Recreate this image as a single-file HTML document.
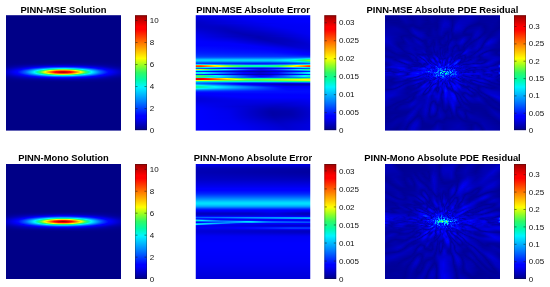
<!DOCTYPE html><html><head><meta charset="utf-8"><title>PINN results</title><style>html,body{margin:0;padding:0;background:#fff}
#f{position:relative;width:550px;height:287px;overflow:hidden;background:#fff;font-family:"Liberation Sans",Arial,sans-serif}
.h{position:absolute;width:115px;height:115px;overflow:hidden}
.h i{display:block;height:1px;width:115px}
.t{position:absolute;width:260px;text-align:center;font-weight:bold;font-size:9.4px;line-height:12px;color:#000;white-space:nowrap}
.c{position:absolute;left:0;top:0;width:11.5px;height:115px;background:linear-gradient(180deg,#9e0000 0%,#f00 10%,#f00 12.5%,#ff8000 25%,#ff0 37.5%,#94ff24 43.75%,#2efa66 50%,#00faa8 56.25%,#00f5ff 62.5%,#0080ff 75%,#00f 87.5%,#00f 89%,#000087 100%);box-shadow:inset 0 0 0 1px rgba(20,20,20,.3)}
.m{position:absolute;left:0;top:0;width:1.5px;height:1px;background:rgba(30,30,30,.55)}
.k{position:absolute;font-size:8px;line-height:10px;color:#111;white-space:nowrap}
</style></head><body><div id="f"><div class="t" style="left:-66.5px;top:3.7px">PINN-MSE Solution</div>
<div class="h" style="left:6px;top:15px;height:116px"><i style="opacity:.8;background:#000087"></i><i style="background:#000087"></i><i style="background:#000087"></i><i style="background:#000087"></i><i style="background:#000087"></i><i style="background:#000087"></i><i style="background:#000087"></i><i style="background:#000087"></i><i style="background:#000087"></i><i style="background:#000087"></i><i style="background:#000087"></i><i style="background:#000087"></i><i style="background:#000087"></i><i style="background:#000087"></i><i style="background:#000087"></i><i style="background:#000087"></i><i style="background:#000087"></i><i style="background:#000087"></i><i style="background:#000087"></i><i style="background:#000087"></i><i style="background:#000087"></i><i style="background:#000087"></i><i style="background:#000087"></i><i style="background:#000087"></i><i style="background:#000087"></i><i style="background:#000087"></i><i style="background:#000087"></i><i style="background:#000087"></i><i style="background:#000087"></i><i style="background:#000087"></i><i style="background:#000087"></i><i style="background:#000087"></i><i style="background:#000087"></i><i style="background:#000087"></i><i style="background:#000087"></i><i style="background:#000087"></i><i style="background:#000087"></i><i style="background:#000087"></i><i style="background:#000087"></i><i style="background:#000087"></i><i style="background:#000087"></i><i style="background:#000087"></i><i style="background:#000087"></i><i style="background:#000087"></i><i style="background:#000087"></i><i style="background:#000087"></i><i style="background:#008"></i><i style="background:linear-gradient(90deg,#008 0.5px,#00008d 85.5px,#008 114.5px)"></i><i style="background:linear-gradient(90deg,#00008a 0.5px,#009 67.5px,#00008a 114.5px)"></i><i style="background:linear-gradient(90deg,#00008c 0.5px,#0000af 59.5px,#00008c 114.5px)"></i><i style="background:linear-gradient(90deg,#000090 0.5px,#0000b8 31.5px,#0000d5 55.5px,#0000c2 76.5px,#000092 110.5px,#00008f 114.5px)"></i><i style="background:linear-gradient(90deg,#000096 0.5px,#0000bf 21.5px,#00f 43.5px,#0004ff 62.5px,#0000fb 73.5px,#0000a7 102.5px,#000095 114.5px)"></i><i style="background:linear-gradient(90deg,#00009e 0.5px,#00c 16.5px,#00f 27.5px,#0008ff 31.5px,#0057ff 47.5px,#0069ff 57.5px,#0054ff 67.5px,#00f 84.5px,#0000f6 88.5px,#0000b3 104.5px,#00009d 114.5px)"></i><i style="background:linear-gradient(90deg,#0000a8 0.5px,#0000dc 13.5px,#00f 19.5px,#0008ff 22.5px,#00bfff 44.5px,#00e8ff 52.5px,#00ecff 59.5px,#0cf 67.5px,#0065ff 80.5px,#0001ff 92.5px,#0000fa 95.5px,#00b 107.5px,#0000a6 114.5px)"></i><i style="background:linear-gradient(90deg,#0000b3 0.5px,#0000eb 11.5px,#00f 15.5px,#0032ff 21.5px,#00f5fd 37.5px,#05faa1 42.5px,#31fa64 47.5px,#70fd3b 52.5px,#83fe2f 56.5px,#77fe36 60.5px,#40fb5a 65.5px,#20fa7b 68.5px,#00f9b1 72.5px,#00f5fd 76.5px,#0032ff 92.5px,#00f 98.5px,#0000eb 102.5px,#0000b3 113.5px,#0000b0 114.5px)"></i><i style="background:linear-gradient(90deg,#0000bd 0.5px,#00f 11.5px,#000fff 14.5px,#006eff 22.5px,#00f5fb 31.5px,#00faac 34.5px,#29fa6d 37.5px,#a6ff1e 41.5px,#e7ff08 43.5px,#fffb00 44.5px,#ff9d00 50.5px,#ff7b00 54.5px,#f70 58.5px,#ff9200 62.5px,#ffd700 67.5px,#fffb00 69.5px,#c7ff13 71.5px,#65fd42 74.5px,#29fa6d 76.5px,#00faac 79.5px,#00f5fb 82.5px,#0053ff 93.5px,#0006ff 100.5px,#0000fa 103.5px,#0000bd 113.5px,#0000b9 114.5px)"></i><i style="background:linear-gradient(90deg,#0000c3 0.5px,#00f 9.5px,#0002ff 11.5px,#005fff 19.5px,#00dfff 27.5px,#00f2ff 28.5px,#00faac 31.5px,#33fa63 34.5px,#aaff1c 37.5px,#ff0 39.5px,#ff2400 48.5px,#f00 50.5px,#f00 51.5px,#d80000 55.5px,#d80000 58.5px,#f00 62.5px,#f00 63.5px,#ff5100 67.5px,#ff0 74.5px,#81fe30 77.5px,#33fa63 79.5px,#00faac 82.5px,#00f2ff 85.5px,#006eff 93.5px,#000cff 101.5px,#00f 103.5px,#0000f6 105.5px,#0000be 114.5px)"></i><i style="background:linear-gradient(90deg,#0000c3 0.5px,#00f 9.5px,#0003ff 11.5px,#0062ff 19.5px,#00f5fd 28.5px,#02faa5 31.5px,#24fa75 33.5px,#3efb5b 34.5px,#8eff28 36.5px,#e3ff09 38.5px,#fff600 39.5px,#ff1300 48.5px,#f00 49.5px,#f00 50.5px,#c70000 54.5px,#b00 57.5px,#d20000 60.5px,#f00 63.5px,#f00 64.5px,#ff8d00 70.5px,#fff600 74.5px,#e3ff09 75.5px,#8eff28 77.5px,#3efb5b 79.5px,#13fa8d 81.5px,#02faa5 82.5px,#00f5fd 85.5px,#0062ff 94.5px,#0003ff 102.5px,#0000f7 105.5px,#0000be 114.5px)"></i><i style="background:linear-gradient(90deg,#0000be 0.5px,#00f 11.5px,#000aff 13.5px,#0068ff 21.5px,#00f4ff 30.5px,#00f9b0 33.5px,#29fa6d 36.5px,#8aff2a 39.5px,#f4ff04 42.5px,#fff100 43.5px,#ff8500 49.5px,#ff5800 53.5px,#ff4b00 57.5px,#ff6100 61.5px,#ffa500 66.5px,#fff100 70.5px,#f4ff04 71.5px,#8aff2a 74.5px,#29fa6d 77.5px,#00f9b0 80.5px,#00f4ff 83.5px,#0068ff 92.5px,#000aff 100.5px,#00f 102.5px,#0000e6 106.5px,#0000ba 114.5px)"></i><i style="background:linear-gradient(90deg,#0000b5 0.5px,#0000f0 11.5px,#00f 14.5px,#0013ff 17.5px,#0085ff 27.5px,#00f1ff 35.5px,#06faa0 40.5px,#30fa64 44.5px,#8cff29 49.5px,#baff17 53.5px,#c8ff12 57.5px,#b2ff1a 61.5px,#7cfe33 65.5px,#30fa64 69.5px,#00f9b1 74.5px,#00f1ff 78.5px,#003cff 92.5px,#0002ff 98.5px,#0000f8 101.5px,#0000bd 111.5px,#0000b2 114.5px)"></i><i style="background:linear-gradient(90deg,#0000ab 0.5px,#0000dc 12.5px,#00f 18.5px,#000aff 21.5px,#00e1ff 45.5px,#00f4ff 48.5px,#00f7de 54.5px,#00f7e1 60.5px,#00efff 66.5px,#008bff 78.5px,#0003ff 93.5px,#0000fc 96.5px,#00b 108.5px,#0000a8 114.5px)"></i><i style="background:linear-gradient(90deg,#0000a0 0.5px,#0000cd 15.5px,#00f 25.5px,#000aff 29.5px,#006eff 47.5px,#0081ff 56.5px,#0072ff 65.5px,#02f 80.5px,#00f 86.5px,#0000f5 90.5px,#0000b4 105.5px,#00009e 114.5px)"></i><i style="background:linear-gradient(90deg,#000097 0.5px,#0000c2 20.5px,#00f 38.5px,#0008ff 45.5px,#0017ff 58.5px,#00f 74.5px,#0000e8 82.5px,#0000a8 103.5px,#000096 114.5px)"></i><i style="background:linear-gradient(90deg,#000091 0.5px,#0000b8 28.5px,#0000df 53.5px,#0000d3 71.5px,#000095 108.5px,#000090 114.5px)"></i><i style="background:linear-gradient(90deg,#00008d 0.5px,#0000b5 58.5px,#00008c 114.5px)"></i><i style="background:linear-gradient(90deg,#00008a 0.5px,#00009d 65.5px,#00008a 114.5px)"></i><i style="background:linear-gradient(90deg,#000089 0.5px,#00008f 80.5px,#000089 114.5px)"></i><i style="background:#008"></i><i style="background:#000087"></i><i style="background:#000087"></i><i style="background:#000087"></i><i style="background:#000087"></i><i style="background:#000087"></i><i style="background:#000087"></i><i style="background:#000087"></i><i style="background:#000087"></i><i style="background:#000087"></i><i style="background:#000087"></i><i style="background:#000087"></i><i style="background:#000087"></i><i style="background:#000087"></i><i style="background:#000087"></i><i style="background:#000087"></i><i style="background:#000087"></i><i style="background:#000087"></i><i style="background:#000087"></i><i style="background:#000087"></i><i style="background:#000087"></i><i style="background:#000087"></i><i style="background:#000087"></i><i style="background:#000087"></i><i style="background:#000087"></i><i style="background:#000087"></i><i style="background:#000087"></i><i style="background:#000087"></i><i style="background:#000087"></i><i style="background:#000087"></i><i style="background:#000087"></i><i style="background:#000087"></i><i style="background:#000087"></i><i style="background:#000087"></i><i style="background:#000087"></i><i style="background:#000087"></i><i style="background:#000087"></i><i style="background:#000087"></i><i style="background:#000087"></i><i style="background:#000087"></i><i style="background:#000087"></i><i style="background:#000087"></i><i style="background:#000087"></i><i style="background:#000087"></i><i style="background:#000087"></i><i style="background:#000087"></i><i style="background:#000087"></i><i style="background:#000087"></i><i style="opacity:.6;background:#000087"></i></div>
<div class="c" style="height:115.4px;transform:translate(135px,15.2px)"></div>
<div class="k" style="left:149.7px;top:125.9px">0</div>
<div class="k" style="left:149.7px;top:103.877px">2</div>
<b class="m" style="transform:translate(135.5px,108.077px)"></b><b class="m" style="transform:translate(144.5px,108.077px)"></b>
<div class="k" style="left:149.7px;top:81.8542px">4</div>
<b class="m" style="transform:translate(135.5px,86.0542px)"></b><b class="m" style="transform:translate(144.5px,86.0542px)"></b>
<div class="k" style="left:149.7px;top:59.8313px">6</div>
<b class="m" style="transform:translate(135.5px,64.0313px)"></b><b class="m" style="transform:translate(144.5px,64.0313px)"></b>
<div class="k" style="left:149.7px;top:37.8084px">8</div>
<b class="m" style="transform:translate(135.5px,42.0084px)"></b><b class="m" style="transform:translate(144.5px,42.0084px)"></b>
<div class="k" style="left:149.7px;top:15.7855px">10</div>
<b class="m" style="transform:translate(135.5px,19.9855px)"></b><b class="m" style="transform:translate(144.5px,19.9855px)"></b>
<div class="t" style="left:123px;top:3.7px">PINN-MSE Absolute Error</div>
<div class="h" style="left:195px;top:15px;height:116px;transform:translateX(0.5px)"><i style="opacity:.8;background:linear-gradient(90deg,#0000e5 0.5px,#00f 72.5px,#000eff 114.5px)"></i><i style="background:linear-gradient(90deg,#0000e0 0.5px,#00f 67.5px,#000aff 106.5px,#000bff 114.5px)"></i><i style="background:linear-gradient(90deg,#0000dc 0.5px,#0000fd 61.5px,#0006ff 114.5px)"></i><i style="background:linear-gradient(90deg,#0000d7 0.5px,#0000f9 56.5px,#00f 114.5px)"></i><i style="background:linear-gradient(90deg,#0000d2 0.5px,#0000f8 57.5px,#00f 114.5px)"></i><i style="background:linear-gradient(90deg,#0000ce 0.5px,#0000f7 60.5px,#00f 114.5px)"></i><i style="background:linear-gradient(90deg,#0000ca 0.5px,#0000f7 65.5px,#00f 114.5px)"></i><i style="background:linear-gradient(90deg,#0000c7 0.5px,#0000f7 70.5px,#0000fd 114.5px)"></i><i style="background:linear-gradient(90deg,#0000c5 0.5px,#0000e3 41.5px,#0000f9 88.5px,#0000fa 114.5px)"></i><i style="background:linear-gradient(90deg,#0000c4 0.5px,#0000d3 31.5px,#0000f5 76.5px,#0000f9 114.5px)"></i><i style="background:linear-gradient(90deg,#0000c5 0.5px,#0000cb 28.5px,#0000f4 78.5px,#0000f8 114.5px)"></i><i style="background:linear-gradient(90deg,#0000c6 0.5px,#0000c5 27.5px,#0000f3 82.5px,#0000f7 114.5px)"></i><i style="background:linear-gradient(90deg,#0000c9 0.5px,#0000c1 28.5px,#0000f3 87.5px,#0000f7 114.5px)"></i><i style="background:linear-gradient(90deg,#0000cd 0.5px,#0000be 29.5px,#0000f3 92.5px,#0000f7 114.5px)"></i><i style="background:linear-gradient(90deg,#0000d1 0.5px,#0000bc 31.5px,#0000d8 63.5px,#0000f4 100.5px,#0000f6 114.5px)"></i><i style="background:linear-gradient(90deg,#0000d6 0.5px,#0000ba 33.5px,#0000cd 60.5px,#0000f2 98.5px,#0000f6 114.5px)"></i><i style="background:linear-gradient(90deg,#0000db 0.5px,#0000b8 36.5px,#0000c9 62.5px,#0000f1 101.5px,#0000f5 114.5px)"></i><i style="background:linear-gradient(90deg,#0000e0 0.5px,#0000b6 40.5px,#0000c6 65.5px,#0000f1 104.5px,#0000f4 114.5px)"></i><i style="background:linear-gradient(90deg,#0000e4 0.5px,#0000b5 44.5px,#0000c3 68.5px,#0000f0 107.5px,#0000f3 114.5px)"></i><i style="background:linear-gradient(90deg,#0000e9 0.5px,#0000b3 49.5px,#0000c4 73.5px,#0000f0 111.5px,#0000f2 114.5px)"></i><i style="background:linear-gradient(90deg,#0000ed 0.5px,#0000b2 53.5px,#0000c1 76.5px,#0000f0 114.5px)"></i><i style="background:linear-gradient(90deg,#0000f0 0.5px,#0000c1 40.5px,#0000b2 63.5px,#0000d3 92.5px,#0000ed 114.5px)"></i><i style="background:linear-gradient(90deg,#0000f3 0.5px,#0000d0 34.5px,#0000b1 62.5px,#0000c2 85.5px,#0000ea 114.5px)"></i><i style="background:linear-gradient(90deg,#0000f6 0.5px,#0000d8 34.5px,#0000b2 65.5px,#0000c0 87.5px,#0000e7 114.5px)"></i><i style="background:linear-gradient(90deg,#0000f9 0.5px,#0000df 34.5px,#0000b3 68.5px,#0000bf 90.5px,#0000e3 114.5px)"></i><i style="background:linear-gradient(90deg,#0000fc 0.5px,#0000e5 35.5px,#0000b5 72.5px,#0000c0 93.5px,#0000e0 114.5px)"></i><i style="background:linear-gradient(90deg,#00f 0.5px,#0000ed 35.5px,#0000b8 76.5px,#0000c2 97.5px,#0000dc 114.5px)"></i><i style="background:linear-gradient(90deg,#00f 0.5px,#0000f6 33.5px,#00b 81.5px,#0000c8 103.5px,#0000d9 114.5px)"></i><i style="background:linear-gradient(90deg,#00f 0.5px,#0000f8 39.5px,#0000bf 85.5px,#00c 107.5px,#0000d6 114.5px)"></i><i style="background:linear-gradient(90deg,#00f 0.5px,#0000fa 46.5px,#0000c3 89.5px,#0000d0 111.5px,#0000d4 114.5px)"></i><i style="background:linear-gradient(90deg,#00f 0.5px,#0000f9 54.5px,#0000c8 93.5px,#0000d3 114.5px)"></i><i style="background:linear-gradient(90deg,#0004ff 0.5px,#0000fa 61.5px,#0000ce 97.5px,#0000d4 114.5px)"></i><i style="background:linear-gradient(90deg,#0008ff 0.5px,#0000fa 69.5px,#0000d3 102.5px,#0000d6 114.5px)"></i><i style="background:linear-gradient(90deg,#000bff 0.5px,#0000fa 76.5px,#0000d8 107.5px,#0000d8 114.5px)"></i><i style="background:linear-gradient(90deg,#000eff 0.5px,#0004ff 61.5px,#0000f9 84.5px,#00d 112.5px,#00d 114.5px)"></i><i style="background:linear-gradient(90deg,#01f 0.5px,#0008ff 64.5px,#0000f9 91.5px,#0000e3 114.5px)"></i><i style="background:linear-gradient(90deg,#0015ff 0.5px,#000cff 68.5px,#00f 93.5px,#0000ea 114.5px)"></i><i style="background:linear-gradient(90deg,#001aff 0.5px,#0010ff 73.5px,#00f 99.5px,#0000f4 114.5px)"></i><i style="background:linear-gradient(90deg,#0020ff 0.5px,#0017ff 77.5px,#00f 108.5px,#00f 114.5px)"></i><i style="background:linear-gradient(90deg,#0028ff 0.5px,#001fff 82.5px,#0001ff 114.5px)"></i><i style="background:linear-gradient(90deg,#0032ff 0.5px,#0028ff 87.5px,#0012ff 114.5px)"></i><i style="background:linear-gradient(90deg,#003fff 0.5px,#0034ff 99.5px,#002dff 114.5px)"></i><i style="background:linear-gradient(90deg,#005aff 0.5px,#005cff 99.5px,#0068ff 114.5px)"></i><i style="background:linear-gradient(90deg,#008cff 0.5px,#008dff 84.5px,#00acff 102.5px,#00d4ff 113.5px,#00d3ff 114.5px)"></i><i style="background:linear-gradient(90deg,#00c4ff 0.5px,#00c3ff 79.5px,#00e2ff 94.5px,#00f5fc 99.5px,#00faa9 108.5px,#1dfa7e 113.5px,#1dfa7f 114.5px)"></i><i style="background:linear-gradient(90deg,#00d8ff 0.5px,#00d3ff 77.5px,#00f1ff 91.5px,#00f6ec 95.5px,#03faa4 103.5px,#2cfa69 109.5px,#62fd44 112.5px,#6cfd3e 113.5px,#6bfd3e 114.5px)"></i><i style="background:linear-gradient(90deg,#00adff 0.5px,#00a3ff 75.5px,#0bf 90.5px,#00f5fc 103.5px,#05faa2 111.5px,#10fa92 113.5px,#0ffa92 114.5px)"></i><i style="background:linear-gradient(90deg,#0062ff 0.5px,#004fff 72.5px,#0067ff 92.5px,#00a0ff 108.5px,#00b8ff 113.5px,#00b7ff 114.5px)"></i><i style="background:linear-gradient(90deg,#003eff 0.5px,#0016ff 61.5px,#0026ff 88.5px,#0057ff 110.5px,#005fff 114.5px)"></i><i style="background:linear-gradient(90deg,#00d9ff 0.5px,#00d3ff 6.5px,#0082ff 32.5px,#0059ff 56.5px,#005aff 72.5px,#0085ff 91.5px,#00d8ff 111.5px,#00e0ff 114.5px)"></i><i style="background:linear-gradient(90deg,#ff7100 0.5px,#f70 5.5px,#fff900 18.5px,#fbff01 19.5px,#78fe36 29.5px,#2bfa6a 37.5px,#00faad 52.5px,#00f8c6 63.5px,#00f9b7 72.5px,#0bfa98 79.5px,#2efa66 87.5px,#a7ff1d 96.5px,#fdff01 101.5px,#ff7000 113.5px,#ff7100 114.5px)"></i><i style="background:linear-gradient(90deg,#ff2b00 0.5px,#ff3100 5.5px,#ffcd00 19.5px,#fffc00 24.5px,#81fe30 34.5px,#2cfa68 43.5px,#0afa9a 56.5px,#03faa4 67.5px,#19fa84 77.5px,#2efa66 82.5px,#90ff26 90.5px,#fffb00 97.5px,#ff6f00 108.5px,#f30 112.5px,#ff2c00 114.5px)"></i><i style="background:linear-gradient(90deg,#00f8c3 0.5px,#00f8c7 5.5px,#00f4ff 12.5px,#0094ff 34.5px,#005eff 55.5px,#0057ff 68.5px,#007dff 83.5px,#0cf 100.5px,#00f5fc 107.5px,#00f8c3 113.5px,#00f8c3 114.5px)"></i><i style="background:linear-gradient(90deg,#0059ff 0.5px,#0050ff 7.5px,#00f 35.5px,#0000f7 45.5px,#0000db 65.5px,#0000fc 84.5px,#0007ff 93.5px,#0050ff 114.5px)"></i><i style="background:linear-gradient(90deg,#d4ff0e 0.5px,#d4ff0e 4.5px,#bbff17 6.5px,#6afd3f 11.5px,#2dfa67 15.5px,#00faab 22.5px,#00f4ff 29.5px,#03f 56.5px,#000aff 65.5px,#002aff 75.5px,#0084ff 89.5px,#00f5fb 103.5px,#02faa5 109.5px,#1efa7c 113.5px,#1efa7c 114.5px)"></i><i style="background:linear-gradient(90deg,#00f5f7 0.5px,#00f5fc 5.5px,#001aff 45.5px,#00f 52.5px,#0000f2 58.5px,#0000e1 66.5px,#00f 79.5px,#000fff 84.5px,#0078ff 102.5px,#00c0ff 113.5px,#00c0ff 114.5px)"></i><i style="background:linear-gradient(90deg,#0025ff 0.5px,#001dff 7.5px,#00f 18.5px,#0000f5 25.5px,#0000b3 54.5px,#0000ab 68.5px,#0000db 89.5px,#00f 101.5px,#000dff 107.5px,#0023ff 114.5px)"></i><i style="background:linear-gradient(90deg,#00f7e1 0.5px,#00f6e6 5.5px,#00f1ff 8.5px,#0021ff 41.5px,#00f 48.5px,#0000fa 52.5px,#0000d0 64.5px,#0000e6 73.5px,#00f 79.5px,#0006ff 82.5px,#0078ff 98.5px,#00f5fe 113.5px,#00f5fe 114.5px)"></i><i style="background:linear-gradient(90deg,#00f7e1 0.5px,#00f6e6 5.5px,#00f1ff 8.5px,#0021ff 41.5px,#00f 48.5px,#0000fa 52.5px,#0000d0 64.5px,#0000e6 73.5px,#00f 79.5px,#0006ff 82.5px,#0079ff 98.5px,#00f5fe 113.5px,#00f5fe 114.5px)"></i><i style="background:linear-gradient(90deg,#002eff 0.5px,#0025ff 7.5px,#00f 20.5px,#0000f5 27.5px,#0000b4 55.5px,#0000ad 68.5px,#0000db 88.5px,#00f 99.5px,#0007ff 104.5px,#0029ff 114.5px)"></i><i style="background:linear-gradient(90deg,#2bfa6a 0.5px,#28fa6e 5.5px,#00faac 12.5px,#00f2ff 20.5px,#0028ff 51.5px,#00f 60.5px,#0004ff 74.5px,#0050ff 88.5px,#00f0ff 109.5px,#00f7d8 113.5px,#00f7d8 114.5px)"></i><i style="background:linear-gradient(90deg,#57fc4b 0.5px,#57fc4b 4.5px,#25fa73 9.5px,#00f9b3 16.5px,#00f4ff 23.5px,#0038ff 52.5px,#0003ff 64.5px,#0019ff 74.5px,#0069ff 89.5px,#00f4ff 108.5px,#00f8c7 113.5px,#00f8c7 114.5px)"></i><i style="background:linear-gradient(90deg,#00f9b5 0.5px,#00f9b7 5.5px,#00f3ff 14.5px,#0079ff 39.5px,#003dff 57.5px,#0038ff 68.5px,#006bff 94.5px,#009fff 114.5px)"></i><i style="background:linear-gradient(90deg,#f50000 0.5px,#f60000 5.5px,#f00 8.5px,#ffdb00 27.5px,#f9ff02 31.5px,#81fe30 39.5px,#2dfa68 46.5px,#00faab 58.5px,#00f9b7 64.5px,#09fa9c 79.5px,#35fa61 102.5px,#67fd41 113.5px,#67fd41 114.5px)"></i><i style="background:linear-gradient(90deg,#db0000 0.5px,#d90000 5.5px,#f00 9.5px,#ff0600 12.5px,#ffb200 30.5px,#fffe00 40.5px,#95ff23 51.5px,#67fd41 59.5px,#65fd42 66.5px,#adff1b 89.5px,#fffe00 108.5px,#fff000 114.5px)"></i><i style="background:linear-gradient(90deg,#f2ff04 0.5px,#f5ff03 6.5px,#84fe2e 29.5px,#49fb54 49.5px,#3efb5c 62.5px,#72fd3a 83.5px,#cdff11 107.5px,#e7ff08 114.5px)"></i><i style="background:linear-gradient(90deg,#00f9bc 0.5px,#00f8c3 16.5px,#00f7d4 55.5px,#00f9bf 76.5px,#07fa9e 94.5px,#22fa77 114.5px)"></i><i style="background:linear-gradient(90deg,#0093ff 0.5px,#0053ff 57.5px,#0059ff 91.5px,#0072ff 114.5px)"></i><i style="background:linear-gradient(90deg,#0073ff 0.5px,#00f 43.5px,#0000eb 59.5px,#0000d3 91.5px,#0000e1 114.5px)"></i><i style="background:linear-gradient(90deg,#00b3ff 0.5px,#00f 46.5px,#0000f0 55.5px,#0000ae 89.5px,#0000b7 114.5px)"></i><i style="background:linear-gradient(90deg,#00f7e1 0.5px,#00f0ff 6.5px,#02f 54.5px,#00f 66.5px,#0000f5 73.5px,#0000ca 91.5px,#0000d0 114.5px)"></i><i style="background:linear-gradient(90deg,#0efa94 0.5px,#00f9b3 6.5px,#00f4ff 18.5px,#02f 70.5px,#00f 81.5px,#0000f9 87.5px,#0000f3 97.5px,#0000f6 114.5px)"></i><i style="background:linear-gradient(90deg,#0bfa98 0.5px,#00f9ba 7.5px,#00f1ff 20.5px,#0009ff 84.5px,#00f 91.5px,#00f 114.5px)"></i><i style="background:linear-gradient(90deg,#00f6ec 0.5px,#00f1ff 6.5px,#0007ff 87.5px,#0004ff 114.5px)"></i><i style="background:linear-gradient(90deg,#00adff 0.5px,#0007ff 90.5px,#0008ff 114.5px)"></i><i style="background:linear-gradient(90deg,#005fff 0.5px,#0009ff 93.5px,#000aff 114.5px)"></i><i style="background:linear-gradient(90deg,#0028ff 0.5px,#0010ff 71.5px,#000bff 114.5px)"></i><i style="background:linear-gradient(90deg,#000aff 0.5px,#000eff 51.5px,#0009ff 114.5px)"></i><i style="background:linear-gradient(90deg,#00f 0.5px,#0005ff 69.5px,#0006ff 114.5px)"></i><i style="background:linear-gradient(90deg,#0000fc 0.5px,#0002ff 114.5px)"></i><i style="background:linear-gradient(90deg,#0000f2 0.5px,#00f 24.5px,#00f 114.5px)"></i><i style="background:linear-gradient(90deg,#0000e9 0.5px,#00f 35.5px,#00f 114.5px)"></i><i style="background:linear-gradient(90deg,#0000e3 0.5px,#0000fe 47.5px,#00f 114.5px)"></i><i style="background:linear-gradient(90deg,#0000de 0.5px,#0000f8 52.5px,#0000fa 108.5px,#0000fc 114.5px)"></i><i style="background:linear-gradient(90deg,#00d 0.5px,#0000f1 57.5px,#0000f3 105.5px,#0000f8 114.5px)"></i><i style="background:linear-gradient(90deg,#0000de 0.5px,#0000ea 64.5px,#00e 105.5px,#0000f4 114.5px)"></i><i style="background:linear-gradient(90deg,#0000e1 0.5px,#0000e7 101.5px,#0000f0 114.5px)"></i><i style="background:linear-gradient(90deg,#0000e6 0.5px,#0000de 96.5px,#0000ec 114.5px)"></i><i style="background:linear-gradient(90deg,#0000eb 0.5px,#0000d5 90.5px,#0000e8 114.5px)"></i><i style="background:linear-gradient(90deg,#0000f0 0.5px,#0000cd 85.5px,#0000e4 114.5px)"></i><i style="background:linear-gradient(90deg,#0000f4 0.5px,#0000c7 80.5px,#0000d7 106.5px,#0000e1 114.5px)"></i><i style="background:linear-gradient(90deg,#0000f8 0.5px,#0000d2 51.5px,#0000c0 82.5px,#0000d3 107.5px,#00d 114.5px)"></i><i style="background:linear-gradient(90deg,#0000fb 0.5px,#0000dc 42.5px,#00b 76.5px,#0000c5 100.5px,#0000d9 114.5px)"></i><i style="background:linear-gradient(90deg,#0000fd 0.5px,#0000e2 38.5px,#0000b5 75.5px,#0000be 98.5px,#0000d6 114.5px)"></i><i style="background:linear-gradient(90deg,#0000fe 0.5px,#0000e6 36.5px,#0000b1 74.5px,#0000b7 96.5px,#0000d3 114.5px)"></i><i style="background:linear-gradient(90deg,#00f 0.5px,#0000ea 34.5px,#0000ad 75.5px,#0000b3 96.5px,#0000d1 114.5px)"></i><i style="background:linear-gradient(90deg,#00f 0.5px,#0000ec 33.5px,#00a 75.5px,#0000af 95.5px,#0000cf 114.5px)"></i><i style="background:linear-gradient(90deg,#00f 0.5px,#0000ed 33.5px,#0000a8 76.5px,#0000af 96.5px,#0000ce 114.5px)"></i><i style="background:linear-gradient(90deg,#00f 0.5px,#00e 33.5px,#0000a8 76.5px,#0000ad 95.5px,#0000ce 114.5px)"></i><i style="background:linear-gradient(90deg,#00f 0.5px,#00e 33.5px,#0000a8 77.5px,#0000ae 96.5px,#0000ce 114.5px)"></i><i style="background:linear-gradient(90deg,#00f 0.5px,#0000ef 33.5px,#0000a9 77.5px,#0000b0 96.5px,#0000cf 114.5px)"></i><i style="background:linear-gradient(90deg,#00f 0.5px,#0000f0 33.5px,#0000ac 78.5px,#0000b4 98.5px,#0000d0 114.5px)"></i><i style="background:linear-gradient(90deg,#00f 0.5px,#0000ef 34.5px,#0000af 78.5px,#0000b7 98.5px,#0000d2 114.5px)"></i><i style="background:linear-gradient(90deg,#00f 0.5px,#0000ef 35.5px,#0000b3 79.5px,#0000bd 100.5px,#0000d4 114.5px)"></i><i style="background:linear-gradient(90deg,#00f 0.5px,#0000f1 35.5px,#0000b7 80.5px,#0000c3 102.5px,#0000d6 114.5px)"></i><i style="background:linear-gradient(90deg,#00f 0.5px,#0000f1 36.5px,#00b 81.5px,#0000c9 104.5px,#0000d8 114.5px)"></i><i style="background:linear-gradient(90deg,#00f 0.5px,#0000f2 37.5px,#0000bf 82.5px,#0000cf 106.5px,#0000da 114.5px)"></i><i style="background:linear-gradient(90deg,#00f 0.5px,#0000f1 39.5px,#0000c3 83.5px,#0000d4 108.5px,#0000dc 114.5px)"></i><i style="background:linear-gradient(90deg,#00f 0.5px,#0000f2 40.5px,#0000c7 84.5px,#0000d8 110.5px,#00d 114.5px)"></i><i style="background:linear-gradient(90deg,#00f 0.5px,#0000f3 41.5px,#0000ca 86.5px,#0000df 114.5px)"></i><i style="background:linear-gradient(90deg,#00f 0.5px,#0000f4 42.5px,#00c 87.5px,#0000df 114.5px)"></i><i style="background:linear-gradient(90deg,#00f 0.5px,#0000f4 44.5px,#0000ce 88.5px,#0000e0 114.5px)"></i><i style="background:linear-gradient(90deg,#00f 0.5px,#0000f4 45.5px,#0000d0 90.5px,#0000e0 114.5px)"></i><i style="background:linear-gradient(90deg,#00f 0.5px,#0000f5 46.5px,#0000d1 91.5px,#0000e1 114.5px)"></i><i style="background:linear-gradient(90deg,#00f 0.5px,#0000f5 47.5px,#0000d3 92.5px,#0000e1 114.5px)"></i><i style="opacity:.6;background:linear-gradient(90deg,#00f 0.5px,#0000f5 47.5px,#0000d3 92.5px,#0000e1 114.5px)"></i></div>
<div class="c" style="height:115.4px;transform:translate(324.3px,15.2px)"></div>
<div class="k" style="left:339px;top:125.9px">0</div>
<div class="k" style="left:339px;top:107.925px">0.005</div>
<b class="m" style="transform:translate(324.8px,112.125px)"></b><b class="m" style="transform:translate(333.8px,112.125px)"></b>
<div class="k" style="left:339px;top:89.9498px">0.01</div>
<b class="m" style="transform:translate(324.8px,94.1498px)"></b><b class="m" style="transform:translate(333.8px,94.1498px)"></b>
<div class="k" style="left:339px;top:71.9748px">0.015</div>
<b class="m" style="transform:translate(324.8px,76.1748px)"></b><b class="m" style="transform:translate(333.8px,76.1748px)"></b>
<div class="k" style="left:339px;top:53.9997px">0.02</div>
<b class="m" style="transform:translate(324.8px,58.1997px)"></b><b class="m" style="transform:translate(333.8px,58.1997px)"></b>
<div class="k" style="left:339px;top:36.0246px">0.025</div>
<b class="m" style="transform:translate(324.8px,40.2246px)"></b><b class="m" style="transform:translate(333.8px,40.2246px)"></b>
<div class="k" style="left:339px;top:18.0495px">0.03</div>
<b class="m" style="transform:translate(324.8px,22.2495px)"></b><b class="m" style="transform:translate(333.8px,22.2495px)"></b>
<div class="t" style="left:312.5px;top:3.7px">PINN-MSE Absolute PDE Residual</div>
<div class="h" style="left:385px;top:15px;height:116px"><i style="opacity:.8;background:linear-gradient(90deg,#000096 0.5px,#00009c 5.5px,#000096 11.5px,#0000af 16.5px,#00009c 25.5px,#0000a8 32.5px,#000098 42.5px,#0000a2 46.5px,#000095 49.5px,#000097 53.5px,#00009f 60.5px,#000097 64.5px,#0000a6 69.5px,#0000ab 75.5px,#00b 84.5px,#00009f 95.5px,#00009b 108.5px,#0000a2 114.5px)"></i><i style="background:linear-gradient(90deg,#000098 0.5px,#000096 4.5px,#00009b 9.5px,#000093 11.5px,#0000b0 17.5px,#00009b 25.5px,#0000a8 33.5px,#000098 42.5px,#0000a3 46.5px,#000097 50.5px,#000098 54.5px,#0000a5 59.5px,#000098 65.5px,#0000a6 72.5px,#0000bc 84.5px,#00009f 96.5px,#00009e 108.5px,#0000a3 114.5px)"></i><i style="background:linear-gradient(90deg,#00009a 0.5px,#000095 5.5px,#00009a 10.5px,#000095 12.5px,#0000b0 17.5px,#00009c 26.5px,#0000a9 33.5px,#000097 42.5px,#0000a4 46.5px,#000096 51.5px,#0000a0 55.5px,#00a 60.5px,#000096 65.5px,#0000bd 82.5px,#00009e 98.5px,#0000a1 114.5px)"></i><i style="background:linear-gradient(90deg,#000098 0.5px,#00009a 8.5px,#000097 13.5px,#0000b0 18.5px,#00009d 27.5px,#00a 33.5px,#000097 42.5px,#0000a4 46.5px,#000096 52.5px,#0000b0 59.5px,#0000a1 64.5px,#000095 66.5px,#0000b5 76.5px,#0000bd 84.5px,#0000a0 95.5px,#0000a1 113.5px,#00009e 114.5px)"></i><i style="background:linear-gradient(90deg,#000094 0.5px,#000098 5.5px,#000097 12.5px,#009 14.5px,#0000b0 19.5px,#00009d 27.5px,#0000a8 34.5px,#000096 42.5px,#0000a4 46.5px,#000097 52.5px,#0000b5 59.5px,#0000a7 64.5px,#000097 67.5px,#0000b8 74.5px,#0000bc 84.5px,#00009f 95.5px,#0000a2 112.5px,#00009c 114.5px)"></i><i style="background:linear-gradient(90deg,#000095 0.5px,#000096 13.5px,#0000a1 16.5px,#0000ae 20.5px,#00009d 27.5px,#0000a9 34.5px,#000095 42.5px,#0000a3 46.5px,#009 52.5px,#00b 59.5px,#0000b3 63.5px,#000097 67.5px,#00b 74.5px,#00b 84.5px,#00009d 95.5px,#0000a2 111.5px,#009 114.5px)"></i><i style="background:linear-gradient(90deg,#009 0.5px,#009 11.5px,#000097 15.5px,#0000ab 20.5px,#00009f 28.5px,#0000a8 34.5px,#000098 43.5px,#0000a0 47.5px,#009 52.5px,#0000bf 59.5px,#0000b9 63.5px,#009 67.5px,#0000ac 70.5px,#0000be 74.5px,#0000bc 79.5px,#0000b9 84.5px,#00009b 94.5px,#0000a3 110.5px,#000097 114.5px)"></i><i style="background:linear-gradient(90deg,#00009d 0.5px,#000094 9.5px,#000097 14.5px,#00009e 17.5px,#0000a9 21.5px,#00009f 28.5px,#0000a8 34.5px,#000096 42.5px,#00009f 47.5px,#000096 51.5px,#0000b4 56.5px,#0000c5 60.5px,#0000b6 64.5px,#00009a 67.5px,#0000a6 69.5px,#0000c2 73.5px,#0000bd 79.5px,#0000b5 84.5px,#000098 93.5px,#0000a1 102.5px,#0000a1 110.5px,#000097 114.5px)"></i><i style="background:linear-gradient(90deg,#00009f 0.5px,#000096 11.5px,#00009a 17.5px,#0000a5 21.5px,#00009d 28.5px,#0000a6 34.5px,#000097 40.5px,#00009b 48.5px,#000098 52.5px,#0000c7 59.5px,#0000c0 63.5px,#00009b 67.5px,#00a 69.5px,#0000c3 72.5px,#0000b9 82.5px,#000095 92.5px,#00009b 100.5px,#0000a5 107.5px,#000098 114.5px)"></i><i style="background:linear-gradient(90deg,#0000a1 0.5px,#000097 13.5px,#00009b 18.5px,#0000a0 22.5px,#000097 27.5px,#0000a6 33.5px,#000096 40.5px,#00009a 48.5px,#000098 52.5px,#0000c6 58.5px,#0000c4 62.5px,#0000a6 66.5px,#000098 67.5px,#0000c3 71.5px,#0000c6 74.5px,#0000b3 82.5px,#000096 89.5px,#000098 97.5px,#00009c 100.5px,#0000a4 107.5px,#009 114.5px)"></i><i style="background:linear-gradient(90deg,#0000a2 0.5px,#00009e 8.5px,#000098 18.5px,#00009d 22.5px,#000098 25.5px,#009 29.5px,#0000a2 34.5px,#000098 38.5px,#00009d 46.5px,#000097 52.5px,#0000c7 58.5px,#0000c0 63.5px,#0000a5 66.5px,#000096 67.5px,#0000bf 70.5px,#0000cb 73.5px,#0000b9 80.5px,#000098 86.5px,#00009e 96.5px,#000096 99.5px,#0000a5 105.5px,#000098 114.5px)"></i><i style="background:linear-gradient(90deg,#0000a3 0.5px,#0000a5 8.5px,#000096 17.5px,#009 22.5px,#009 24.5px,#00009e 28.5px,#000097 30.5px,#00009f 34.5px,#00009a 38.5px,#00009a 45.5px,#00009b 48.5px,#000097 52.5px,#0000c6 58.5px,#0000b7 64.5px,#009 67.5px,#0000c4 70.5px,#00c 73.5px,#0000b4 80.5px,#000097 84.5px,#0000a5 95.5px,#000095 99.5px,#0000a4 106.5px,#000097 114.5px)"></i><i style="background:linear-gradient(90deg,#0000a4 0.5px,#0000a9 9.5px,#000096 18.5px,#00009d 24.5px,#00a 27.5px,#000096 31.5px,#000098 35.5px,#00009a 41.5px,#00009a 45.5px,#00009e 48.5px,#000098 52.5px,#0000c1 57.5px,#0000be 61.5px,#0000ab 65.5px,#00009d 67.5px,#0000c7 70.5px,#00c 73.5px,#0000b5 79.5px,#00009a 82.5px,#0000ac 94.5px,#000096 99.5px,#0000a4 106.5px,#000094 114.5px)"></i><i style="background:linear-gradient(90deg,#0000a7 0.5px,#0000ac 10.5px,#000097 20.5px,#00009f 24.5px,#0000b2 27.5px,#0000a6 30.5px,#000096 34.5px,#00009d 40.5px,#000097 44.5px,#0000a1 48.5px,#00009a 52.5px,#0000bf 57.5px,#0000a8 65.5px,#00009b 66.5px,#0000a0 67.5px,#0000c9 70.5px,#0000c8 74.5px,#0000b8 78.5px,#000098 81.5px,#0000b0 94.5px,#000097 100.5px,#0000a2 106.5px,#000095 113.5px,#009 114.5px)"></i><i style="background:linear-gradient(90deg,#00a 0.5px,#0000ac 12.5px,#000096 22.5px,#0000b9 28.5px,#00009d 34.5px,#00009e 40.5px,#000098 44.5px,#0000a4 48.5px,#009 51.5px,#0000be 57.5px,#0000a5 65.5px,#009 66.5px,#0000c7 70.5px,#0000c0 76.5px,#00009a 80.5px,#0000a6 85.5px,#0000b4 94.5px,#000097 100.5px,#0000a1 105.5px,#000097 112.5px,#00009e 114.5px)"></i><i style="background:linear-gradient(90deg,#0000ad 0.5px,#0000ac 13.5px,#000098 23.5px,#0000bf 28.5px,#0000b6 31.5px,#0000a7 34.5px,#00009e 40.5px,#000097 44.5px,#0000a7 48.5px,#00009c 51.5px,#0000bc 57.5px,#0000a5 62.5px,#0000a4 65.5px,#000098 66.5px,#0000be 69.5px,#0000c4 72.5px,#0000b4 77.5px,#00009e 79.5px,#00009a 80.5px,#0000a8 83.5px,#00a 88.5px,#0000b9 93.5px,#000098 100.5px,#0000a0 105.5px,#000097 110.5px,#0000a4 114.5px)"></i><i style="background:linear-gradient(90deg,#0000af 0.5px,#00a 15.5px,#000097 23.5px,#0000ac 26.5px,#0000c4 29.5px,#00009e 40.5px,#000097 44.5px,#0000a8 48.5px,#0000a2 52.5px,#0000ba 56.5px,#0000ad 59.5px,#00009e 62.5px,#0000a4 65.5px,#00009a 66.5px,#00b 69.5px,#0000b9 75.5px,#000096 79.5px,#0000a9 82.5px,#0000a6 87.5px,#0000bd 92.5px,#0000af 96.5px,#000098 99.5px,#00009f 104.5px,#000096 108.5px,#0000a8 114.5px)"></i><i style="background:linear-gradient(90deg,#0000b0 0.5px,#0000a6 17.5px,#000098 24.5px,#0000ba 28.5px,#0000c8 30.5px,#0000af 38.5px,#000098 42.5px,#00009c 45.5px,#0000a9 48.5px,#0000a3 52.5px,#0000b8 56.5px,#0000a7 59.5px,#000098 62.5px,#0000a3 65.5px,#0000a0 67.5px,#0000b7 70.5px,#0000ad 76.5px,#00009b 78.5px,#0000a4 83.5px,#0000a4 87.5px,#0000c1 92.5px,#0000af 96.5px,#000095 99.5px,#00009f 103.5px,#000098 107.5px,#0000ab 114.5px)"></i><i style="background:linear-gradient(90deg,#0000b2 0.5px,#0000a0 21.5px,#000098 25.5px,#0000c6 30.5px,#0000bc 36.5px,#009 41.5px,#00009c 45.5px,#0000a9 48.5px,#0000a4 52.5px,#0000b7 56.5px,#0000a2 59.5px,#000097 60.5px,#0000a5 65.5px,#00009c 67.5px,#0000af 70.5px,#0000a6 76.5px,#000098 78.5px,#00009f 83.5px,#00009c 86.5px,#0000c1 91.5px,#0000bc 94.5px,#000098 98.5px,#0000a1 102.5px,#000098 106.5px,#0000ae 114.5px)"></i><i style="background:linear-gradient(90deg,#0000b5 0.5px,#0000a3 15.5px,#000098 26.5px,#0000c8 32.5px,#0000b8 38.5px,#000097 42.5px,#0000a2 46.5px,#0000a9 49.5px,#0000a3 52.5px,#0000b4 56.5px,#00009c 60.5px,#00009e 62.5px,#00009a 63.5px,#0000a8 65.5px,#000098 67.5px,#0000a6 69.5px,#0000a5 75.5px,#000097 80.5px,#00009a 86.5px,#0000c0 90.5px,#0000bf 93.5px,#00009a 97.5px,#0000a3 101.5px,#000097 105.5px,#0000b1 114.5px)"></i><i style="background:linear-gradient(90deg,#0000b7 0.5px,#0000a7 13.5px,#000098 18.5px,#009 28.5px,#0000c0 32.5px,#0000c3 36.5px,#000097 43.5px,#0000a7 49.5px,#0000a1 52.5px,#0000ae 56.5px,#000098 59.5px,#0000a7 61.5px,#00009a 63.5px,#0000a8 64.5px,#0000ab 65.5px,#000098 67.5px,#0000a1 69.5px,#00009a 86.5px,#0000c2 90.5px,#0000bc 93.5px,#00009c 96.5px,#0000a8 100.5px,#000096 104.5px,#0000ae 112.5px,#0000b1 114.5px)"></i><i style="background:linear-gradient(90deg,#0000bc 0.5px,#0000ac 11.5px,#000097 16.5px,#00009d 19.5px,#00009c 26.5px,#009 29.5px,#0000bc 33.5px,#0000c0 36.5px,#00009e 43.5px,#0000a6 49.5px,#0000a1 53.5px,#0000a5 57.5px,#00009c 59.5px,#0000ab 61.5px,#009 63.5px,#00a 64.5px,#0000ad 65.5px,#009 67.5px,#0000a2 76.5px,#0000ab 80.5px,#0000a5 84.5px,#00009c 86.5px,#0000be 89.5px,#00b 92.5px,#00009a 95.5px,#0000ad 98.5px,#00009f 102.5px,#00009a 104.5px,#0000b1 110.5px,#0000b1 114.5px)"></i><i style="background:linear-gradient(90deg,#0000c1 0.5px,#0000ab 10.5px,#0000a4 14.5px,#000096 16.5px,#0000a7 19.5px,#009 25.5px,#0000a7 28.5px,#009 31.5px,#0000ba 35.5px,#0000a4 44.5px,#00009d 57.5px,#000097 58.5px,#0000ad 60.5px,#0000af 61.5px,#00009a 63.5px,#0000a9 64.5px,#0000ae 65.5px,#000098 67.5px,#0000a2 75.5px,#0000ba 79.5px,#00009b 85.5px,#0000bc 89.5px,#0000ae 92.5px,#000096 94.5px,#0000b2 97.5px,#00a 100.5px,#000097 103.5px,#0000b6 108.5px,#0000af 114.5px)"></i><i style="background:linear-gradient(90deg,#0000c5 0.5px,#0000a9 10.5px,#0000a1 15.5px,#009 16.5px,#0000ad 20.5px,#00009d 25.5px,#0000ae 29.5px,#00009b 33.5px,#0000b2 36.5px,#0000a7 41.5px,#0000a3 51.5px,#00009a 56.5px,#0000a5 59.5px,#0000af 61.5px,#00009b 63.5px,#0000a7 64.5px,#0000a8 65.5px,#00009d 66.5px,#000097 71.5px,#0000b2 76.5px,#0000c5 78.5px,#009 85.5px,#0000b1 87.5px,#0000b1 90.5px,#00009b 93.5px,#0000b7 96.5px,#0000b0 99.5px,#000096 102.5px,#0000ba 106.5px,#0000bc 110.5px,#0000ad 114.5px)"></i><i style="background:linear-gradient(90deg,#0000c7 0.5px,#0000a7 11.5px,#00009e 16.5px,#009 17.5px,#0000b2 20.5px,#0000a5 24.5px,#0000a4 27.5px,#0000b6 30.5px,#0000a6 33.5px,#00009a 34.5px,#0000a9 37.5px,#0000a0 40.5px,#0000ae 44.5px,#00009d 48.5px,#0000a5 51.5px,#009 54.5px,#0000ad 61.5px,#00009d 63.5px,#0000a5 64.5px,#009 66.5px,#0000a4 68.5px,#00009d 71.5px,#0000b4 75.5px,#0000cb 77.5px,#0000c8 79.5px,#009 84.5px,#0000ad 87.5px,#0000a1 90.5px,#000098 91.5px,#0000bc 95.5px,#0000ad 99.5px,#000098 101.5px,#0000c7 106.5px,#0000c0 110.5px,#0000a8 114.5px)"></i><i style="background:linear-gradient(90deg,#0000c7 0.5px,#0000ba 5.5px,#0000a4 12.5px,#0000a0 16.5px,#00009d 18.5px,#0000b5 21.5px,#0000a5 27.5px,#0000bc 31.5px,#0000ad 34.5px,#00009a 36.5px,#00009a 40.5px,#0000b0 44.5px,#00009a 48.5px,#0000a8 51.5px,#00009c 54.5px,#0000a9 57.5px,#0000a9 61.5px,#00009d 62.5px,#0000a1 64.5px,#000098 65.5px,#00a 67.5px,#0000a2 71.5px,#0000b3 74.5px,#0000d7 77.5px,#0000b0 81.5px,#00009c 83.5px,#0000a9 87.5px,#00009b 89.5px,#0000a6 91.5px,#0000bf 94.5px,#0000b9 97.5px,#00009b 100.5px,#0000af 102.5px,#0000d0 105.5px,#0000c5 109.5px,#0000a4 114.5px)"></i><i style="background:linear-gradient(90deg,#0000c4 0.5px,#0000c2 4.5px,#0000a3 11.5px,#00009c 17.5px,#000097 18.5px,#0000b8 22.5px,#0000a5 27.5px,#0000c1 32.5px,#00b 34.5px,#009 37.5px,#00009c 41.5px,#0000af 43.5px,#0000a2 46.5px,#009 48.5px,#0000ac 51.5px,#00009a 54.5px,#0000ad 57.5px,#0000a3 61.5px,#000098 62.5px,#0000a5 65.5px,#0000b6 67.5px,#0000a9 71.5px,#0000bd 74.5px,#0000d4 76.5px,#0000cf 78.5px,#00009a 82.5px,#0000a6 85.5px,#00009a 88.5px,#0000c3 94.5px,#0000b5 97.5px,#00009e 99.5px,#00009d 100.5px,#00c 103.5px,#0000d8 105.5px,#0000ca 108.5px,#0000a0 114.5px)"></i><i style="background:linear-gradient(90deg,#0000be 0.5px,#0000c3 4.5px,#00009e 12.5px,#000097 18.5px,#0000b7 23.5px,#0000a9 28.5px,#0000c4 33.5px,#0000b1 36.5px,#00009a 39.5px,#00009b 41.5px,#0000ae 43.5px,#0000a8 45.5px,#00009a 47.5px,#000098 49.5px,#0000ae 51.5px,#009 54.5px,#0000af 57.5px,#00009b 61.5px,#00009f 64.5px,#0000bc 66.5px,#0000be 67.5px,#0000ab 70.5px,#0000b8 73.5px,#0000d5 76.5px,#0000c7 78.5px,#00009a 81.5px,#0000a6 84.5px,#000097 86.5px,#0000c2 93.5px,#00b 96.5px,#00009a 99.5px,#0000da 103.5px,#0000d3 106.5px,#0000a2 113.5px,#00009e 114.5px)"></i><i style="background:linear-gradient(90deg,#0000b6 0.5px,#0000c2 5.5px,#00009b 12.5px,#00009c 19.5px,#0000b6 23.5px,#0000ad 30.5px,#0000c1 34.5px,#00b 36.5px,#00009c 39.5px,#00009a 41.5px,#0000ac 44.5px,#009 46.5px,#00009f 48.5px,#000098 49.5px,#0000ae 51.5px,#00009b 55.5px,#0000ad 57.5px,#00009d 61.5px,#0000a1 62.5px,#009 63.5px,#0000ba 65.5px,#0000be 67.5px,#0000a8 71.5px,#0000b8 73.5px,#0000cd 75.5px,#0000c7 77.5px,#00009a 80.5px,#0000a6 83.5px,#00009a 85.5px,#0000c3 93.5px,#0000b8 96.5px,#00009a 98.5px,#0000cd 101.5px,#0000db 103.5px,#0000a1 113.5px,#00009e 114.5px)"></i><i style="background:linear-gradient(90deg,#0000b1 0.5px,#0000bf 6.5px,#000097 13.5px,#0000a2 20.5px,#0000b5 24.5px,#0000ac 31.5px,#0000bd 35.5px,#00009b 40.5px,#0000a2 42.5px,#0000a7 44.5px,#00009c 46.5px,#00009f 48.5px,#009 49.5px,#0000af 51.5px,#00009b 55.5px,#0000a2 58.5px,#000098 60.5px,#0000a2 62.5px,#00009c 63.5px,#0000b5 64.5px,#0000c1 65.5px,#0000b8 68.5px,#0000a2 71.5px,#0000c1 75.5px,#00b 77.5px,#00009c 79.5px,#0000a8 82.5px,#00009c 84.5px,#0000a8 87.5px,#0000b5 90.5px,#0000c6 93.5px,#0000bd 95.5px,#0000a4 97.5px,#0000a0 98.5px,#0000cf 101.5px,#0000d2 103.5px,#0000a8 110.5px,#0000a0 114.5px)"></i><i style="background:linear-gradient(90deg,#0000ac 0.5px,#0000bc 7.5px,#0000ae 10.5px,#000098 13.5px,#0000ad 22.5px,#0000b0 26.5px,#0000ae 33.5px,#0000b6 36.5px,#00009b 41.5px,#0000a4 44.5px,#00009a 45.5px,#0000a2 47.5px,#00009d 49.5px,#0000b0 51.5px,#00009e 56.5px,#00009a 60.5px,#0000a6 63.5px,#0000bd 64.5px,#0000c5 65.5px,#0000b2 68.5px,#009 70.5px,#00009d 72.5px,#0000b6 75.5px,#0000ae 77.5px,#00009c 79.5px,#0000a8 80.5px,#0000a7 81.5px,#00009d 82.5px,#0000ac 85.5px,#0000a9 88.5px,#0000c7 92.5px,#0000c3 94.5px,#00009a 97.5px,#0000c5 100.5px,#0000c6 103.5px,#0000a3 111.5px,#0000a1 114.5px)"></i><i style="background:linear-gradient(90deg,#0000a9 0.5px,#0000ba 9.5px,#000097 14.5px,#0000b3 25.5px,#0000af 29.5px,#0000ab 34.5px,#0000af 38.5px,#009 41.5px,#00009b 45.5px,#0000a7 47.5px,#00009c 48.5px,#0000b5 51.5px,#009 59.5px,#0000a6 61.5px,#0000a1 62.5px,#0000bf 64.5px,#0000bd 66.5px,#000098 69.5px,#0000a5 70.5px,#0000a0 73.5px,#0000b1 75.5px,#0000a6 77.5px,#00009a 78.5px,#0000a4 80.5px,#0000a1 82.5px,#0000af 84.5px,#0000a8 87.5px,#0000c8 92.5px,#0000c0 94.5px,#0000a3 96.5px,#0000a0 97.5px,#00b 99.5px,#0000c0 102.5px,#0000a2 112.5px,#0000a2 114.5px)"></i><i style="background:linear-gradient(90deg,#0000a2 0.5px,#0000b9 10.5px,#009 15.5px,#0000a7 19.5px,#0000b6 25.5px,#00a 29.5px,#0000ae 32.5px,#0000ab 35.5px,#0000ac 39.5px,#009 42.5px,#0000ad 47.5px,#00009f 48.5px,#0000b5 51.5px,#0000af 53.5px,#00009c 55.5px,#0000a6 61.5px,#00009f 62.5px,#0000be 64.5px,#00a 67.5px,#00009c 68.5px,#0000b0 70.5px,#0000a6 72.5px,#00009d 73.5px,#0000af 75.5px,#000098 78.5px,#0000a3 81.5px,#0000b6 83.5px,#0000ae 87.5px,#0000c8 91.5px,#0000b9 94.5px,#009 96.5px,#0000ba 99.5px,#0000b4 104.5px,#0000a1 112.5px,#0000a0 114.5px)"></i><i style="background:linear-gradient(90deg,#009 0.5px,#0000b1 6.5px,#0000b6 12.5px,#00009a 16.5px,#0000ab 20.5px,#0000b6 25.5px,#0000a7 30.5px,#0000b0 32.5px,#0000ae 35.5px,#0000ab 39.5px,#00009b 42.5px,#0000b0 47.5px,#0000a0 48.5px,#0000b4 50.5px,#0000b0 53.5px,#00009b 55.5px,#0000a8 56.5px,#00009f 60.5px,#0000a3 61.5px,#00009c 62.5px,#0000b9 64.5px,#0000ad 66.5px,#0000a2 68.5px,#0000b6 70.5px,#00009b 73.5px,#0000a9 75.5px,#000098 79.5px,#0000c0 83.5px,#0000b0 86.5px,#0000c3 90.5px,#0000c2 92.5px,#00009c 95.5px,#0000b7 98.5px,#0000ba 102.5px,#0000a0 109.5px,#00009c 114.5px)"></i><i style="background:linear-gradient(90deg,#00009e 0.5px,#00009a 2.5px,#0000b5 8.5px,#0000b1 14.5px,#00009b 17.5px,#0000ad 20.5px,#0000b6 26.5px,#0000a6 30.5px,#0000b3 38.5px,#00009f 41.5px,#0000a2 44.5px,#0000af 47.5px,#0000a2 48.5px,#0000a5 49.5px,#0000b5 50.5px,#0000b0 53.5px,#0000a4 54.5px,#0000a3 55.5px,#0000b0 56.5px,#00009f 59.5px,#0000a2 61.5px,#00009a 62.5px,#00b 64.5px,#0000a1 67.5px,#0000b6 69.5px,#0000b8 70.5px,#00009e 73.5px,#0000a0 75.5px,#00009a 78.5px,#00009c 79.5px,#0000cb 82.5px,#0000b9 87.5px,#0000b9 92.5px,#00009d 94.5px,#0000bd 98.5px,#0000b6 102.5px,#00009a 107.5px,#009 114.5px)"></i><i style="background:linear-gradient(90deg,#0000a4 0.5px,#00009b 4.5px,#0000b6 10.5px,#0000b0 15.5px,#00009d 18.5px,#0000bc 25.5px,#0000b6 28.5px,#00a 30.5px,#0000b8 36.5px,#00b 38.5px,#00009e 41.5px,#0000a0 44.5px,#0000ae 47.5px,#0000a1 49.5px,#0000b5 50.5px,#0000ab 52.5px,#0000ae 53.5px,#0000a7 55.5px,#0000b4 56.5px,#0000a4 57.5px,#00009d 62.5px,#0000b7 64.5px,#0000ae 66.5px,#00009e 67.5px,#0000b4 69.5px,#009 74.5px,#0000a4 79.5px,#0000d7 81.5px,#0000ce 83.5px,#0000b6 87.5px,#0000b4 91.5px,#00009a 93.5px,#0000bf 96.5px,#0000bd 99.5px,#009 104.5px,#000097 114.5px)"></i><i style="background:linear-gradient(90deg,#0000a7 0.5px,#00009f 4.5px,#00009d 6.5px,#0000b4 11.5px,#0000ae 16.5px,#00009a 19.5px,#00b 26.5px,#0000b0 32.5px,#0000b4 36.5px,#0000c0 38.5px,#0000bd 39.5px,#00009a 41.5px,#0000a3 46.5px,#0000ac 47.5px,#0000a9 48.5px,#00009b 49.5px,#0000af 50.5px,#0000a5 52.5px,#0000af 53.5px,#0000a7 55.5px,#0000b7 56.5px,#0000a1 57.5px,#0000a7 58.5px,#00009a 60.5px,#0000b0 63.5px,#0000bc 64.5px,#0000ab 66.5px,#00009c 67.5px,#0000ab 68.5px,#0000a9 76.5px,#00009f 78.5px,#0000db 80.5px,#0000e3 81.5px,#0000b5 85.5px,#0000ac 88.5px,#0000ac 90.5px,#00009b 92.5px,#0000ba 94.5px,#0000c6 96.5px,#0000b0 99.5px,#000098 101.5px,#0000ab 104.5px,#000096 112.5px,#00009d 114.5px)"></i><i style="background:linear-gradient(90deg,#00a 0.5px,#0000a4 5.5px,#000098 7.5px,#0000ad 11.5px,#0000a1 19.5px,#00009d 21.5px,#00b 27.5px,#0000ae 31.5px,#0000ba 34.5px,#0000ae 37.5px,#0000c5 39.5px,#0000ba 40.5px,#0000a2 41.5px,#0000a0 44.5px,#00009a 46.5px,#00a 48.5px,#00009e 49.5px,#0000a7 51.5px,#0000a1 52.5px,#0000ae 53.5px,#0000ae 54.5px,#0000a1 55.5px,#0000b2 56.5px,#00009f 57.5px,#0000a9 58.5px,#00009c 59.5px,#0000a8 62.5px,#0000c2 64.5px,#0000a3 67.5px,#0000af 68.5px,#0000ad 70.5px,#0000b6 73.5px,#0000ae 74.5px,#0000af 76.5px,#00009f 77.5px,#0000e0 79.5px,#0000ea 80.5px,#0000c2 83.5px,#0000ab 86.5px,#0000a7 89.5px,#00009e 90.5px,#0000c5 94.5px,#0000be 96.5px,#009 99.5px,#0000b9 102.5px,#0000b9 104.5px,#000097 111.5px,#0000a5 114.5px)"></i><i style="background:linear-gradient(90deg,#0000ab 0.5px,#00a 5.5px,#00009a 9.5px,#0000a9 13.5px,#009 24.5px,#0000b7 28.5px,#0000a6 32.5px,#0000b2 35.5px,#0000a6 38.5px,#0000b1 40.5px,#0000a0 42.5px,#0000a1 45.5px,#00009a 46.5px,#0000ad 48.5px,#0000a3 52.5px,#0000ac 54.5px,#00009e 55.5px,#0000af 56.5px,#00009f 57.5px,#0000b0 58.5px,#0000a4 59.5px,#0000b7 62.5px,#0000bc 64.5px,#0000a5 66.5px,#0000ad 69.5px,#0000bd 71.5px,#00009e 76.5px,#0000da 78.5px,#0000e1 79.5px,#0000c5 82.5px,#0000a8 88.5px,#00009a 89.5px,#0000c1 92.5px,#0000b7 95.5px,#009 97.5px,#00b 99.5px,#0000cb 101.5px,#000098 111.5px,#0000a5 114.5px)"></i><i style="background:linear-gradient(90deg,#0000a7 0.5px,#0000a9 7.5px,#00009b 11.5px,#0000a1 15.5px,#00009a 19.5px,#00a 24.5px,#00009e 26.5px,#0000b5 29.5px,#0000a7 31.5px,#00009c 34.5px,#0000a5 36.5px,#00009b 38.5px,#0000a0 39.5px,#00009a 40.5px,#0000a0 42.5px,#000098 44.5px,#00009d 46.5px,#0000b4 48.5px,#0000b4 49.5px,#0000a2 50.5px,#00009f 51.5px,#0000b0 54.5px,#00009f 55.5px,#0000b2 56.5px,#0000a5 57.5px,#0000b1 58.5px,#0000a5 59.5px,#0000b9 61.5px,#0000c3 63.5px,#0000a1 66.5px,#00a 68.5px,#0000c2 70.5px,#00009d 73.5px,#00009e 75.5px,#0000c1 77.5px,#0000ca 78.5px,#0000b7 80.5px,#0000c4 82.5px,#0000ae 86.5px,#0000a1 88.5px,#0000c0 91.5px,#0000b8 93.5px,#0000a1 95.5px,#0000a3 96.5px,#0000cd 99.5px,#0000c9 102.5px,#0000ab 107.5px,#009 113.5px,#00009d 114.5px)"></i><i style="background:linear-gradient(90deg,#00009f 0.5px,#0000a9 7.5px,#00009c 14.5px,#00009b 18.5px,#00009e 22.5px,#0000b6 26.5px,#0000a2 28.5px,#0000ba 30.5px,#0000a2 32.5px,#0000b5 35.5px,#0000a4 37.5px,#0000af 41.5px,#00009e 42.5px,#0000a7 46.5px,#0000a7 47.5px,#0000bf 48.5px,#0000c8 49.5px,#0000a7 51.5px,#0000a8 52.5px,#0000b7 54.5px,#00009f 55.5px,#0000bd 56.5px,#0000a2 58.5px,#0000c1 61.5px,#0000b4 64.5px,#0000a0 66.5px,#0000a3 67.5px,#0000c6 69.5px,#0000bc 70.5px,#0000a1 71.5px,#0000a7 73.5px,#0000a2 75.5px,#0000b0 76.5px,#00009e 79.5px,#0000bf 82.5px,#00009d 86.5px,#0000ad 88.5px,#0000bd 90.5px,#0000b5 92.5px,#00009c 94.5px,#0000b1 96.5px,#0000c9 99.5px,#0000c3 102.5px,#0000b2 107.5px,#00009d 114.5px)"></i><i style="background:linear-gradient(90deg,#00009c 0.5px,#00009c 4.5px,#0000a6 11.5px,#00009a 18.5px,#00009e 22.5px,#009 23.5px,#0000bc 26.5px,#0000b9 28.5px,#0000ad 29.5px,#0000b4 32.5px,#0000ad 34.5px,#0000d1 36.5px,#0000c7 38.5px,#0000b9 39.5px,#0000b6 40.5px,#0000c0 41.5px,#0000a0 43.5px,#00a 44.5px,#0000ac 47.5px,#0000d7 49.5px,#0000d5 50.5px,#0000c5 51.5px,#0000a2 52.5px,#0000b8 53.5px,#0000b7 54.5px,#0000a7 55.5px,#0000b5 56.5px,#0000b9 57.5px,#00a 58.5px,#0000c1 61.5px,#0000b2 63.5px,#0000b8 65.5px,#0000a2 67.5px,#0000bd 69.5px,#0000a2 70.5px,#0000ae 71.5px,#0000af 72.5px,#00009a 75.5px,#0000b2 78.5px,#00009e 80.5px,#0000af 81.5px,#0000a5 84.5px,#00009e 85.5px,#0000b9 90.5px,#00009a 94.5px,#00b 98.5px,#0000bd 103.5px,#0000b5 111.5px,#00a 114.5px)"></i><i style="background:linear-gradient(90deg,#0000a9 0.5px,#000098 6.5px,#0000a7 11.5px,#0000a4 17.5px,#0000a1 21.5px,#00009d 24.5px,#00b 27.5px,#0000ba 29.5px,#0000a6 30.5px,#0000a3 31.5px,#0000bc 32.5px,#0000c4 33.5px,#0000a1 35.5px,#0000e6 37.5px,#0000ec 38.5px,#0000bc 40.5px,#0000c2 42.5px,#0000ab 43.5px,#0000a7 44.5px,#0000b8 46.5px,#0000a7 48.5px,#0000e0 50.5px,#0000e7 51.5px,#0000d5 52.5px,#0000ac 53.5px,#0000b5 55.5px,#0000ae 56.5px,#0000bd 57.5px,#0000af 60.5px,#0000ba 61.5px,#0000a9 62.5px,#0000ac 63.5px,#0000cb 64.5px,#00c 65.5px,#0000c1 66.5px,#0000a5 67.5px,#00b 68.5px,#0000a8 70.5px,#0000b2 71.5px,#0000ac 72.5px,#00009c 73.5px,#0000a4 74.5px,#0000a9 76.5px,#0000b4 78.5px,#000098 80.5px,#0000a7 81.5px,#0000a6 83.5px,#00009f 85.5px,#0000b4 90.5px,#00009d 95.5px,#0000b5 99.5px,#0000c1 109.5px,#0000b4 114.5px)"></i><i style="background:linear-gradient(90deg,#0000b5 0.5px,#0000a3 7.5px,#0000a3 10.5px,#0000ae 15.5px,#0000a4 21.5px,#00009b 25.5px,#0000b4 27.5px,#0000b8 29.5px,#0000a5 31.5px,#0000c7 34.5px,#0000c6 35.5px,#00a 36.5px,#0000b8 37.5px,#00d 38.5px,#0000ed 39.5px,#0000b4 41.5px,#0000af 43.5px,#0000a3 44.5px,#0000c1 45.5px,#0000cd 47.5px,#0000ad 48.5px,#00009e 49.5px,#0000fc 51.5px,#0000f1 52.5px,#0000c2 53.5px,#0000a2 54.5px,#0000ac 55.5px,#0000a5 56.5px,#0000af 58.5px,#00009c 59.5px,#0000ac 61.5px,#0000a5 62.5px,#0000c0 63.5px,#0000eb 64.5px,#0000b7 66.5px,#0000b4 68.5px,#0000a9 69.5px,#00a 72.5px,#0000a7 74.5px,#0000ac 75.5px,#00009b 76.5px,#0000ae 78.5px,#00009f 80.5px,#0000af 82.5px,#0000a9 86.5px,#0000ba 90.5px,#0000ad 93.5px,#00009d 95.5px,#0000ae 99.5px,#0000c4 110.5px,#0000b9 114.5px)"></i><i style="background:linear-gradient(90deg,#0000b9 0.5px,#0000b2 6.5px,#009 10.5px,#0000be 15.5px,#0000b8 18.5px,#0000a2 22.5px,#00009f 25.5px,#00009b 26.5px,#0000b4 29.5px,#0000a3 32.5px,#0000cd 35.5px,#0000ce 36.5px,#0000c1 37.5px,#0000a0 38.5px,#0000ca 39.5px,#0000de 40.5px,#0000ac 42.5px,#0000a2 44.5px,#0000bc 45.5px,#0000e5 46.5px,#0000f7 47.5px,#0000dc 48.5px,#0000a4 49.5px,#0000b4 50.5px,#0000f4 51.5px,#0000fa 52.5px,#0000b1 54.5px,#0000b9 56.5px,#0000ad 57.5px,#0000b2 58.5px,#0000c6 59.5px,#0000c0 60.5px,#0000ac 61.5px,#0000ae 62.5px,#0000d3 63.5px,#0000ea 64.5px,#0000a3 66.5px,#0000c1 67.5px,#0000a7 69.5px,#0000bf 72.5px,#0000d9 73.5px,#0000e7 74.5px,#00c 75.5px,#0000a6 76.5px,#0000a8 78.5px,#00009d 79.5px,#0000ba 82.5px,#00009b 85.5px,#0000b8 87.5px,#0000bf 90.5px,#009 94.5px,#0000a0 96.5px,#00009f 100.5px,#0000c8 108.5px,#0000c2 112.5px,#0000b7 114.5px)"></i><i style="background:linear-gradient(90deg,#0000b3 0.5px,#00b 6.5px,#00009f 11.5px,#00a 13.5px,#0000cd 16.5px,#0000cd 19.5px,#0000a6 24.5px,#00009d 27.5px,#0000b3 29.5px,#00009b 32.5px,#0000c9 35.5px,#0000e0 36.5px,#0000e2 37.5px,#0000d0 38.5px,#0000a4 39.5px,#0000c1 40.5px,#0000d3 41.5px,#0000b0 42.5px,#0000a0 43.5px,#00a 44.5px,#0000a8 45.5px,#00f 47.5px,#00f 48.5px,#0000cd 49.5px,#0000ad 50.5px,#0000c3 51.5px,#0000f1 52.5px,#0000dc 53.5px,#0000ae 54.5px,#0000db 55.5px,#00e 56.5px,#0000bc 57.5px,#00d 58.5px,#0000e4 59.5px,#0000b3 61.5px,#0000af 62.5px,#0000eb 63.5px,#0000ef 64.5px,#0000c1 65.5px,#0000bf 66.5px,#0000d6 67.5px,#0000cb 68.5px,#00009f 69.5px,#0000c4 70.5px,#00f 72.5px,#0006ff 73.5px,#0000f9 74.5px,#0000c2 75.5px,#0000a3 76.5px,#0000ab 77.5px,#0000a3 79.5px,#0000b3 80.5px,#0000b8 81.5px,#00009e 83.5px,#0000b3 85.5px,#0000b5 86.5px,#0000c8 88.5px,#00009f 93.5px,#0000a7 97.5px,#00009d 101.5px,#0000c8 106.5px,#0000c7 110.5px,#0000ad 114.5px)"></i><i style="background:linear-gradient(90deg,#00a 0.5px,#0000c0 6.5px,#0000b3 11.5px,#00009c 14.5px,#0000d6 18.5px,#0000df 20.5px,#0000c4 23.5px,#0000a0 27.5px,#0000b5 30.5px,#0000a3 32.5px,#0000b7 33.5px,#0000ec 38.5px,#0000e1 39.5px,#0000ac 40.5px,#0000cd 41.5px,#0000d4 42.5px,#0000a2 43.5px,#00b 44.5px,#0000a6 45.5px,#0000a7 46.5px,#0000e0 47.5px,#00f 48.5px,#0000e8 49.5px,#0000b0 50.5px,#0000b1 51.5px,#0000cf 52.5px,#0000c9 53.5px,#0000ae 54.5px,#0000b0 55.5px,#0000ed 56.5px,#0000c1 57.5px,#00f 58.5px,#0000f5 59.5px,#0000c0 60.5px,#0000af 62.5px,#0000df 63.5px,#0000ce 64.5px,#0000af 65.5px,#0000d8 66.5px,#0000cf 67.5px,#0000b4 68.5px,#0000c7 69.5px,#0007ff 71.5px,#0025ff 72.5px,#0006ff 73.5px,#00009d 75.5px,#00a 76.5px,#00009f 78.5px,#0000a8 81.5px,#00b 84.5px,#0000ca 85.5px,#0000c1 89.5px,#0000a9 92.5px,#0000b6 97.5px,#00009b 100.5px,#0000c7 104.5px,#0000cf 107.5px,#00009f 114.5px)"></i><i style="background:linear-gradient(90deg,#0000a1 0.5px,#0000c2 7.5px,#0000bf 13.5px,#00009e 16.5px,#0000a4 17.5px,#0000d7 20.5px,#0000df 22.5px,#0000bc 26.5px,#00009e 29.5px,#0000a6 31.5px,#0000a5 33.5px,#0000cd 36.5px,#0000da 39.5px,#0000d0 40.5px,#0000a1 41.5px,#0000d7 42.5px,#0000dc 43.5px,#0000ad 44.5px,#0000c9 45.5px,#0000b5 46.5px,#00b 47.5px,#0000eb 49.5px,#0000bd 51.5px,#0000c1 52.5px,#0000e5 53.5px,#0000b0 54.5px,#0000a5 55.5px,#0000d3 56.5px,#0000b6 57.5px,#0002ff 58.5px,#0000f7 59.5px,#0000ab 60.5px,#0000c6 61.5px,#00b 62.5px,#0000d7 63.5px,#0000b7 65.5px,#0000d5 66.5px,#0000b8 67.5px,#0000cb 68.5px,#0000f7 69.5px,#0015ff 70.5px,#0038ff 71.5px,#000fff 72.5px,#0000d6 73.5px,#0000a4 74.5px,#00009b 75.5px,#0000a0 77.5px,#0000bc 79.5px,#0000c8 86.5px,#0000ad 91.5px,#0000bc 95.5px,#0000a5 98.5px,#00009c 99.5px,#0000d1 103.5px,#0000d1 106.5px,#00009c 113.5px,#00009e 114.5px)"></i><i style="background:linear-gradient(90deg,#00009b 0.5px,#0000c7 8.5px,#0000ca 14.5px,#0000ac 18.5px,#00009c 19.5px,#0000c8 22.5px,#0000c7 25.5px,#0000b2 27.5px,#0000a4 31.5px,#0000a5 33.5px,#00009a 34.5px,#0000a2 35.5px,#0000c9 37.5px,#0000a8 39.5px,#0000b5 41.5px,#0000ab 42.5px,#00c 43.5px,#0000d6 44.5px,#0000ad 45.5px,#0000d6 46.5px,#00c 47.5px,#0000b4 48.5px,#0000c0 49.5px,#0000e4 50.5px,#0000cd 51.5px,#0000ce 52.5px,#0000fa 53.5px,#00f 54.5px,#0000c1 55.5px,#0000d0 56.5px,#0000d1 57.5px,#00f 58.5px,#0000e4 59.5px,#0000b6 60.5px,#0000d3 62.5px,#00f 63.5px,#0000ef 64.5px,#0000cb 65.5px,#0000ba 66.5px,#0000d2 67.5px,#00f 68.5px,#0021ff 69.5px,#002eff 70.5px,#0017ff 71.5px,#00c 72.5px,#0000a2 73.5px,#0000a4 74.5px,#0000b4 76.5px,#0000be 79.5px,#0000b3 81.5px,#0000bc 83.5px,#0000af 86.5px,#00009b 88.5px,#0000a6 90.5px,#00009d 92.5px,#0000a5 95.5px,#00009b 96.5px,#00009f 97.5px,#0000d1 101.5px,#0000db 103.5px,#0000b1 109.5px,#00009c 112.5px,#0000a6 114.5px)"></i><i style="background:linear-gradient(90deg,#000098 0.5px,#0000b3 5.5px,#0000d5 11.5px,#0000c6 18.5px,#0000a7 21.5px,#0000ba 25.5px,#0000a0 28.5px,#0000a1 35.5px,#0000a4 36.5px,#0000b5 37.5px,#0000a6 38.5px,#0000a2 39.5px,#0000b7 41.5px,#00a 42.5px,#0000c2 43.5px,#0000ef 44.5px,#00f 45.5px,#00c 46.5px,#0000dc 48.5px,#0000be 49.5px,#0000af 50.5px,#0000f2 53.5px,#001bff 54.5px,#00f 55.5px,#0000df 56.5px,#0000d7 57.5px,#0000f6 58.5px,#0000ae 60.5px,#0001ff 62.5px,#0034ff 63.5px,#0000d9 64.5px,#0000b5 65.5px,#0000e2 66.5px,#0000fc 67.5px,#00f 68.5px,#001eff 69.5px,#0000fb 70.5px,#0000c7 71.5px,#0000c4 72.5px,#0000a9 74.5px,#0000bc 75.5px,#0000c3 76.5px,#0000a1 78.5px,#00009f 83.5px,#0000c2 86.5px,#00c 90.5px,#0000bd 95.5px,#0000d4 102.5px,#0000b8 107.5px,#00009c 110.5px,#0000b2 113.5px,#0000c2 114.5px)"></i><i style="background:linear-gradient(90deg,#0000a6 0.5px,#0000ab 4.5px,#0000c8 7.5px,#0000da 13.5px,#0000d1 18.5px,#0000b8 22.5px,#0000a9 23.5px,#0000b2 27.5px,#00009f 30.5px,#0000a2 33.5px,#0000ab 35.5px,#0000a3 36.5px,#0000a6 38.5px,#0000b8 39.5px,#0000c3 41.5px,#0000f0 43.5px,#0000f9 44.5px,#0000ec 45.5px,#0000f5 46.5px,#0000e0 47.5px,#0000d8 48.5px,#0000eb 49.5px,#0000ec 50.5px,#0000cf 51.5px,#0000c4 52.5px,#0000fb 53.5px,#0014ff 54.5px,#0019ff 55.5px,#0000c3 56.5px,#0000e3 58.5px,#0000d0 59.5px,#0000cb 60.5px,#0000f6 61.5px,#0017ff 62.5px,#001aff 63.5px,#0000e8 64.5px,#000bff 65.5px,#00f 66.5px,#0000d2 67.5px,#00f 68.5px,#0000c5 70.5px,#0000f1 71.5px,#0000d8 73.5px,#0000cb 75.5px,#00a 76.5px,#0000c5 77.5px,#0000ca 78.5px,#0000ba 82.5px,#0000d0 86.5px,#0000f1 90.5px,#0000d3 94.5px,#0000c7 96.5px,#0000c4 103.5px,#00009d 108.5px,#0000b5 112.5px,#0000d6 113.5px,#001aff 114.5px)"></i><i style="background:linear-gradient(90deg,#0000ab 0.5px,#0000a9 1.5px,#0000d7 6.5px,#0000d6 14.5px,#0000a5 26.5px,#0000a8 28.5px,#00009d 29.5px,#0000a5 32.5px,#0000b1 34.5px,#0000a0 37.5px,#0000ad 38.5px,#0000a8 39.5px,#0000c3 40.5px,#0000eb 41.5px,#00f 43.5px,#0000fe 44.5px,#0000e0 45.5px,#0000ce 46.5px,#0000d2 47.5px,#0000eb 48.5px,#0000cf 49.5px,#01f 50.5px,#0046ff 51.5px,#0000d8 52.5px,#00f 53.5px,#00f 55.5px,#0000f0 56.5px,#00f 57.5px,#0000d8 59.5px,#0025ff 60.5px,#0000f2 61.5px,#0000f5 62.5px,#000fff 63.5px,#000bff 65.5px,#0000d7 66.5px,#00e 67.5px,#0000c8 68.5px,#00f 69.5px,#0000fc 73.5px,#00c 74.5px,#0000ce 75.5px,#0000df 77.5px,#0000c8 78.5px,#0000b2 81.5px,#0000d4 88.5px,#0000d9 90.5px,#0000b8 97.5px,#0000b8 100.5px,#0000ad 103.5px,#0000ae 106.5px,#0000c4 110.5px,#0000c0 112.5px,#0000e4 113.5px,#0030ff 114.5px)"></i><i style="background:linear-gradient(90deg,#0000b5 0.5px,#0000d8 7.5px,#0000df 11.5px,#0000ed 13.5px,#0000e0 18.5px,#0000a9 23.5px,#0000a6 25.5px,#0000d0 28.5px,#00c 33.5px,#0000bd 35.5px,#0000e8 38.5px,#0000e5 39.5px,#0000cd 40.5px,#0000f9 42.5px,#00f 44.5px,#00e 45.5px,#0000b9 46.5px,#0000c9 47.5px,#0000bf 48.5px,#0000c2 49.5px,#0000fa 50.5px,#00f 51.5px,#002fff 52.5px,#0000ec 53.5px,#0003ff 56.5px,#0019ff 57.5px,#001bff 58.5px,#0000ed 59.5px,#0000e7 60.5px,#0000ad 61.5px,#0000cd 62.5px,#0010ff 63.5px,#0000d7 64.5px,#0000bc 66.5px,#0000d9 67.5px,#0000ea 68.5px,#0000cb 69.5px,#0000e0 71.5px,#0000c2 72.5px,#0000cd 75.5px,#0000bd 76.5px,#00c 77.5px,#0000bd 78.5px,#0000c5 79.5px,#0000b6 81.5px,#0000bd 82.5px,#0000ae 87.5px,#00009e 89.5px,#0000a0 90.5px,#0000b7 92.5px,#0000bc 95.5px,#0000a8 100.5px,#0000a0 101.5px,#0000a5 102.5px,#0000d0 105.5px,#0000ca 112.5px,#0000ce 113.5px,#0000e2 114.5px)"></i><i style="background:linear-gradient(90deg,#0000ab 0.5px,#0000ab 4.5px,#0000ce 11.5px,#0000f0 14.5px,#0000f3 18.5px,#0000ea 19.5px,#0000d5 20.5px,#0000b0 23.5px,#0000b0 25.5px,#0000cd 28.5px,#0000d3 30.5px,#0000cd 32.5px,#0000e6 33.5px,#0000e8 34.5px,#00f 36.5px,#0015ff 38.5px,#0013ff 39.5px,#0002ff 40.5px,#0000f4 41.5px,#0000c5 42.5px,#0000e3 43.5px,#0000d5 44.5px,#0000e5 46.5px,#0000dc 48.5px,#0000c3 49.5px,#00f 50.5px,#0026ff 51.5px,#0025ff 52.5px,#006bff 53.5px,#0014ff 54.5px,#006aff 55.5px,#0047ff 56.5px,#0000e6 57.5px,#0000eb 58.5px,#00f 59.5px,#0067ff 60.5px,#0000ca 61.5px,#0019ff 62.5px,#00f 63.5px,#0005ff 64.5px,#0000c2 65.5px,#0024ff 66.5px,#0000b8 67.5px,#0000f8 68.5px,#0000ae 69.5px,#0000e0 70.5px,#0000be 71.5px,#0000ce 72.5px,#0000ba 74.5px,#00a 75.5px,#0000c6 76.5px,#0000ce 79.5px,#0000c5 80.5px,#0000cb 81.5px,#0000a3 84.5px,#0000bd 86.5px,#0000bf 88.5px,#0000ac 90.5px,#0000c7 93.5px,#0000c1 95.5px,#0000b6 97.5px,#0000be 100.5px,#0000b8 102.5px,#0000cb 104.5px,#0000c3 109.5px,#0000b9 111.5px,#0000b0 114.5px)"></i><i style="background:linear-gradient(90deg,#0000a9 0.5px,#0000a2 3.5px,#0000a7 5.5px,#0000b9 7.5px,#0000b5 10.5px,#0000e5 17.5px,#0000e4 19.5px,#0000d1 21.5px,#0000c8 24.5px,#0000b7 25.5px,#0000b3 26.5px,#0000bf 28.5px,#00b 30.5px,#0000e5 33.5px,#0000e9 35.5px,#00f 37.5px,#0004ff 40.5px,#0000d7 44.5px,#001aff 45.5px,#002cff 46.5px,#0000f8 47.5px,#000fff 48.5px,#0000ec 49.5px,#00f 50.5px,#0000e8 51.5px,#001aff 52.5px,#04f 53.5px,#0040ff 54.5px,#007dff 55.5px,#0035ff 56.5px,#0034ff 57.5px,#0003ff 58.5px,#05f 59.5px,#008aff 60.5px,#0000e0 61.5px,#0038ff 62.5px,#004cff 63.5px,#0034ff 64.5px,#0031ff 65.5px,#0000d7 66.5px,#00f 67.5px,#002aff 68.5px,#0038ff 69.5px,#0000f8 70.5px,#0000da 71.5px,#00c 73.5px,#0000d3 77.5px,#0000e3 78.5px,#0000dc 79.5px,#0000a0 81.5px,#0000a4 82.5px,#0000b8 83.5px,#0000b9 86.5px,#00a 91.5px,#0000b1 95.5px,#0000a3 96.5px,#0000b2 99.5px,#0000c9 102.5px,#0000c5 104.5px,#0000b3 108.5px,#0000a0 110.5px,#0000b3 112.5px,#0000ac 114.5px)"></i><i style="background:linear-gradient(90deg,#0000cd 0.5px,#0000a2 3.5px,#00009c 4.5px,#0000ba 7.5px,#0000b6 13.5px,#0000d9 15.5px,#0000db 16.5px,#00c 18.5px,#0000dc 19.5px,#0000d6 21.5px,#0000b5 24.5px,#0000b8 27.5px,#0000c3 28.5px,#0000c2 30.5px,#0000cd 31.5px,#0000c4 35.5px,#0000db 36.5px,#0000e6 37.5px,#0000fc 38.5px,#0000f9 40.5px,#0000d4 41.5px,#0000f5 42.5px,#0000e1 43.5px,#0000fa 44.5px,#0000f1 45.5px,#002dff 46.5px,#0001ff 47.5px,#0000d6 48.5px,#00f 49.5px,#00f 51.5px,#0024ff 52.5px,#007cff 53.5px,#0041ff 54.5px,#0084ff 55.5px,#00a1ff 56.5px,#0079ff 57.5px,#0000c7 58.5px,#001fff 59.5px,#0009ff 60.5px,#0000bd 61.5px,#0000ea 62.5px,#0000d3 63.5px,#007bff 64.5px,#000eff 65.5px,#00f 66.5px,#006dff 67.5px,#0005ff 68.5px,#000cff 69.5px,#0000ef 70.5px,#0000bf 71.5px,#0000d1 72.5px,#0000d5 73.5px,#0000b7 74.5px,#00c 75.5px,#0000cf 76.5px,#0000be 77.5px,#0000c3 78.5px,#00b 79.5px,#0000ba 81.5px,#0000a3 83.5px,#0000a5 89.5px,#0000be 91.5px,#0000bf 95.5px,#0000a7 98.5px,#0000b9 100.5px,#0000d1 102.5px,#0000d5 103.5px,#0000bd 105.5px,#0000a3 106.5px,#0000a0 107.5px,#0000ad 108.5px,#0000af 110.5px,#0000bc 112.5px,#0000ba 114.5px)"></i><i style="background:linear-gradient(90deg,#0000b5 0.5px,#0000a5 2.5px,#0000ad 5.5px,#0000a1 7.5px,#0000b3 10.5px,#00b 12.5px,#0000a9 15.5px,#0000c6 20.5px,#0000d1 23.5px,#0000c7 26.5px,#0000f1 33.5px,#0000ea 34.5px,#00f 36.5px,#00f 39.5px,#001dff 40.5px,#001eff 42.5px,#0074ff 43.5px,#001eff 45.5px,#0023ff 46.5px,#00f 47.5px,#0000ed 48.5px,#00f 49.5px,#00f 50.5px,#0000e9 51.5px,#0065ff 52.5px,#0076ff 53.5px,#0000fc 54.5px,#00e 55.5px,#0050ff 56.5px,#0080ff 57.5px,#10fa91 58.5px,#14fa8c 59.5px,#007cff 60.5px,#003cff 61.5px,#00d3ff 62.5px,#0023ff 63.5px,#0050ff 64.5px,#00a8ff 65.5px,#00f 66.5px,#007cff 67.5px,#001bff 68.5px,#001bff 69.5px,#03f 70.5px,#003cff 71.5px,#0000eb 72.5px,#0000d4 73.5px,#0000d5 74.5px,#0000c1 75.5px,#0000c1 76.5px,#00c 77.5px,#0000bf 79.5px,#0000ae 80.5px,#0000b4 82.5px,#0000ae 83.5px,#0000d1 86.5px,#0000a2 88.5px,#0000c8 91.5px,#0000c2 92.5px,#0000c6 95.5px,#0000a3 99.5px,#0000cb 102.5px,#0000d0 104.5px,#0000ad 107.5px,#0000af 108.5px,#00c 110.5px,#0000d2 114.5px)"></i><i style="background:linear-gradient(90deg,#0000d7 0.5px,#0000c9 3.5px,#00c 5.5px,#0000a5 8.5px,#0000a4 10.5px,#0000c8 15.5px,#0000c4 18.5px,#0000b5 21.5px,#0000b6 24.5px,#0000d1 25.5px,#0000f4 27.5px,#00f 30.5px,#00f 34.5px,#0000f3 35.5px,#0002ff 36.5px,#001cff 37.5px,#0002ff 38.5px,#00f 40.5px,#01f 41.5px,#00f 42.5px,#02f 43.5px,#0000f9 44.5px,#0035ff 45.5px,#02f 46.5px,#0023ff 47.5px,#0008ff 48.5px,#0068ff 49.5px,#0030ff 50.5px,#0090ff 51.5px,#008eff 52.5px,#0035ff 53.5px,#0009ff 54.5px,#00f9be 55.5px,#00f5f9 56.5px,#0000eb 57.5px,#0069ff 58.5px,#004dff 59.5px,#00f 60.5px,#00b6ff 61.5px,#0049ff 62.5px,#00bcff 63.5px,#0029ff 64.5px,#00afff 65.5px,#0092ff 66.5px,#0000c1 67.5px,#0009ff 68.5px,#000fff 69.5px,#0064ff 70.5px,#01f 71.5px,#0000e2 72.5px,#0000e9 73.5px,#0000b7 75.5px,#0000a4 76.5px,#0000c2 77.5px,#0000bd 78.5px,#0000a9 79.5px,#0000ab 80.5px,#00b 81.5px,#0000ae 83.5px,#0000d0 85.5px,#0000d9 86.5px,#0000c8 87.5px,#0000ab 88.5px,#00a 89.5px,#0000ba 90.5px,#0000d5 91.5px,#0000dc 93.5px,#0000ce 94.5px,#0000ca 96.5px,#0000b8 98.5px,#0000bd 99.5px,#0000e4 102.5px,#0000e7 104.5px,#0000b6 108.5px,#0000b6 111.5px,#0000ab 112.5px,#0000d6 113.5px,#0028ff 114.5px)"></i><i style="background:linear-gradient(90deg,#0000c2 0.5px,#0000be 4.5px,#0000c3 6.5px,#0000b7 8.5px,#0000d6 12.5px,#0000ec 14.5px,#0000d9 18.5px,#0000b5 21.5px,#0000a0 22.5px,#0000ca 24.5px,#0000e6 25.5px,#0000fe 27.5px,#0007ff 30.5px,#001dff 32.5px,#0018ff 33.5px,#00f 34.5px,#0000f0 35.5px,#0000fc 37.5px,#0000e1 38.5px,#0000ba 40.5px,#0000c8 41.5px,#0000c4 42.5px,#00d 43.5px,#0000e3 44.5px,#0000f6 45.5px,#0000ed 46.5px,#0000f8 47.5px,#001bff 48.5px,#0018ff 49.5px,#0060ff 50.5px,#0017ff 51.5px,#001eff 52.5px,#004eff 53.5px,#001cff 54.5px,#00d6ff 55.5px,#001cff 56.5px,#00f5f8 57.5px,#0063ff 58.5px,#0000de 59.5px,#00f8cf 60.5px,#00f9be 61.5px,#009aff 62.5px,#0075ff 63.5px,#0014ff 64.5px,#0062ff 65.5px,#00f 66.5px,#004bff 67.5px,#0053ff 68.5px,#003bff 69.5px,#0057ff 70.5px,#0005ff 71.5px,#0000f7 73.5px,#0000c7 74.5px,#0000d0 75.5px,#0000cf 76.5px,#00e 77.5px,#00d 78.5px,#0000fc 81.5px,#00d 88.5px,#00e 91.5px,#0000ec 93.5px,#0000b5 98.5px,#0000bf 100.5px,#0000c0 102.5px,#0000cd 105.5px,#0000be 109.5px,#0000be 111.5px,#0000b2 112.5px,#0000cd 113.5px,#002cff 114.5px)"></i><i style="background:linear-gradient(90deg,#0000ce 0.5px,#0000cd 5.5px,#0000be 8.5px,#0000bc 9.5px,#0000f8 13.5px,#0000f6 15.5px,#00d 18.5px,#00009f 22.5px,#0000ab 23.5px,#0000de 25.5px,#0000f6 27.5px,#00f 33.5px,#0000de 36.5px,#0000c3 37.5px,#0000ba 38.5px,#0000c7 39.5px,#0000bf 41.5px,#0000e7 42.5px,#0000c8 43.5px,#0000c0 44.5px,#00f 45.5px,#0000b9 46.5px,#0000d5 47.5px,#0020ff 48.5px,#0000f9 49.5px,#0004ff 50.5px,#0042ff 51.5px,#003eff 53.5px,#0016ff 54.5px,#005fff 55.5px,#0023ff 56.5px,#0012ff 57.5px,#0020ff 58.5px,#0021ff 59.5px,#00a3ff 60.5px,#0067ff 62.5px,#006cff 63.5px,#000bff 64.5px,#0000c0 65.5px,#007bff 66.5px,#006bff 67.5px,#006cff 68.5px,#002cff 69.5px,#0056ff 70.5px,#0050ff 71.5px,#0000fe 72.5px,#0000e5 74.5px,#0000f9 75.5px,#0000c0 78.5px,#0000d9 80.5px,#0000ea 83.5px,#0000e7 85.5px,#0000d4 88.5px,#0000e2 93.5px,#0000d3 96.5px,#0000b1 98.5px,#0000ac 100.5px,#0000a0 101.5px,#0000b4 103.5px,#0000ad 106.5px,#0000c6 108.5px,#0000c4 111.5px,#0000b8 113.5px,#0000c6 114.5px)"></i><i style="background:linear-gradient(90deg,#0000c5 0.5px,#0000bf 9.5px,#0000d5 13.5px,#0000bf 18.5px,#0000b6 21.5px,#0000f0 25.5px,#0000f9 27.5px,#0000f5 28.5px,#00f 29.5px,#0005ff 30.5px,#00f 32.5px,#0000b9 35.5px,#0000d6 38.5px,#0000d7 39.5px,#0000ea 40.5px,#0000d2 41.5px,#0000e7 42.5px,#0000d0 43.5px,#00e 44.5px,#0000e4 45.5px,#00d 47.5px,#001fff 48.5px,#0016ff 49.5px,#0021ff 50.5px,#0095ff 51.5px,#0004ff 52.5px,#00a3ff 53.5px,#0030ff 54.5px,#0078ff 55.5px,#007fff 56.5px,#0053ff 58.5px,#0000fa 59.5px,#004dff 60.5px,#0001ff 61.5px,#0015ff 62.5px,#0000df 63.5px,#0000d5 64.5px,#0064ff 65.5px,#0045ff 66.5px,#0000e0 67.5px,#0021ff 68.5px,#00f 69.5px,#001aff 70.5px,#0004ff 71.5px,#00f 72.5px,#0000e7 73.5px,#0000f5 74.5px,#0000b0 78.5px,#00c 81.5px,#0000d1 84.5px,#0000cb 85.5px,#0000ad 86.5px,#0000a1 87.5px,#0000bc 89.5px,#0000ad 93.5px,#0000d2 96.5px,#0000b9 99.5px,#0000b8 102.5px,#0000c0 103.5px,#0000b2 105.5px,#0000a6 106.5px,#0000c7 108.5px,#0000c2 110.5px,#0000a3 113.5px,#00009d 114.5px)"></i><i style="background:linear-gradient(90deg,#0000bc 0.5px,#0000ac 5.5px,#00b 9.5px,#0000b8 12.5px,#0000c4 14.5px,#0000c7 18.5px,#0000f3 22.5px,#0000f6 24.5px,#0000e4 30.5px,#0000b4 32.5px,#0000a8 33.5px,#0000dc 35.5px,#0000e8 36.5px,#0000d2 38.5px,#0000e5 39.5px,#0000de 40.5px,#0000c1 41.5px,#0000ce 42.5px,#0000a9 43.5px,#0000d9 44.5px,#0000fb 45.5px,#0000e5 46.5px,#00f 47.5px,#00f 48.5px,#001aff 49.5px,#0046ff 50.5px,#0041ff 51.5px,#00f 52.5px,#0007ff 53.5px,#0000f7 54.5px,#00f 55.5px,#0000d3 56.5px,#0079ff 57.5px,#009fff 58.5px,#00f 59.5px,#00f 61.5px,#0000d1 62.5px,#0025ff 63.5px,#0000d8 64.5px,#002aff 65.5px,#0006ff 66.5px,#0001ff 68.5px,#001bff 70.5px,#0000eb 71.5px,#0000ed 72.5px,#0000d0 73.5px,#0000c5 76.5px,#0000d0 77.5px,#0000cb 78.5px,#0000ab 80.5px,#0000a4 81.5px,#0000c2 84.5px,#0000d3 85.5px,#0000bd 88.5px,#0000c4 90.5px,#0000ab 93.5px,#0000bd 95.5px,#0000d2 96.5px,#0000c4 101.5px,#0000a8 104.5px,#0000c7 108.5px,#0000ae 111.5px,#00009e 112.5px,#0000b7 114.5px)"></i><i style="background:linear-gradient(90deg,#0000b6 0.5px,#0000a5 5.5px,#0000b7 12.5px,#0000c4 16.5px,#0000d7 18.5px,#0000d6 20.5px,#0000df 21.5px,#0000c8 26.5px,#0000a6 30.5px,#0000e2 33.5px,#0000e5 34.5px,#0000d0 36.5px,#0000c1 39.5px,#0000d9 41.5px,#0000d3 42.5px,#00d 43.5px,#0000c8 44.5px,#00f 46.5px,#0000c9 48.5px,#0000c4 49.5px,#0000c9 50.5px,#001aff 51.5px,#00f 52.5px,#0000bd 53.5px,#0000c5 54.5px,#001dff 55.5px,#0027ff 56.5px,#003dff 57.5px,#03f 59.5px,#000dff 60.5px,#0000d0 61.5px,#00f 62.5px,#0000ea 63.5px,#0000e0 64.5px,#0000e8 65.5px,#0000c1 66.5px,#00f 67.5px,#0000f5 68.5px,#0000da 69.5px,#0000e4 70.5px,#00f 71.5px,#0000e4 72.5px,#0000ab 73.5px,#0000ca 74.5px,#0000d5 75.5px,#0000be 76.5px,#0000b4 77.5px,#0000db 78.5px,#00d 79.5px,#0000af 84.5px,#0000b3 86.5px,#0000c7 88.5px,#0000c4 90.5px,#0000ab 92.5px,#0000a6 93.5px,#0000b7 95.5px,#0000c8 96.5px,#0000c4 98.5px,#0000d4 100.5px,#0000c6 105.5px,#0000bc 106.5px,#0000bd 109.5px,#0000a9 111.5px,#0000b4 114.5px)"></i><i style="background:linear-gradient(90deg,#0000b3 0.5px,#00009c 8.5px,#0000b6 13.5px,#0000d0 19.5px,#0000d1 20.5px,#0000b3 22.5px,#0000a9 24.5px,#0000a0 25.5px,#0000af 27.5px,#0000d4 29.5px,#0000da 32.5px,#0000d4 33.5px,#0000ad 35.5px,#0000c1 39.5px,#0000b5 40.5px,#00c 42.5px,#0000c3 43.5px,#0000e2 45.5px,#0000c7 46.5px,#0000e7 47.5px,#00c 48.5px,#0000af 50.5px,#00c 51.5px,#00f 52.5px,#0000f9 53.5px,#0000b0 55.5px,#0000fb 56.5px,#02f 57.5px,#00f 60.5px,#0000f0 61.5px,#0000cf 62.5px,#0000e3 63.5px,#0000c5 64.5px,#0000dc 65.5px,#0000ab 68.5px,#0000a6 69.5px,#0000c2 70.5px,#0000f3 71.5px,#00f 72.5px,#00f 73.5px,#0000a1 75.5px,#0000b4 76.5px,#0000b5 79.5px,#0000c7 80.5px,#0000cb 83.5px,#0000c5 84.5px,#0000ca 85.5px,#0000be 90.5px,#0000ad 93.5px,#0000b2 98.5px,#0000d7 101.5px,#0000df 103.5px,#0000ad 112.5px,#0000a6 114.5px)"></i><i style="background:linear-gradient(90deg,#0000a9 0.5px,#00009a 7.5px,#0000c6 16.5px,#0000b1 20.5px,#00009d 22.5px,#0000c1 28.5px,#0000ac 32.5px,#0000ad 34.5px,#0000a7 36.5px,#0000c7 39.5px,#0000b1 41.5px,#0000b8 43.5px,#0000e3 45.5px,#0000e4 46.5px,#0000c8 47.5px,#0000ac 49.5px,#00e 50.5px,#0008ff 51.5px,#0002ff 52.5px,#0000c8 53.5px,#0000e9 54.5px,#0000f2 55.5px,#0000e4 56.5px,#0000b7 57.5px,#0000f0 58.5px,#00f 59.5px,#0000dc 60.5px,#00f 62.5px,#0000d2 63.5px,#0000b2 64.5px,#0000f7 66.5px,#0000b8 67.5px,#0000d6 69.5px,#0000d5 70.5px,#0000b1 71.5px,#0000e1 73.5px,#0000d9 74.5px,#0000a8 77.5px,#00009e 78.5px,#0000c9 82.5px,#0000ba 84.5px,#0000b4 86.5px,#0000ca 89.5px,#0000ce 92.5px,#0000c3 96.5px,#0000b6 98.5px,#0000a7 99.5px,#0000a6 100.5px,#0000c7 102.5px,#0000cd 105.5px,#00b 109.5px,#00009e 112.5px,#0000a8 114.5px)"></i><i style="background:linear-gradient(90deg,#0000a1 0.5px,#00009b 6.5px,#0000b6 11.5px,#0000b6 16.5px,#00009b 20.5px,#0000a5 26.5px,#00009c 29.5px,#0000d5 36.5px,#0000c3 38.5px,#0000b0 39.5px,#0000af 41.5px,#0000b7 42.5px,#0000b3 44.5px,#0000a6 45.5px,#0000c8 46.5px,#0000d6 48.5px,#0000f1 49.5px,#00f 50.5px,#0000ea 51.5px,#0000b2 53.5px,#0000f7 54.5px,#0000c6 55.5px,#0000b2 56.5px,#0000eb 57.5px,#0000db 59.5px,#0000c9 60.5px,#0000ed 61.5px,#0000d1 62.5px,#0000b0 64.5px,#0000af 65.5px,#0000d5 66.5px,#0000bd 67.5px,#0000d6 69.5px,#0000f1 70.5px,#0000fb 71.5px,#0000a5 73.5px,#0000bf 74.5px,#0000c1 75.5px,#00009e 77.5px,#00009c 78.5px,#0000a8 80.5px,#0000ab 81.5px,#0000ba 82.5px,#0000b2 84.5px,#0000a0 85.5px,#0000a8 87.5px,#0000a0 89.5px,#0000cb 92.5px,#0000dc 94.5px,#0000da 97.5px,#00009f 102.5px,#0000c0 106.5px,#0000af 110.5px,#00009c 112.5px,#0000a7 114.5px)"></i><i style="background:linear-gradient(90deg,#0000a4 0.5px,#009 6.5px,#0000a8 10.5px,#0000a1 16.5px,#0000a6 22.5px,#00009e 25.5px,#0000b9 29.5px,#0000e1 33.5px,#0000d1 35.5px,#00009e 39.5px,#0000bd 42.5px,#0000d3 43.5px,#0000b3 44.5px,#0000bd 45.5px,#0000d4 46.5px,#0000d4 47.5px,#0000f6 48.5px,#0000ed 49.5px,#00f 50.5px,#0000f6 51.5px,#0000ba 52.5px,#0000ad 53.5px,#0000d4 54.5px,#0000be 55.5px,#0000e0 57.5px,#0000bc 59.5px,#0000da 61.5px,#0000d9 62.5px,#0000b8 64.5px,#0000c5 65.5px,#0000b1 66.5px,#0000ae 67.5px,#0000cb 68.5px,#0000d8 69.5px,#0000d3 70.5px,#0000f8 72.5px,#0000e0 73.5px,#0000b6 74.5px,#0000ab 75.5px,#0000bc 76.5px,#0000a2 78.5px,#0000a5 79.5px,#0000b4 80.5px,#0000a3 82.5px,#0000af 84.5px,#00009e 85.5px,#00c 88.5px,#0000c7 89.5px,#0000a9 91.5px,#0000a7 92.5px,#0000ce 95.5px,#0000d6 98.5px,#0000be 101.5px,#00009b 104.5px,#0000b1 106.5px,#0000b1 110.5px,#00009d 113.5px,#00009d 114.5px)"></i><i style="background:linear-gradient(90deg,#0000a5 0.5px,#00009a 9.5px,#0000a5 13.5px,#0000b3 17.5px,#00009e 22.5px,#0000b7 27.5px,#0000e3 31.5px,#0000d0 33.5px,#0000a9 35.5px,#0000ac 37.5px,#00009b 39.5px,#0000ac 40.5px,#0000d0 41.5px,#0000e8 42.5px,#0000d3 43.5px,#00009f 44.5px,#0000b7 46.5px,#0000da 47.5px,#0000e7 48.5px,#0000e6 49.5px,#0000f8 50.5px,#0000d0 51.5px,#0000a9 53.5px,#0000d4 54.5px,#0000fb 56.5px,#0000bf 57.5px,#0000c1 58.5px,#0000b6 59.5px,#0000ca 60.5px,#0000d8 62.5px,#0000ed 63.5px,#0000a6 64.5px,#0000db 65.5px,#0000e2 66.5px,#0000bc 67.5px,#0000b1 68.5px,#0000cf 69.5px,#0000de 70.5px,#0000d3 72.5px,#0000e6 74.5px,#0000b1 77.5px,#0000b0 82.5px,#00009e 84.5px,#0000a7 85.5px,#0000a0 86.5px,#0000a8 87.5px,#0000c0 88.5px,#0000cf 90.5px,#0000cf 91.5px,#0000a0 95.5px,#0000c1 99.5px,#0000be 102.5px,#009 106.5px,#0000b0 111.5px,#0000a2 114.5px)"></i><i style="background:linear-gradient(90deg,#0000a7 0.5px,#00009e 8.5px,#0000b7 16.5px,#00009b 20.5px,#0000be 27.5px,#00c 30.5px,#00009c 33.5px,#0000a5 34.5px,#0000a0 35.5px,#0000ac 37.5px,#00a 38.5px,#0000bf 39.5px,#0000e1 40.5px,#0000e7 41.5px,#0000bd 43.5px,#0000b4 46.5px,#0000e1 47.5px,#0000d2 48.5px,#0000cf 49.5px,#00a 50.5px,#0000c5 51.5px,#00a 52.5px,#00a 53.5px,#00d 54.5px,#0000f8 55.5px,#00e 56.5px,#00009f 57.5px,#0000d8 58.5px,#0000d6 59.5px,#00009f 60.5px,#0000c6 61.5px,#0000c0 62.5px,#0000f9 63.5px,#0000ba 64.5px,#0000c4 65.5px,#0000ed 66.5px,#0000f9 67.5px,#0000b3 69.5px,#0000d4 70.5px,#0000eb 71.5px,#00d 72.5px,#0000c5 73.5px,#0000c1 74.5px,#00d 76.5px,#0000ca 78.5px,#0000c6 80.5px,#0000b5 82.5px,#0000af 84.5px,#00009e 85.5px,#00009a 88.5px,#0000cb 92.5px,#0000c6 95.5px,#0000a3 99.5px,#0000ae 104.5px,#00009a 109.5px,#0000a2 113.5px,#0000a1 114.5px)"></i><i style="background:linear-gradient(90deg,#0000a7 0.5px,#0000a1 7.5px,#0000bd 13.5px,#0000b7 16.5px,#00009d 18.5px,#0000b5 21.5px,#0000b6 28.5px,#0000a5 30.5px,#0000b3 32.5px,#00009b 36.5px,#0000b1 37.5px,#0000f1 39.5px,#0000f4 40.5px,#0000d7 41.5px,#0000ca 42.5px,#0000d7 44.5px,#00009e 45.5px,#0000d8 46.5px,#0000c9 47.5px,#0000a4 48.5px,#0000d6 50.5px,#0000d1 51.5px,#0000b3 52.5px,#0000b2 53.5px,#0000e8 54.5px,#0000f2 55.5px,#0000b7 57.5px,#0000df 58.5px,#0000de 59.5px,#0000c7 60.5px,#0000bd 61.5px,#0000be 62.5px,#0000ec 63.5px,#0000e1 64.5px,#0000ab 65.5px,#0000d9 66.5px,#0000f9 67.5px,#00f 68.5px,#0000d9 69.5px,#0000d5 70.5px,#0000ef 71.5px,#0000f4 72.5px,#0000df 73.5px,#0000ba 74.5px,#0000a1 75.5px,#0000d1 80.5px,#0000b9 82.5px,#0000c0 83.5px,#00009f 88.5px,#00009f 90.5px,#0000c9 97.5px,#0000a9 101.5px,#009 103.5px,#0000ab 107.5px,#000097 114.5px)"></i><i style="background:linear-gradient(90deg,#0000a8 0.5px,#0000a2 5.5px,#0000c3 12.5px,#0000b7 14.5px,#00009f 16.5px,#00b 19.5px,#0000af 23.5px,#009 28.5px,#0000bd 31.5px,#0000a0 34.5px,#00009f 35.5px,#0000b3 36.5px,#0000f3 38.5px,#0000f7 39.5px,#0000d1 41.5px,#0000e5 43.5px,#0000b9 44.5px,#0000c2 46.5px,#0000a2 47.5px,#0000da 48.5px,#0000f9 49.5px,#00f 50.5px,#0000e1 51.5px,#0000b5 52.5px,#0000b8 53.5px,#0000e5 54.5px,#0000d0 56.5px,#0000cd 57.5px,#0000de 58.5px,#0000d4 60.5px,#0000b0 61.5px,#0000c0 62.5px,#0000e9 63.5px,#0000f0 64.5px,#00b 66.5px,#0000e8 67.5px,#00f 68.5px,#0002ff 69.5px,#0000f0 70.5px,#0000fd 72.5px,#0000e0 74.5px,#00009f 76.5px,#0000a5 77.5px,#00009a 78.5px,#0000bc 80.5px,#0000c1 81.5px,#0000b2 82.5px,#0000ae 83.5px,#0000c1 86.5px,#0000a7 90.5px,#00009b 93.5px,#0000b8 98.5px,#0000ae 102.5px,#009 105.5px,#0000ab 110.5px,#00009f 114.5px)"></i><i style="background:linear-gradient(90deg,#0000a6 0.5px,#0000a8 5.5px,#0000c0 9.5px,#0000b7 12.5px,#00009b 14.5px,#0000bc 17.5px,#0000bd 19.5px,#00009d 23.5px,#0000a2 27.5px,#0000b4 31.5px,#00009f 33.5px,#00009f 34.5px,#0000f1 37.5px,#0000f8 38.5px,#0000db 41.5px,#0000e2 42.5px,#0000d0 43.5px,#0000af 44.5px,#0000c1 45.5px,#0000a1 46.5px,#0000df 47.5px,#0000fa 48.5px,#00f 49.5px,#0000f2 50.5px,#0000c4 51.5px,#0000ab 52.5px,#00c 54.5px,#0000c5 55.5px,#0000d2 57.5px,#0000e3 58.5px,#0000da 59.5px,#0000e3 60.5px,#0000a2 61.5px,#0000b5 62.5px,#0000d3 63.5px,#0000de 64.5px,#00c 65.5px,#00009e 66.5px,#0000e1 67.5px,#00f 68.5px,#000eff 69.5px,#00f 70.5px,#0000ed 71.5px,#0000f9 74.5px,#0000b8 76.5px,#0000a2 77.5px,#00009c 83.5px,#0000a2 84.5px,#0000c0 86.5px,#0000b8 89.5px,#00009b 93.5px,#0000a1 96.5px,#00009a 98.5px,#0000ab 101.5px,#0000a5 105.5px,#00009d 108.5px,#0000a7 112.5px,#0000a6 114.5px)"></i><i style="background:linear-gradient(90deg,#0000a4 0.5px,#0000ad 5.5px,#0000ba 9.5px,#00009b 12.5px,#0000c2 16.5px,#0000bd 18.5px,#009 22.5px,#0000a1 27.5px,#0000a9 30.5px,#00009f 33.5px,#0000e2 36.5px,#0000e8 37.5px,#0000d6 41.5px,#0000af 43.5px,#0000c9 44.5px,#0000ab 45.5px,#0000e7 47.5px,#0000f9 48.5px,#0000f7 49.5px,#0000c7 50.5px,#0000a8 51.5px,#00009d 52.5px,#0000a5 53.5px,#0000d5 55.5px,#0000c1 56.5px,#0000e0 58.5px,#0000e6 59.5px,#0000fb 60.5px,#0000c7 61.5px,#0000a5 62.5px,#0000c4 65.5px,#0000b4 66.5px,#0000ca 67.5px,#0000fc 68.5px,#0002ff 70.5px,#0000f8 71.5px,#0000de 72.5px,#0000f5 74.5px,#0000e3 75.5px,#0000c6 76.5px,#0000a4 79.5px,#00009c 81.5px,#0000ac 84.5px,#0000a2 85.5px,#0000b7 88.5px,#0000a8 91.5px,#00009a 93.5px,#0000af 97.5px,#0000ab 99.5px,#009 101.5px,#0000a4 104.5px,#009 109.5px,#0000a7 114.5px)"></i><i style="background:linear-gradient(90deg,#00009f 0.5px,#0000a6 7.5px,#00009c 10.5px,#0000ba 13.5px,#0000c4 15.5px,#009 22.5px,#00009d 27.5px,#0000a0 31.5px,#0000d1 35.5px,#0000d3 40.5px,#0000a4 42.5px,#0000cb 43.5px,#0000af 45.5px,#0000f6 48.5px,#0000a8 50.5px,#00009e 51.5px,#0000ae 52.5px,#0000a0 53.5px,#00b 54.5px,#0000e4 55.5px,#0000c4 56.5px,#0000c1 57.5px,#0000f3 59.5px,#0004ff 60.5px,#0000ef 61.5px,#0000ac 62.5px,#0000a0 63.5px,#0000b3 66.5px,#0000a7 67.5px,#0000e6 68.5px,#00f 69.5px,#0000fa 71.5px,#0000db 72.5px,#0000ce 73.5px,#0000e1 75.5px,#00b 77.5px,#0000b8 80.5px,#00009e 82.5px,#0000bd 84.5px,#0000b9 85.5px,#00009c 87.5px,#0000ad 88.5px,#0000b3 90.5px,#00009e 92.5px,#00009c 93.5px,#0000b4 96.5px,#0000ba 99.5px,#00009a 106.5px,#0000a6 114.5px)"></i><i style="background:linear-gradient(90deg,#000097 0.5px,#00009a 6.5px,#0000c2 13.5px,#0000b8 16.5px,#0000a0 20.5px,#00009b 25.5px,#0000a0 29.5px,#0000bf 33.5px,#0000d3 39.5px,#0000a6 41.5px,#0000d3 42.5px,#0000d2 43.5px,#0000ab 44.5px,#0000b0 45.5px,#0000e2 47.5px,#0000e0 48.5px,#0000b5 49.5px,#00009f 50.5px,#0000a0 51.5px,#0000b1 52.5px,#0000a7 53.5px,#0000de 55.5px,#0000b7 57.5px,#0000fb 59.5px,#01f 60.5px,#00f 61.5px,#00c 62.5px,#0000b7 63.5px,#0000a0 65.5px,#0000b0 66.5px,#0000a1 67.5px,#0000c0 68.5px,#0000f0 69.5px,#0000fc 70.5px,#0000e0 72.5px,#0000c9 73.5px,#0000c1 74.5px,#0000d0 75.5px,#0000c0 81.5px,#0000b6 82.5px,#00009b 83.5px,#0000c3 85.5px,#0000c3 86.5px,#0000a4 88.5px,#00009f 89.5px,#0000ac 91.5px,#009 93.5px,#0000b8 96.5px,#0000c3 101.5px,#0000ab 106.5px,#0000a8 114.5px)"></i><i style="background:linear-gradient(90deg,#0000a4 0.5px,#0000bc 9.5px,#0000bd 13.5px,#0000a4 21.5px,#0000a0 26.5px,#0000b1 30.5px,#0000b2 34.5px,#0000d4 37.5px,#0000d4 38.5px,#0000c3 39.5px,#00009e 40.5px,#0000c9 41.5px,#0000d7 42.5px,#0000be 43.5px,#00009c 44.5px,#0000cf 46.5px,#0000d9 47.5px,#0000ae 49.5px,#00a 50.5px,#00009a 51.5px,#0000ad 52.5px,#0000a1 53.5px,#0000cd 54.5px,#0000d9 55.5px,#00a 57.5px,#0000c9 58.5px,#0000fa 59.5px,#0015ff 60.5px,#000dff 61.5px,#0000e6 62.5px,#0000c9 63.5px,#0000cb 64.5px,#0000bf 65.5px,#0000a4 66.5px,#00009d 67.5px,#0000a3 68.5px,#0000c6 69.5px,#00d 70.5px,#0000e5 71.5px,#0000b7 74.5px,#0000c4 76.5px,#0000c1 80.5px,#0000c8 82.5px,#0000a0 84.5px,#0000bd 86.5px,#0000b9 88.5px,#00009d 90.5px,#0000a9 92.5px,#00009d 94.5px,#0000bd 97.5px,#0000c9 102.5px,#0000b5 109.5px,#0000b0 114.5px)"></i><i style="background:linear-gradient(90deg,#0000b3 0.5px,#0000c4 10.5px,#0000a4 21.5px,#0000a1 25.5px,#0000b0 28.5px,#0000a0 32.5px,#0000b4 34.5px,#0000d6 36.5px,#0000d7 37.5px,#0000ca 38.5px,#0000a2 39.5px,#0000d0 41.5px,#0000c1 42.5px,#0000a3 43.5px,#0000d8 46.5px,#0000d1 47.5px,#0000bc 48.5px,#0000b9 50.5px,#00009f 52.5px,#0000af 53.5px,#0000d0 54.5px,#0000d2 55.5px,#00009f 57.5px,#00b 58.5px,#0000f5 59.5px,#0014ff 60.5px,#0009ff 61.5px,#0000f4 62.5px,#0000d9 63.5px,#0000da 65.5px,#0000af 67.5px,#0000a3 68.5px,#0000b1 70.5px,#0000cb 71.5px,#00c 72.5px,#0000b3 74.5px,#0000b0 75.5px,#0000b8 77.5px,#00b 80.5px,#0000cb 82.5px,#0000cb 83.5px,#00009f 86.5px,#0000b6 88.5px,#0000b7 89.5px,#0000a1 91.5px,#00009f 95.5px,#0000c3 99.5px,#0000cb 103.5px,#0000b8 114.5px)"></i><i style="background:linear-gradient(90deg,#0000be 0.5px,#0000c6 9.5px,#00009f 22.5px,#0000a9 27.5px,#009 30.5px,#009 31.5px,#0000d0 35.5px,#0000d6 36.5px,#00c 37.5px,#0000ac 38.5px,#0000ad 39.5px,#0000be 40.5px,#0000ba 41.5px,#0000a5 42.5px,#0000ac 43.5px,#0000c9 44.5px,#0000d8 45.5px,#0000c0 48.5px,#00c 49.5px,#0000ae 52.5px,#00c 54.5px,#0000c9 55.5px,#000098 57.5px,#0000b2 58.5px,#0000eb 59.5px,#000aff 60.5px,#00f 61.5px,#0000de 63.5px,#0000d7 64.5px,#0000e8 65.5px,#0000e9 66.5px,#0000d9 67.5px,#0000a5 69.5px,#0000a3 71.5px,#0000b6 72.5px,#0000ba 73.5px,#0000a8 76.5px,#0000a4 78.5px,#00009d 79.5px,#0000ad 81.5px,#0000c6 83.5px,#0000c0 85.5px,#00009c 87.5px,#00a 90.5px,#00009a 92.5px,#0000a1 95.5px,#009 96.5px,#0000c6 100.5px,#0000cf 104.5px,#0000bf 114.5px)"></i><i style="background:linear-gradient(90deg,#0000c3 0.5px,#0000c8 9.5px,#0000a6 19.5px,#00009f 22.5px,#0000a7 25.5px,#00009b 28.5px,#00009f 31.5px,#0000ca 34.5px,#0000cb 36.5px,#00009a 38.5px,#0000ab 39.5px,#00a 40.5px,#00009b 41.5px,#0000d5 44.5px,#0000df 45.5px,#0000c2 47.5px,#0000d1 49.5px,#0000be 52.5px,#0000ca 53.5px,#00c 54.5px,#0000c0 55.5px,#0000a4 56.5px,#0000a5 57.5px,#0000b6 58.5px,#0000ea 59.5px,#0005ff 60.5px,#00f 61.5px,#0000de 63.5px,#0000d9 64.5px,#0000f8 66.5px,#0000fd 67.5px,#0000e4 68.5px,#0000ba 69.5px,#00009f 70.5px,#0000ab 71.5px,#00009b 72.5px,#0000b3 74.5px,#00009b 78.5px,#0000a6 79.5px,#0000a2 82.5px,#0000c0 84.5px,#0000be 86.5px,#00009f 88.5px,#0000a3 90.5px,#0000a0 92.5px,#009 93.5px,#00a 95.5px,#00009c 98.5px,#0000c2 101.5px,#0000d1 104.5px,#0000c9 110.5px,#0000c1 114.5px)"></i><i style="background:linear-gradient(90deg,#0000c6 0.5px,#00c 7.5px,#0000a3 21.5px,#00009f 25.5px,#00009c 29.5px,#0000a0 30.5px,#0000be 32.5px,#0000ca 34.5px,#0000b9 36.5px,#000098 38.5px,#00009e 40.5px,#0000d6 43.5px,#0000e0 44.5px,#0000ba 47.5px,#0000cf 49.5px,#0000c8 52.5px,#0000d4 53.5px,#0000d1 54.5px,#00009d 56.5px,#0000c0 58.5px,#0000e7 59.5px,#00f 60.5px,#00f 61.5px,#0000e8 62.5px,#0000d9 64.5px,#0000e4 65.5px,#0000fa 66.5px,#00f 68.5px,#0000e1 69.5px,#0000ae 70.5px,#0000b1 72.5px,#00009f 73.5px,#0000ac 74.5px,#0000b0 75.5px,#00009a 77.5px,#0000b7 80.5px,#0000b6 81.5px,#00009c 83.5px,#0000b3 85.5px,#0000ae 87.5px,#00009b 89.5px,#0000a4 92.5px,#00009b 94.5px,#0000af 96.5px,#00a 98.5px,#00009c 99.5px,#0000a0 100.5px,#0000c5 103.5px,#0000d6 106.5px,#0000ce 111.5px,#0000c2 114.5px)"></i><i style="background:linear-gradient(90deg,#0000c7 0.5px,#0000ce 6.5px,#0000ad 16.5px,#00009e 26.5px,#00009c 29.5px,#0000bf 32.5px,#00b 35.5px,#0000a4 37.5px,#0000a7 39.5px,#0000d8 43.5px,#0000d6 44.5px,#0000b1 46.5px,#0000af 47.5px,#0000d0 50.5px,#0000d1 52.5px,#0000da 53.5px,#0000d2 54.5px,#0000b3 55.5px,#0000a2 56.5px,#0000c0 58.5px,#00f 60.5px,#0000fb 61.5px,#0000e7 62.5px,#0000da 64.5px,#0000e0 65.5px,#00f 67.5px,#0000fd 69.5px,#0000ca 70.5px,#0000a2 71.5px,#0000b6 72.5px,#0000b2 73.5px,#0000a1 74.5px,#0000ad 75.5px,#0000ab 76.5px,#00009f 77.5px,#0000bf 80.5px,#0000c4 81.5px,#0000a0 84.5px,#0000a2 88.5px,#00009b 89.5px,#0000ab 92.5px,#0000a3 94.5px,#000098 95.5px,#0000b1 98.5px,#0000a5 100.5px,#000097 101.5px,#0000d0 106.5px,#0000db 109.5px,#0000c9 114.5px)"></i><i style="background:linear-gradient(90deg,#0000c8 0.5px,#0000ca 5.5px,#0000af 13.5px,#0000a6 22.5px,#00009a 24.5px,#0000a0 27.5px,#000098 28.5px,#0000b9 32.5px,#0000b0 35.5px,#0000ab 38.5px,#0000c0 41.5px,#0000d5 43.5px,#0000ab 46.5px,#0000b7 48.5px,#0000d3 50.5px,#0000d9 53.5px,#0000ce 54.5px,#0000b0 55.5px,#0000a6 56.5px,#0000c6 58.5px,#0000fa 60.5px,#0000f3 61.5px,#0000e0 62.5px,#0000e1 65.5px,#00f 67.5px,#0006ff 68.5px,#00f 69.5px,#00d 70.5px,#0000a6 71.5px,#0000b7 73.5px,#0000a2 75.5px,#0000b0 76.5px,#0000ab 77.5px,#00009a 78.5px,#0000c0 80.5px,#0000c5 82.5px,#00009e 86.5px,#0000a7 90.5px,#0000b2 93.5px,#00009c 96.5px,#0000ae 99.5px,#00009d 103.5px,#0000d9 109.5px,#0000de 112.5px,#0000d2 114.5px)"></i><i style="background:linear-gradient(90deg,#0000c9 0.5px,#0000c1 5.5px,#0000ad 11.5px,#0000a8 20.5px,#00009c 23.5px,#0000a6 26.5px,#000098 28.5px,#0000b7 32.5px,#0000ad 37.5px,#0000be 41.5px,#0000d0 43.5px,#00a 46.5px,#0000b8 48.5px,#00c 50.5px,#0000d8 53.5px,#0000ca 54.5px,#0000ab 55.5px,#0000a2 56.5px,#0000c2 58.5px,#0000f0 60.5px,#0000e9 61.5px,#0000d8 62.5px,#0000e4 66.5px,#00f 68.5px,#00f 69.5px,#0000ec 70.5px,#0000b8 71.5px,#0000a7 72.5px,#00b 73.5px,#0000b4 74.5px,#00009a 75.5px,#0000af 76.5px,#0000b7 77.5px,#00009d 79.5px,#0000c4 81.5px,#0000c7 83.5px,#00a 87.5px,#0000b0 90.5px,#00b 93.5px,#0000a9 96.5px,#00009a 98.5px,#0000ac 101.5px,#000097 104.5px,#0000da 111.5px,#0000db 114.5px)"></i><i style="background:linear-gradient(90deg,#0000c7 0.5px,#00a 9.5px,#0000ab 17.5px,#00009c 22.5px,#00a 24.5px,#00009b 28.5px,#0000b6 32.5px,#0000ad 36.5px,#0000be 41.5px,#0000c9 43.5px,#0000ab 46.5px,#0000b4 48.5px,#0000d4 53.5px,#0000c3 54.5px,#0000a8 55.5px,#0000a0 56.5px,#0000be 58.5px,#0000e5 60.5px,#0000d1 62.5px,#0000de 65.5px,#0000de 66.5px,#00f 68.5px,#00f 69.5px,#0000f2 70.5px,#00009a 72.5px,#0000b4 73.5px,#0000b8 74.5px,#0000a7 75.5px,#0000a4 76.5px,#0000b8 77.5px,#00b 78.5px,#0000a1 80.5px,#0000c5 82.5px,#0000c4 84.5px,#0000b1 88.5px,#0000c5 93.5px,#000098 99.5px,#0000a5 102.5px,#00009b 106.5px,#0000d7 113.5px,#0000da 114.5px)"></i><i style="background:linear-gradient(90deg,#0000c4 0.5px,#0000a8 7.5px,#0000a8 16.5px,#000097 20.5px,#00a 24.5px,#000098 27.5px,#0000b4 30.5px,#0000b0 39.5px,#0000c8 42.5px,#0000bf 44.5px,#0000ac 46.5px,#0000b8 50.5px,#0000ce 52.5px,#0000cd 53.5px,#00009d 56.5px,#0000a6 57.5px,#0000e3 60.5px,#0000cd 62.5px,#0000d6 64.5px,#0000e7 67.5px,#0000f9 69.5px,#0000f2 70.5px,#0000a6 72.5px,#0000b9 74.5px,#0000b1 75.5px,#00009a 76.5px,#00b 78.5px,#0000ba 79.5px,#0000a7 80.5px,#0000a1 81.5px,#0000be 83.5px,#0000be 85.5px,#0000b3 89.5px,#0000c3 94.5px,#000098 100.5px,#0000a2 104.5px,#000097 107.5px,#0000d0 114.5px)"></i><i style="background:linear-gradient(90deg,#0000bd 0.5px,#00a 6.5px,#0000a3 14.5px,#000096 18.5px,#0000a9 22.5px,#000097 26.5px,#0000be 30.5px,#0000ae 34.5px,#0000b0 39.5px,#0000c8 42.5px,#0000b4 45.5px,#0000a2 48.5px,#0000ad 50.5px,#0000c7 52.5px,#0000c5 53.5px,#00009c 56.5px,#00009f 57.5px,#00d 60.5px,#0000d8 61.5px,#0000ca 62.5px,#0000c5 63.5px,#0000e1 65.5px,#0000ec 69.5px,#0000e8 70.5px,#00009f 73.5px,#0000b2 74.5px,#0000b4 75.5px,#0000a0 77.5px,#0000b4 78.5px,#0000ba 79.5px,#0000a2 81.5px,#00009f 82.5px,#0000b7 84.5px,#0000b4 90.5px,#0000c1 94.5px,#000098 101.5px,#0000a0 105.5px,#000096 108.5px,#0000c2 114.5px)"></i><i style="background:linear-gradient(90deg,#0000b7 0.5px,#0000ac 7.5px,#000097 15.5px,#0000a0 22.5px,#00009b 25.5px,#0000c2 29.5px,#0000b2 34.5px,#0000b2 39.5px,#0000c8 42.5px,#00b 44.5px,#000098 47.5px,#0000a2 50.5px,#0000bd 52.5px,#0000ad 54.5px,#00009a 57.5px,#0000d5 60.5px,#0000d5 61.5px,#0000bd 63.5px,#0000e6 66.5px,#0000df 70.5px,#0000d2 71.5px,#00009e 73.5px,#0000b1 75.5px,#00009e 77.5px,#0000b6 80.5px,#00009e 82.5px,#0000b2 86.5px,#0000af 91.5px,#0000b7 96.5px,#000097 101.5px,#0000a0 106.5px,#000098 110.5px,#0000b3 114.5px)"></i><i style="background:linear-gradient(90deg,#0000b4 0.5px,#0000a5 9.5px,#000097 12.5px,#00009b 18.5px,#00009b 23.5px,#0000c8 28.5px,#0000b3 33.5px,#0000b3 39.5px,#0000c6 42.5px,#0000b7 44.5px,#009 46.5px,#0000ab 48.5px,#0000a9 49.5px,#009 50.5px,#0000b4 52.5px,#000098 57.5px,#0000ce 60.5px,#0000ce 61.5px,#0000b7 63.5px,#0000e7 66.5px,#0000e5 68.5px,#0000bd 72.5px,#00009c 74.5px,#0000b1 76.5px,#00009b 78.5px,#0000ad 81.5px,#00009d 83.5px,#0000ab 87.5px,#0000a9 92.5px,#0000b0 97.5px,#000098 102.5px,#0000a2 107.5px,#000096 111.5px,#0000a7 114.5px)"></i><i style="background:linear-gradient(90deg,#0000b2 0.5px,#0000a6 7.5px,#000097 10.5px,#0000a0 14.5px,#00009b 18.5px,#0000ae 24.5px,#00c 27.5px,#0000b4 32.5px,#0000b5 36.5px,#0000b5 39.5px,#0000c6 42.5px,#0000b2 44.5px,#0000a1 45.5px,#00009f 46.5px,#0000b7 48.5px,#0000b1 49.5px,#0000a1 50.5px,#0000a6 53.5px,#009 57.5px,#0000c5 60.5px,#0000c4 61.5px,#0000b1 63.5px,#0000ba 64.5px,#0000e1 66.5px,#0000ea 67.5px,#0000d8 69.5px,#0000b3 73.5px,#00009f 74.5px,#0000ae 77.5px,#00009b 79.5px,#0000a1 83.5px,#000098 84.5px,#0000a2 88.5px,#0000a2 93.5px,#00a 98.5px,#009 103.5px,#0000a3 108.5px,#009 113.5px,#00009e 114.5px)"></i><i style="background:linear-gradient(90deg,#0000b1 0.5px,#0000a2 6.5px,#000096 8.5px,#0000a2 12.5px,#000096 15.5px,#0000a8 21.5px,#0000b9 24.5px,#0000cb 26.5px,#0000c8 28.5px,#0000b3 31.5px,#0000ba 35.5px,#0000b3 38.5px,#0000c5 41.5px,#0000bc 43.5px,#009 45.5px,#0000ba 47.5px,#0000c1 48.5px,#0000a9 50.5px,#009 51.5px,#0000a0 56.5px,#00009a 57.5px,#0000bd 60.5px,#0000ac 63.5px,#0000b3 64.5px,#0000e8 67.5px,#0000e6 68.5px,#0000bc 71.5px,#0000a6 74.5px,#00009a 75.5px,#0000af 77.5px,#000097 81.5px,#00009b 84.5px,#009 93.5px,#0000a7 99.5px,#000098 104.5px,#0000a4 109.5px,#000098 114.5px)"></i><i style="background:linear-gradient(90deg,#0000ae 0.5px,#009 7.5px,#0000a3 11.5px,#00009a 14.5px,#0000ac 18.5px,#0000b0 22.5px,#0000c8 26.5px,#0000b1 30.5px,#0000bd 34.5px,#0000b1 37.5px,#0000c6 41.5px,#0000b9 43.5px,#00009a 45.5px,#0000c3 47.5px,#0000cb 48.5px,#0000b1 50.5px,#000097 52.5px,#0000a0 56.5px,#009 57.5px,#0000b7 60.5px,#0000a4 63.5px,#00a 64.5px,#0000e5 67.5px,#0000e8 68.5px,#0000b3 71.5px,#0000a9 74.5px,#00009c 75.5px,#0000b0 79.5px,#009 83.5px,#00009d 96.5px,#0000a2 102.5px,#000096 105.5px,#0000a5 110.5px,#000097 114.5px)"></i><i style="background:linear-gradient(90deg,#0000a8 0.5px,#000097 5.5px,#0000a4 9.5px,#000098 12.5px,#0000ae 17.5px,#0000b2 22.5px,#0000bf 25.5px,#0000ad 29.5px,#0000bd 33.5px,#0000b1 37.5px,#0000c7 41.5px,#0000b8 43.5px,#0000a6 44.5px,#0000a1 45.5px,#0000ca 47.5px,#0000d0 48.5px,#0000b7 50.5px,#00009c 52.5px,#0000a1 56.5px,#009 57.5px,#0000b1 60.5px,#00009e 63.5px,#0000a1 64.5px,#0000c8 66.5px,#0000de 67.5px,#0000e1 68.5px,#0000ab 71.5px,#00009b 75.5px,#0000b0 79.5px,#00009f 83.5px,#009 85.5px,#009 95.5px,#0000a5 103.5px,#000098 107.5px,#0000a5 111.5px,#00009c 114.5px)"></i><i style="background:linear-gradient(90deg,#0000a1 0.5px,#000096 3.5px,#0000a4 8.5px,#000097 11.5px,#0000ae 16.5px,#0000b0 22.5px,#0000b7 25.5px,#00a 28.5px,#0000bd 32.5px,#0000af 37.5px,#0000c9 41.5px,#0000b6 43.5px,#0000a3 44.5px,#0000a6 45.5px,#0000c0 46.5px,#0000cf 47.5px,#0000d3 48.5px,#00009d 52.5px,#0000a8 55.5px,#00009a 57.5px,#0000ac 60.5px,#009 64.5px,#0000c0 66.5px,#0000d4 67.5px,#0000db 68.5px,#0000d1 69.5px,#0000a3 71.5px,#000097 73.5px,#0000a1 77.5px,#0000af 81.5px,#000097 85.5px,#00009a 96.5px,#00009e 99.5px,#0000a8 104.5px,#000096 108.5px,#0000a1 113.5px,#00009e 114.5px)"></i><i style="background:linear-gradient(90deg,#00009a 0.5px,#00009a 3.5px,#0000a1 8.5px,#000097 10.5px,#0000ab 15.5px,#0000ab 22.5px,#00a 28.5px,#0000bd 31.5px,#00a 36.5px,#0000c6 40.5px,#0000c3 42.5px,#00009e 44.5px,#00a 45.5px,#0000d5 47.5px,#0000cd 49.5px,#00009b 52.5px,#0000ac 55.5px,#00009d 57.5px,#0000a8 60.5px,#00009b 63.5px,#0000a1 65.5px,#00c 67.5px,#0000d7 68.5px,#0000d0 69.5px,#0000a1 71.5px,#0000a7 80.5px,#0000a9 83.5px,#000097 86.5px,#000098 97.5px,#00a 105.5px,#000095 110.5px,#00009d 114.5px)"></i><i style="background:linear-gradient(90deg,#000095 0.5px,#0000a2 6.5px,#000098 10.5px,#0000a7 14.5px,#0000a3 25.5px,#0000be 31.5px,#0000a6 35.5px,#0000b9 38.5px,#0000c9 40.5px,#0000c1 42.5px,#0000b2 43.5px,#009 44.5px,#0000d4 47.5px,#0000d6 48.5px,#0000bd 50.5px,#000097 52.5px,#0000af 54.5px,#00a 56.5px,#00009a 58.5px,#0000a3 60.5px,#000097 62.5px,#00009f 64.5px,#00009c 65.5px,#0000d2 68.5px,#0000ca 69.5px,#00009e 71.5px,#0000ac 74.5px,#00009e 80.5px,#0000a7 83.5px,#000097 86.5px,#00009a 96.5px,#00009b 100.5px,#0000af 106.5px,#000095 112.5px,#000098 114.5px)"></i><i style="background:linear-gradient(90deg,#000098 0.5px,#00009f 6.5px,#00009a 10.5px,#00009e 17.5px,#0000a1 25.5px,#0000c0 29.5px,#0000b2 32.5px,#0000a3 35.5px,#0000c8 40.5px,#0000c8 41.5px,#0000ad 43.5px,#009 44.5px,#0000c7 46.5px,#0000d4 48.5px,#0000ba 50.5px,#00009a 52.5px,#0000b3 54.5px,#0000a5 57.5px,#00009a 58.5px,#00009b 62.5px,#0000a2 64.5px,#000098 65.5px,#0000c9 68.5px,#0000c4 69.5px,#00009b 71.5px,#0000b4 74.5px,#0000a2 78.5px,#000097 81.5px,#0000a2 84.5px,#009 87.5px,#00009a 93.5px,#000097 100.5px,#0000b2 107.5px,#000097 114.5px)"></i><i style="background:linear-gradient(90deg,#00009a 0.5px,#00009a 7.5px,#00009a 12.5px,#00009a 23.5px,#0000c1 28.5px,#0000c0 30.5px,#0000a2 33.5px,#0000a8 36.5px,#0000c7 40.5px,#0000bd 42.5px,#00009c 44.5px,#0000c5 46.5px,#0000cd 48.5px,#0000b4 50.5px,#0000a2 51.5px,#00009f 52.5px,#0000b6 54.5px,#00a 57.5px,#000098 59.5px,#000097 61.5px,#0000a6 63.5px,#00009d 65.5px,#0000a1 66.5px,#0000be 68.5px,#0000bd 69.5px,#00009c 71.5px,#00b 74.5px,#0000b0 77.5px,#00009b 79.5px,#00009c 82.5px,#00009c 88.5px,#000098 101.5px,#0000b5 108.5px,#00009f 114.5px)"></i><i style="background:linear-gradient(90deg,#009 0.5px,#000098 22.5px,#0000c4 28.5px,#0000b9 30.5px,#00009f 33.5px,#0000a8 36.5px,#0000c6 40.5px,#0000b7 42.5px,#0000a4 43.5px,#00009f 44.5px,#0000c2 46.5px,#0000c6 48.5px,#0000ae 50.5px,#00009c 51.5px,#0000ba 54.5px,#0000b0 57.5px,#009 60.5px,#0000a8 64.5px,#00009a 66.5px,#0000b5 68.5px,#0000b8 69.5px,#00009d 71.5px,#0000bc 75.5px,#0000b6 77.5px,#00009a 80.5px,#0000a7 82.5px,#000098 86.5px,#0000a0 91.5px,#000096 101.5px,#0000b7 109.5px,#0000a6 114.5px)"></i><i style="background:linear-gradient(90deg,#000096 0.5px,#000098 12.5px,#000098 21.5px,#0000c7 27.5px,#0000b3 30.5px,#00009c 33.5px,#0000a7 36.5px,#0000c3 40.5px,#0000b2 42.5px,#0000a1 43.5px,#00009f 44.5px,#0000ba 46.5px,#00b 48.5px,#000097 51.5px,#0000ba 54.5px,#0000b4 57.5px,#00009d 60.5px,#0000a8 64.5px,#000098 66.5px,#0000b3 69.5px,#00009e 71.5px,#00009f 72.5px,#0000bd 75.5px,#0000b2 78.5px,#000096 80.5px,#0000ab 82.5px,#00009e 87.5px,#0000a0 92.5px,#000096 101.5px,#0000a8 106.5px,#0000b8 110.5px,#0000ad 114.5px)"></i><i style="background:linear-gradient(90deg,#000095 0.5px,#00009e 10.5px,#000097 16.5px,#00009e 21.5px,#0000c8 26.5px,#0000b7 29.5px,#00009b 32.5px,#00009f 35.5px,#0000bd 39.5px,#0000ba 41.5px,#00009f 43.5px,#00009e 44.5px,#0000b2 46.5px,#0000b1 48.5px,#00009d 50.5px,#00009c 51.5px,#0000bf 55.5px,#00009e 61.5px,#0000a6 65.5px,#00009c 66.5px,#0000ab 69.5px,#00009a 72.5px,#00b 76.5px,#0000b5 78.5px,#00009a 80.5px,#0000b1 83.5px,#0000a3 88.5px,#0000a0 93.5px,#000096 103.5px,#0000b9 111.5px,#0000b2 114.5px)"></i><i style="background:linear-gradient(90deg,#009 0.5px,#000098 4.5px,#0000a0 9.5px,#000097 13.5px,#00009f 20.5px,#0000c8 25.5px,#0000c4 27.5px,#000096 32.5px,#00009b 35.5px,#00b 40.5px,#00009a 44.5px,#0000a9 46.5px,#00009e 49.5px,#000097 50.5px,#0000be 55.5px,#0000ae 58.5px,#00009d 61.5px,#0000a4 65.5px,#009 67.5px,#0000a6 69.5px,#000097 72.5px,#0000b9 77.5px,#00009c 81.5px,#0000b0 83.5px,#0000b1 85.5px,#0000a8 89.5px,#000096 103.5px,#0000a8 108.5px,#0000b7 112.5px,#0000b5 114.5px)"></i><i style="background:linear-gradient(90deg,#00009b 0.5px,#00009a 4.5px,#0000a1 8.5px,#000094 11.5px,#00009e 17.5px,#0000ac 21.5px,#0000c5 25.5px,#0000b1 28.5px,#000097 31.5px,#00009a 34.5px,#000096 35.5px,#0000b4 39.5px,#0000b1 41.5px,#000097 44.5px,#00009e 47.5px,#000097 49.5px,#00b 55.5px,#0000ac 58.5px,#00009a 61.5px,#0000a2 65.5px,#000096 67.5px,#0000a3 70.5px,#000098 73.5px,#0000b2 77.5px,#0000ac 79.5px,#000097 81.5px,#0000b3 84.5px,#0000a4 94.5px,#000095 105.5px,#0000b6 113.5px,#0000b6 114.5px)"></i><i style="background:linear-gradient(90deg,#00009c 0.5px,#000098 3.5px,#0000a0 7.5px,#000095 10.5px,#0000a2 15.5px,#0000ab 20.5px,#0000c4 24.5px,#0000b3 27.5px,#000098 30.5px,#0000a3 33.5px,#009 36.5px,#0000b1 39.5px,#0000a7 42.5px,#000097 45.5px,#0000a6 52.5px,#0000b7 55.5px,#0000a9 58.5px,#000096 61.5px,#00009d 65.5px,#000097 67.5px,#0000a1 71.5px,#000098 74.5px,#0000ae 78.5px,#000097 81.5px,#0000b3 85.5px,#0000a5 95.5px,#000098 107.5px,#0000b3 114.5px)"></i><i style="background:linear-gradient(90deg,#00009b 0.5px,#000094 2.5px,#00009e 6.5px,#000097 9.5px,#0000a5 13.5px,#0000a9 19.5px,#0000c1 23.5px,#0000b3 26.5px,#009 29.5px,#0000ab 32.5px,#00009f 35.5px,#000097 36.5px,#0000ae 40.5px,#00009b 45.5px,#00a 54.5px,#0000ab 57.5px,#000097 60.5px,#009 67.5px,#0000a2 72.5px,#000096 75.5px,#0000a6 78.5px,#000098 81.5px,#0000ad 85.5px,#0000ac 94.5px,#00009a 104.5px,#000097 108.5px,#0000af 114.5px)"></i><i style="background:linear-gradient(90deg,#00009a 0.5px,#009 3.5px,#009 8.5px,#0000a8 12.5px,#0000a7 18.5px,#0000bd 22.5px,#0000b3 25.5px,#009 28.5px,#0000b0 31.5px,#0000ac 34.5px,#00009a 36.5px,#0000ab 40.5px,#00009e 45.5px,#0000a2 50.5px,#0000a0 53.5px,#0000a8 56.5px,#000096 59.5px,#00009e 62.5px,#00009d 67.5px,#0000a4 73.5px,#000097 76.5px,#0000a1 79.5px,#00009a 82.5px,#0000a9 86.5px,#0000ad 95.5px,#000096 109.5px,#0000a8 114.5px)"></i><i style="background:linear-gradient(90deg,#009 0.5px,#00009b 7.5px,#0000a9 11.5px,#0000a8 18.5px,#0000b9 22.5px,#0000a9 25.5px,#000098 27.5px,#0000ba 31.5px,#0000b0 34.5px,#000098 37.5px,#0000a8 40.5px,#0000a4 46.5px,#00009f 50.5px,#000098 53.5px,#00009e 57.5px,#00009a 59.5px,#0000a0 63.5px,#0000a7 74.5px,#000097 78.5px,#00009a 82.5px,#0000a3 87.5px,#0000ad 96.5px,#000097 111.5px,#0000a2 114.5px)"></i><i style="background:linear-gradient(90deg,#009 0.5px,#009 5.5px,#0000ab 10.5px,#0000a5 17.5px,#0000b4 22.5px,#000097 26.5px,#0000be 30.5px,#00b 33.5px,#000095 37.5px,#0000a4 40.5px,#0000a3 45.5px,#0000a2 49.5px,#000096 51.5px,#00009d 59.5px,#0000a4 63.5px,#0000a8 75.5px,#000097 80.5px,#00009d 87.5px,#0000a5 92.5px,#0000ae 97.5px,#000096 112.5px,#00009b 114.5px)"></i><i style="background:linear-gradient(90deg,#009 0.5px,#00009f 5.5px,#0000ab 10.5px,#0000a2 16.5px,#0000b1 21.5px,#0000a0 24.5px,#000095 25.5px,#0000c1 29.5px,#0000c5 32.5px,#000096 37.5px,#0000a0 41.5px,#0000a4 48.5px,#000096 50.5px,#0000a2 53.5px,#009 57.5px,#0000a7 63.5px,#0000ad 75.5px,#00009c 81.5px,#000096 90.5px,#0000b0 97.5px,#000096 114.5px)"></i><i style="background:linear-gradient(90deg,#00009c 0.5px,#00a 9.5px,#00009f 15.5px,#0000ae 21.5px,#000095 24.5px,#0000c8 29.5px,#0000c6 32.5px,#000096 37.5px,#0000a2 47.5px,#00009a 50.5px,#0000a9 53.5px,#00009e 58.5px,#0000a9 64.5px,#0000b0 75.5px,#0000a0 81.5px,#009 88.5px,#000096 92.5px,#0000b2 97.5px,#000095 114.5px)"></i><i style="background:linear-gradient(90deg,#00009e 0.5px,#0000a9 8.5px,#00009c 14.5px,#0000ac 20.5px,#009 23.5px,#0000a9 25.5px,#0000c7 28.5px,#00c 31.5px,#000097 37.5px,#00009d 47.5px,#000098 49.5px,#0000ad 52.5px,#0000a3 59.5px,#0000b4 74.5px,#000095 86.5px,#0000a0 90.5px,#000095 93.5px,#0000b2 98.5px,#009 114.5px)"></i><i style="background:linear-gradient(90deg,#0000a0 0.5px,#0000a8 7.5px,#00009b 14.5px,#0000a9 20.5px,#000098 23.5px,#0000cd 28.5px,#0000ca 31.5px,#000098 37.5px,#000098 48.5px,#0000b3 52.5px,#0000a0 58.5px,#0000b6 73.5px,#000095 86.5px,#0000a7 90.5px,#000094 94.5px,#0000b2 99.5px,#00009c 114.5px)"></i><i style="background:linear-gradient(90deg,#0000a3 0.5px,#0000a5 7.5px,#000098 13.5px,#00a 19.5px,#000094 22.5px,#0000c8 27.5px,#0000cd 30.5px,#000098 37.5px,#000097 47.5px,#0000b8 52.5px,#0000a0 58.5px,#0000b6 73.5px,#0000a0 84.5px,#000097 86.5px,#0000ab 90.5px,#00009b 94.5px,#000095 95.5px,#0000b1 99.5px,#0000ac 105.5px,#00009e 114.5px)"></i><i style="background:linear-gradient(90deg,#0000a5 0.5px,#0000a4 6.5px,#000096 12.5px,#0000a9 18.5px,#009 22.5px,#0000c4 26.5px,#00c 29.5px,#000098 37.5px,#009 46.5px,#0000bc 52.5px,#0000a0 58.5px,#0000b6 72.5px,#0000ae 79.5px,#000098 86.5px,#0000af 90.5px,#0000a1 94.5px,#000097 96.5px,#0000b3 100.5px,#00009f 114.5px)"></i><i style="background:linear-gradient(90deg,#0000a6 0.5px,#00009b 7.5px,#000095 12.5px,#0000a8 18.5px,#000095 21.5px,#0000c5 26.5px,#0000ca 29.5px,#00009b 36.5px,#00009a 45.5px,#0000bf 52.5px,#00009f 58.5px,#0000b4 69.5px,#0000b2 78.5px,#000098 86.5px,#0000b2 90.5px,#0000a8 94.5px,#000097 96.5px,#0000b4 101.5px,#0000a0 114.5px)"></i><i style="background:linear-gradient(90deg,#0000a7 0.5px,#000093 11.5px,#0000a9 17.5px,#000097 21.5px,#0000c5 26.5px,#0000c4 29.5px,#00009b 36.5px,#00009f 45.5px,#0000c1 51.5px,#0000b8 54.5px,#00009f 58.5px,#0000af 66.5px,#0000b1 79.5px,#000098 86.5px,#0000b6 90.5px,#0000b2 93.5px,#000094 97.5px,#0000b1 101.5px,#0000ab 107.5px,#0000a1 114.5px)"></i><i style="opacity:.6;background:linear-gradient(90deg,#0000a7 0.5px,#000093 11.5px,#0000a9 17.5px,#000097 21.5px,#0000c5 26.5px,#0000c4 29.5px,#00009b 36.5px,#00009f 45.5px,#0000c1 51.5px,#0000b8 54.5px,#00009f 58.5px,#0000af 66.5px,#0000b1 79.5px,#000098 86.5px,#0000b6 90.5px,#0000b2 93.5px,#000094 97.5px,#0000b1 101.5px,#0000ab 107.5px,#0000a1 114.5px)"></i></div>
<div class="c" style="height:115.4px;transform:translate(514px,15.2px)"></div>
<div class="k" style="left:528.7px;top:125.9px">0</div>
<div class="k" style="left:528.7px;top:108.552px">0.05</div>
<b class="m" style="transform:translate(514.5px,112.752px)"></b><b class="m" style="transform:translate(523.5px,112.752px)"></b>
<div class="k" style="left:528.7px;top:91.2037px">0.1</div>
<b class="m" style="transform:translate(514.5px,95.4037px)"></b><b class="m" style="transform:translate(523.5px,95.4037px)"></b>
<div class="k" style="left:528.7px;top:73.8555px">0.15</div>
<b class="m" style="transform:translate(514.5px,78.0555px)"></b><b class="m" style="transform:translate(523.5px,78.0555px)"></b>
<div class="k" style="left:528.7px;top:56.5073px">0.2</div>
<b class="m" style="transform:translate(514.5px,60.7073px)"></b><b class="m" style="transform:translate(523.5px,60.7073px)"></b>
<div class="k" style="left:528.7px;top:39.1592px">0.25</div>
<b class="m" style="transform:translate(514.5px,43.3592px)"></b><b class="m" style="transform:translate(523.5px,43.3592px)"></b>
<div class="k" style="left:528.7px;top:21.811px">0.3</div>
<b class="m" style="transform:translate(514.5px,26.011px)"></b><b class="m" style="transform:translate(523.5px,26.011px)"></b>
<div class="t" style="left:-66.5px;top:151.7px">PINN-Mono Solution</div>
<div class="h" style="left:6px;top:164px"><i style="background:#000087"></i><i style="background:#000087"></i><i style="background:#000087"></i><i style="background:#000087"></i><i style="background:#000087"></i><i style="background:#000087"></i><i style="background:#000087"></i><i style="background:#000087"></i><i style="background:#000087"></i><i style="background:#000087"></i><i style="background:#000087"></i><i style="background:#000087"></i><i style="background:#000087"></i><i style="background:#000087"></i><i style="background:#000087"></i><i style="background:#000087"></i><i style="background:#000087"></i><i style="background:#000087"></i><i style="background:#000087"></i><i style="background:#000087"></i><i style="background:#000087"></i><i style="background:#000087"></i><i style="background:#000087"></i><i style="background:#000087"></i><i style="background:#000087"></i><i style="background:#000087"></i><i style="background:#000087"></i><i style="background:#000087"></i><i style="background:#000087"></i><i style="background:#000087"></i><i style="background:#000087"></i><i style="background:#000087"></i><i style="background:#000087"></i><i style="background:#000087"></i><i style="background:#000087"></i><i style="background:#000087"></i><i style="background:#000087"></i><i style="background:#000087"></i><i style="background:#000087"></i><i style="background:#000087"></i><i style="background:#000087"></i><i style="background:#000087"></i><i style="background:#000087"></i><i style="background:#000087"></i><i style="background:#000087"></i><i style="background:#000087"></i><i style="background:#008"></i><i style="background:linear-gradient(90deg,#008 0.5px,#008 113.5px,#008 114.5px)"></i><i style="background:linear-gradient(90deg,#000089 0.5px,#000092 74.5px,#000089 114.5px)"></i><i style="background:linear-gradient(90deg,#00008b 0.5px,#0000a3 62.5px,#00008b 114.5px)"></i><i style="background:linear-gradient(90deg,#00008e 0.5px,#0000bf 56.5px,#0000a7 85.5px,#00008d 114.5px)"></i><i style="background:linear-gradient(90deg,#000093 0.5px,#0000ba 25.5px,#0000ef 51.5px,#0000e9 67.5px,#00009a 106.5px,#000092 114.5px)"></i><i style="background:linear-gradient(90deg,#00009a 0.5px,#0000c4 18.5px,#00f 33.5px,#0008ff 38.5px,#0030ff 52.5px,#002cff 63.5px,#00f 78.5px,#0000f4 83.5px,#0000af 102.5px,#000098 114.5px)"></i><i style="background:linear-gradient(90deg,#0000a3 0.5px,#0000d2 14.5px,#00f 23.5px,#0009ff 26.5px,#0089ff 45.5px,#00a5ff 54.5px,#009dff 63.5px,#006bff 73.5px,#00f 89.5px,#0000f8 92.5px,#0000b6 106.5px,#0000a1 114.5px)"></i><i style="background:linear-gradient(90deg,#0000ae 0.5px,#0000e4 12.5px,#00f 16.5px,#00f 18.5px,#0068ff 29.5px,#00f1ff 42.5px,#00faaa 50.5px,#0dfa96 56.5px,#03faa4 62.5px,#00f7dd 68.5px,#00f1ff 71.5px,#0019ff 92.5px,#00f 95.5px,#0000f9 98.5px,#0000bc 109.5px,#0000ab 114.5px)"></i><i style="background:linear-gradient(90deg,#0000b8 0.5px,#0000f0 10.5px,#00f 13.5px,#0014ff 16.5px,#007eff 25.5px,#00f0ff 33.5px,#00f8c0 36.5px,#00faa9 37.5px,#34fa62 41.5px,#98ff22 45.5px,#feff00 50.5px,#ffe200 55.5px,#ffe900 60.5px,#feff00 63.5px,#98ff22 68.5px,#34fa62 72.5px,#00faa9 76.5px,#00f6ef 79.5px,#00f0ff 80.5px,#004aff 92.5px,#0002ff 99.5px,#0000f8 102.5px,#0000bc 112.5px,#0000b5 114.5px)"></i><i style="background:linear-gradient(90deg,#0000c0 0.5px,#00f 10.5px,#0006ff 12.5px,#0063ff 20.5px,#00f2ff 29.5px,#00f9af 32.5px,#2cfa69 35.5px,#97ff23 38.5px,#e5ff09 40.5px,#fff700 41.5px,#ff6400 48.5px,#ff2900 52.5px,#ff0f00 56.5px,#ff1700 59.5px,#ff4300 63.5px,#ffb400 69.5px,#fff700 72.5px,#e5ff09 73.5px,#97ff23 75.5px,#2cfa69 78.5px,#00f9af 81.5px,#00f2ff 84.5px,#0063ff 93.5px,#0006ff 101.5px,#0000fa 104.5px,#0000bc 114.5px)"></i><i style="background:linear-gradient(90deg,#0000c4 0.5px,#00f 9.5px,#000eff 12.5px,#0064ff 19.5px,#00e6ff 27.5px,#00f5f8 28.5px,#05faa1 31.5px,#27fa6f 33.5px,#6ffd3c 35.5px,#98ff22 36.5px,#efff05 38.5px,#fe0 39.5px,#ff0600 48.5px,#f00 49.5px,#b30000 54.5px,#a20000 56.5px,#a80000 58.5px,#e00000 62.5px,#f00 64.5px,#ff0600 65.5px,#fe0 74.5px,#efff05 75.5px,#98ff22 77.5px,#47fb56 79.5px,#27fa6f 80.5px,#05faa1 82.5px,#00f5f8 85.5px,#00c2ff 88.5px,#003bff 97.5px,#0004ff 102.5px,#0000f8 105.5px,#0000bf 114.5px)"></i><i style="background:linear-gradient(90deg,#0000c1 0.5px,#00f 10.5px,#0008ff 12.5px,#0068ff 20.5px,#00e8ff 28.5px,#00f5f6 29.5px,#05faa2 32.5px,#25fa73 34.5px,#3ffb5b 35.5px,#8bff29 37.5px,#fffc00 40.5px,#ff4700 48.5px,#ff0700 52.5px,#f00 56.5px,#f00 60.5px,#ff1400 62.5px,#ff7000 67.5px,#fffc00 73.5px,#8bff29 76.5px,#3ffb5b 78.5px,#15fa8a 80.5px,#05faa2 81.5px,#00f5f6 84.5px,#00d6ff 86.5px,#004cff 95.5px,#00f 102.5px,#0000f4 105.5px,#0000bd 114.5px)"></i><i style="background:linear-gradient(90deg,#0000ba 0.5px,#0000f4 10.5px,#00f 13.5px,#0053ff 21.5px,#00f2ff 32.5px,#04faa3 36.5px,#2bfa6a 39.5px,#9aff22 43.5px,#ebff07 46.5px,#fffd00 47.5px,#ffc600 52.5px,#ffb500 57.5px,#ffce00 62.5px,#fffd00 66.5px,#b6ff18 69.5px,#7ffe32 71.5px,#2bfa6a 74.5px,#04faa3 77.5px,#00f2ff 81.5px,#0053ff 92.5px,#00f 100.5px,#0000f4 103.5px,#0000ba 113.5px,#0000b6 114.5px)"></i><i style="background:linear-gradient(90deg,#0000b0 0.5px,#0000e3 11.5px,#00f 15.5px,#00f 17.5px,#006dff 28.5px,#00f5fd 40.5px,#02faa5 46.5px,#21fa78 52.5px,#28fa6f 58.5px,#14fa8b 64.5px,#00f9b1 68.5px,#00f5fd 73.5px,#0023ff 92.5px,#00f 96.5px,#0000f8 99.5px,#00b 110.5px,#0000ad 114.5px)"></i><i style="background:linear-gradient(90deg,#0000a5 0.5px,#0000d8 14.5px,#00f 21.5px,#0007ff 24.5px,#009aff 44.5px,#00bfff 53.5px,#00bdff 61.5px,#008eff 71.5px,#00f 90.5px,#0000fb 93.5px,#0000ba 106.5px,#0000a3 114.5px)"></i><i style="background:linear-gradient(90deg,#00009b 0.5px,#0000c6 17.5px,#00f 31.5px,#0009ff 35.5px,#0040ff 50.5px,#0043ff 61.5px,#001bff 74.5px,#00f 81.5px,#0000f6 85.5px,#0000b0 103.5px,#00009a 114.5px)"></i><i style="background:linear-gradient(90deg,#000094 0.5px,#00b 23.5px,#0000fb 50.5px,#0000f9 65.5px,#00009d 105.5px,#000093 114.5px)"></i><i style="background:linear-gradient(90deg,#00008f 0.5px,#0000bc 40.5px,#0000c6 62.5px,#00008e 114.5px)"></i><i style="background:linear-gradient(90deg,#00008b 0.5px,#0000a7 61.5px,#00008b 114.5px)"></i><i style="background:linear-gradient(90deg,#000089 0.5px,#000095 71.5px,#000089 114.5px)"></i><i style="background:linear-gradient(90deg,#008 0.5px,#00008a 96.5px,#008 114.5px)"></i><i style="background:#008"></i><i style="background:#000087"></i><i style="background:#000087"></i><i style="background:#000087"></i><i style="background:#000087"></i><i style="background:#000087"></i><i style="background:#000087"></i><i style="background:#000087"></i><i style="background:#000087"></i><i style="background:#000087"></i><i style="background:#000087"></i><i style="background:#000087"></i><i style="background:#000087"></i><i style="background:#000087"></i><i style="background:#000087"></i><i style="background:#000087"></i><i style="background:#000087"></i><i style="background:#000087"></i><i style="background:#000087"></i><i style="background:#000087"></i><i style="background:#000087"></i><i style="background:#000087"></i><i style="background:#000087"></i><i style="background:#000087"></i><i style="background:#000087"></i><i style="background:#000087"></i><i style="background:#000087"></i><i style="background:#000087"></i><i style="background:#000087"></i><i style="background:#000087"></i><i style="background:#000087"></i><i style="background:#000087"></i><i style="background:#000087"></i><i style="background:#000087"></i><i style="background:#000087"></i><i style="background:#000087"></i><i style="background:#000087"></i><i style="background:#000087"></i><i style="background:#000087"></i><i style="background:#000087"></i><i style="background:#000087"></i><i style="background:#000087"></i><i style="background:#000087"></i><i style="background:#000087"></i><i style="background:#000087"></i><i style="background:#000087"></i><i style="background:#000087"></i></div>
<div class="c" style="height:115.1px;transform:translate(135px,164px)"></div>
<div class="k" style="left:149.7px;top:275.2px">0</div>
<div class="k" style="left:149.7px;top:253.234px">2</div>
<b class="m" style="transform:translate(135.5px,256.634px)"></b><b class="m" style="transform:translate(144.5px,256.634px)"></b>
<div class="k" style="left:149.7px;top:231.269px">4</div>
<b class="m" style="transform:translate(135.5px,234.669px)"></b><b class="m" style="transform:translate(144.5px,234.669px)"></b>
<div class="k" style="left:149.7px;top:209.303px">6</div>
<b class="m" style="transform:translate(135.5px,212.703px)"></b><b class="m" style="transform:translate(144.5px,212.703px)"></b>
<div class="k" style="left:149.7px;top:187.337px">8</div>
<b class="m" style="transform:translate(135.5px,190.737px)"></b><b class="m" style="transform:translate(144.5px,190.737px)"></b>
<div class="k" style="left:149.7px;top:165.372px">10</div>
<b class="m" style="transform:translate(135.5px,168.772px)"></b><b class="m" style="transform:translate(144.5px,168.772px)"></b>
<div class="t" style="left:123px;top:151.7px">PINN-Mono Absolute Error</div>
<div class="h" style="left:195px;top:164px;transform:translateX(0.5px)"><i style="background:linear-gradient(90deg,#0000e8 0.5px,#0000df 114.5px)"></i><i style="background:linear-gradient(90deg,#0000de 0.5px,#0000d3 114.5px)"></i><i style="background:linear-gradient(90deg,#0000d1 0.5px,#0000c3 114.5px)"></i><i style="background:linear-gradient(90deg,#0000c4 0.5px,#0000b5 114.5px)"></i><i style="background:linear-gradient(90deg,#0000bc 0.5px,#0000ab 114.5px)"></i><i style="background:linear-gradient(90deg,#0000b8 0.5px,#0000a5 114.5px)"></i><i style="background:linear-gradient(90deg,#0000b6 0.5px,#0000a2 114.5px)"></i><i style="background:linear-gradient(90deg,#0000b5 0.5px,#0000a1 114.5px)"></i><i style="background:linear-gradient(90deg,#0000b5 0.5px,#0000a1 114.5px)"></i><i style="background:linear-gradient(90deg,#0000b7 0.5px,#0000a4 114.5px)"></i><i style="background:linear-gradient(90deg,#0000ba 0.5px,#0000a7 114.5px)"></i><i style="background:linear-gradient(90deg,#0000bc 0.5px,#0000ab 114.5px)"></i><i style="background:linear-gradient(90deg,#0000bf 0.5px,#0000af 114.5px)"></i><i style="background:linear-gradient(90deg,#0000c1 0.5px,#0000b4 114.5px)"></i><i style="background:linear-gradient(90deg,#0000c4 0.5px,#0000b9 114.5px)"></i><i style="background:linear-gradient(90deg,#0000c7 0.5px,#0000be 114.5px)"></i><i style="background:linear-gradient(90deg,#0000cb 0.5px,#0000c4 114.5px)"></i><i style="background:linear-gradient(90deg,#0000d1 0.5px,#0000cb 114.5px)"></i><i style="background:linear-gradient(90deg,#0000d6 0.5px,#0000d2 114.5px)"></i><i style="background:linear-gradient(90deg,#0000dc 0.5px,#0000d9 114.5px)"></i><i style="background:linear-gradient(90deg,#0000e2 0.5px,#0000e0 114.5px)"></i><i style="background:linear-gradient(90deg,#0000e8 0.5px,#0000e7 114.5px)"></i><i style="background:linear-gradient(90deg,#00e 0.5px,#0000ed 114.5px)"></i><i style="background:#0000f5"></i><i style="background:#0000fe"></i><i style="background:#00f"></i><i style="background:#0003ff"></i><i style="background:#000dff"></i><i style="background:#0017ff"></i><i style="background:#0023ff"></i><i style="background:#03f"></i><i style="background:#0046ff"></i><i style="background:#005aff"></i><i style="background:#006fff"></i><i style="background:#0085ff"></i><i style="background:#009aff"></i><i style="background:#00b1ff"></i><i style="background:#00c8ff"></i><i style="background:#00dbff"></i><i style="background:#00e1ff"></i><i style="background:#00d6ff"></i><i style="background:#00bfff"></i><i style="background:#00a0ff"></i><i style="background:#0074ff"></i><i style="background:#0043ff"></i><i style="background:#0019ff"></i><i style="background:#00f"></i><i style="background:linear-gradient(90deg,#0000eb 0.5px,#0000f2 59.5px,#0000f9 81.5px,#0000eb 114.5px)"></i><i style="background:linear-gradient(90deg,#0000d0 0.5px,#0000d7 54.5px,#0000ed 76.5px,#0000d1 107.5px,#0000d0 114.5px)"></i><i style="background:linear-gradient(90deg,#0000bf 0.5px,#0000c6 53.5px,#0000e1 76.5px,#0000c1 105.5px,#0000c0 114.5px)"></i><i style="background:linear-gradient(90deg,#0000c3 0.5px,#0000cb 55.5px,#0000de 77.5px,#0000c4 107.5px,#0000c3 114.5px)"></i><i style="background:linear-gradient(90deg,#0000d9 0.5px,#0000de 61.5px,#0000e0 84.5px,#0000d5 114.5px)"></i><i style="background:linear-gradient(90deg,#0013ff 0.5px,#00f 114.5px)"></i><i style="background:linear-gradient(90deg,#0059ff 0.5px,#0092ff 53.5px,#009fff 97.5px,#009cff 114.5px)"></i><i style="background:linear-gradient(90deg,#0014ff 0.5px,#0024ff 25.5px,#007fff 80.5px,#00bfff 114.5px)"></i><i style="background:linear-gradient(90deg,#007cff 0.5px,#002cff 10.5px,#00f 20.5px,#0000fa 62.5px,#0006ff 108.5px,#000bff 114.5px)"></i><i style="background:linear-gradient(90deg,#00f8cc 0.5px,#00f2ff 6.5px,#0054ff 25.5px,#0026ff 42.5px,#01f 56.5px,#00f 68.5px,#0000f6 114.5px)"></i><i style="background:linear-gradient(90deg,#0051ff 0.5px,#0073ff 14.5px,#0072ff 26.5px,#00b9ff 43.5px,#00e5ff 51.5px,#00e1ff 55.5px,#08f 67.5px,#005dff 76.5px,#0030ff 114.5px)"></i><i style="background:linear-gradient(90deg,#00f 0.5px,#0007ff 5.5px,#008dff 31.5px,#00b5ff 56.5px,#006aff 71.5px,#005aff 82.5px,#0054ff 114.5px)"></i><i style="background:linear-gradient(90deg,#00a1ff 0.5px,#0cf 8.5px,#00d0ff 15.5px,#00a8ff 23.5px,#001fff 40.5px,#00f 48.5px,#00f 114.5px)"></i><i style="background:linear-gradient(90deg,#00f1ff 0.5px,#003aff 17.5px,#0004ff 25.5px,#0000f5 35.5px,#0000e5 73.5px,#0000e4 114.5px)"></i><i style="background:linear-gradient(90deg,#0012ff 0.5px,#00f 4.5px,#0000ea 27.5px,#0000dc 60.5px,#0000d0 90.5px,#0000d0 114.5px)"></i><i style="background:linear-gradient(90deg,#0000ed 0.5px,#0000eb 54.5px,#0000e5 86.5px,#0000e6 114.5px)"></i><i style="background:linear-gradient(90deg,#0000f3 0.5px,#0000f5 32.5px,#00f 44.5px,#000eff 64.5px,#002fff 94.5px,#002eff 114.5px)"></i><i style="background:linear-gradient(90deg,#0000f1 0.5px,#0000f1 32.5px,#00f 45.5px,#000bff 59.5px,#0038ff 93.5px,#0036ff 114.5px)"></i><i style="background:linear-gradient(90deg,#0000e4 0.5px,#0000e4 40.5px,#0000f9 99.5px,#0000f7 114.5px)"></i><i style="background:linear-gradient(90deg,#0000dc 0.5px,#0000c9 114.5px)"></i><i style="background:linear-gradient(90deg,#0000da 0.5px,#0000c0 114.5px)"></i><i style="background:linear-gradient(90deg,#00d 0.5px,#0000c4 114.5px)"></i><i style="background:linear-gradient(90deg,#0000e3 0.5px,#0000cf 114.5px)"></i><i style="background:linear-gradient(90deg,#0000ea 0.5px,#00d 114.5px)"></i><i style="background:linear-gradient(90deg,#0000f1 0.5px,#0000e9 114.5px)"></i><i style="background:linear-gradient(90deg,#0000f5 0.5px,#0000f2 114.5px)"></i><i style="background:linear-gradient(90deg,#0000f7 0.5px,#0000f6 114.5px)"></i><i style="background:#0000f8"></i><i style="background:#0000f9"></i><i style="background:#0000fb"></i><i style="background:#0000fc"></i><i style="background:#0000fe"></i><i style="background:#00f"></i><i style="background:#00f"></i><i style="background:#00f"></i><i style="background:#00f"></i><i style="background:#00f"></i><i style="background:#00f"></i><i style="background:#00f"></i><i style="background:#0000fe"></i><i style="background:#0000fd"></i><i style="background:#0000fd"></i><i style="background:#0000fc"></i><i style="background:#0000fc"></i><i style="background:#0000fb"></i><i style="background:#0000fa"></i><i style="background:#0000fa"></i><i style="background:#0000f9"></i><i style="background:#0000f9"></i><i style="background:#0000f8"></i><i style="background:#0000f7"></i><i style="background:#0000f6"></i><i style="background:#0000f4"></i><i style="background:#0000f3"></i><i style="background:#0000f1"></i><i style="background:#0000ef"></i><i style="background:#0000ed"></i><i style="background:#0000eb"></i><i style="background:#0000ea"></i><i style="background:#0000e8"></i><i style="background:#0000e6"></i><i style="background:#0000e4"></i><i style="background:#0000e2"></i><i style="background:#0000e1"></i><i style="background:#0000df"></i><i style="background:#00d"></i><i style="background:#0000db"></i><i style="background:#0000da"></i></div>
<div class="c" style="height:115.1px;transform:translate(324.3px,164px)"></div>
<div class="k" style="left:339px;top:275.2px">0</div>
<div class="k" style="left:339px;top:257.159px">0.005</div>
<b class="m" style="transform:translate(324.8px,260.559px)"></b><b class="m" style="transform:translate(333.8px,260.559px)"></b>
<div class="k" style="left:339px;top:239.118px">0.01</div>
<b class="m" style="transform:translate(324.8px,242.518px)"></b><b class="m" style="transform:translate(333.8px,242.518px)"></b>
<div class="k" style="left:339px;top:221.078px">0.015</div>
<b class="m" style="transform:translate(324.8px,224.478px)"></b><b class="m" style="transform:translate(333.8px,224.478px)"></b>
<div class="k" style="left:339px;top:203.037px">0.02</div>
<b class="m" style="transform:translate(324.8px,206.437px)"></b><b class="m" style="transform:translate(333.8px,206.437px)"></b>
<div class="k" style="left:339px;top:184.996px">0.025</div>
<b class="m" style="transform:translate(324.8px,188.396px)"></b><b class="m" style="transform:translate(333.8px,188.396px)"></b>
<div class="k" style="left:339px;top:166.955px">0.03</div>
<b class="m" style="transform:translate(324.8px,170.355px)"></b><b class="m" style="transform:translate(333.8px,170.355px)"></b>
<div class="t" style="left:312.5px;top:151.7px">PINN-Mono Absolute PDE Residual</div>
<div class="h" style="left:385px;top:164px"><i style="background:linear-gradient(90deg,#0000b8 0.5px,#0000b8 5.5px,#000095 11.5px,#00009a 16.5px,#000097 36.5px,#0000b3 48.5px,#0000a8 52.5px,#000097 54.5px,#00b 60.5px,#0000bc 69.5px,#000096 76.5px,#0000b1 85.5px,#000096 94.5px,#0000ad 102.5px,#0000ae 109.5px,#0000be 114.5px)"></i><i style="background:linear-gradient(90deg,#0000b7 0.5px,#0000b7 6.5px,#000094 12.5px,#009 17.5px,#009 38.5px,#0000b0 49.5px,#00009e 53.5px,#000095 54.5px,#0000b8 58.5px,#0000bf 68.5px,#000096 75.5px,#0000b2 84.5px,#0000a3 89.5px,#000097 94.5px,#0000af 101.5px,#0000af 108.5px,#0000c4 114.5px)"></i><i style="background:linear-gradient(90deg,#0000b6 0.5px,#0000b9 6.5px,#000093 13.5px,#000098 18.5px,#000098 39.5px,#0000af 49.5px,#000097 54.5px,#0000bc 58.5px,#0000be 68.5px,#000095 74.5px,#0000b3 83.5px,#0000a1 89.5px,#000095 93.5px,#0000b1 100.5px,#0000ae 106.5px,#0000c7 113.5px,#0000c4 114.5px)"></i><i style="background:linear-gradient(90deg,#0000b5 0.5px,#0000b7 7.5px,#000094 14.5px,#000097 25.5px,#00009a 41.5px,#0000ae 49.5px,#0000a4 52.5px,#009 54.5px,#0000c0 58.5px,#0000c3 67.5px,#000095 73.5px,#0000b5 82.5px,#0000a4 88.5px,#000095 92.5px,#0000b1 99.5px,#0000b0 105.5px,#0000ca 112.5px,#0000c4 114.5px)"></i><i style="background:linear-gradient(90deg,#0000b4 0.5px,#0000b5 8.5px,#000094 15.5px,#000096 26.5px,#00009a 42.5px,#0000af 49.5px,#0000a4 52.5px,#00009a 54.5px,#0000c2 58.5px,#0000c2 67.5px,#000096 72.5px,#0000b5 82.5px,#0000a0 88.5px,#000095 92.5px,#0000b1 98.5px,#0000b1 104.5px,#0000cd 111.5px,#0000c2 114.5px)"></i><i style="background:linear-gradient(90deg,#0000b3 0.5px,#0000b3 9.5px,#000094 16.5px,#000098 26.5px,#000097 42.5px,#0000b0 49.5px,#0000a4 52.5px,#00009c 54.5px,#0000bd 57.5px,#0000c5 60.5px,#0000c1 67.5px,#009 71.5px,#0000b6 81.5px,#0000a3 87.5px,#000095 91.5px,#0000b2 98.5px,#0000b1 103.5px,#0000cf 110.5px,#0000bd 114.5px)"></i><i style="background:linear-gradient(90deg,#0000b1 0.5px,#0000b1 10.5px,#000094 17.5px,#00009a 26.5px,#009 29.5px,#00009a 41.5px,#00009e 44.5px,#0000b1 49.5px,#0000a5 52.5px,#00009c 54.5px,#0000bd 57.5px,#0000c4 60.5px,#0000c4 65.5px,#0000b8 68.5px,#000096 71.5px,#0000b5 80.5px,#0000a0 87.5px,#000096 91.5px,#0000b0 98.5px,#0000b6 103.5px,#0000d1 109.5px,#0000b8 114.5px)"></i><i style="background:linear-gradient(90deg,#0000b0 0.5px,#0000af 11.5px,#000095 18.5px,#00009a 27.5px,#00009a 34.5px,#00009d 41.5px,#000096 43.5px,#0000b4 48.5px,#0000a5 52.5px,#00009b 54.5px,#0000bc 57.5px,#0000c2 60.5px,#0000c1 64.5px,#0000c5 66.5px,#0000a9 69.5px,#000098 71.5px,#0000b4 80.5px,#0000a4 86.5px,#000096 90.5px,#0000ae 97.5px,#0000b6 102.5px,#0000d2 108.5px,#0000b1 114.5px)"></i><i style="background:linear-gradient(90deg,#0000ad 0.5px,#0000ad 12.5px,#000096 19.5px,#00009d 27.5px,#000095 29.5px,#0000a0 33.5px,#000098 37.5px,#0000a0 41.5px,#000097 43.5px,#0000b8 48.5px,#0000af 51.5px,#00009a 54.5px,#00b 57.5px,#0000c0 60.5px,#0000c1 64.5px,#0000c6 66.5px,#00009b 70.5px,#0000b3 80.5px,#00009e 87.5px,#00009a 91.5px,#0000ad 97.5px,#00b 102.5px,#0000d3 107.5px,#0000ab 114.5px)"></i><i style="background:linear-gradient(90deg,#00a 0.5px,#00a 13.5px,#000096 19.5px,#00009b 24.5px,#00009d 28.5px,#000098 30.5px,#0000a1 34.5px,#000095 37.5px,#0000a1 41.5px,#00009a 44.5px,#0000bc 48.5px,#0000b1 51.5px,#009 54.5px,#0000bd 58.5px,#00b 63.5px,#0000c5 66.5px,#00009a 70.5px,#0000b1 80.5px,#00009c 90.5px,#0000b6 100.5px,#0000d3 106.5px,#0000a6 114.5px)"></i><i style="background:linear-gradient(90deg,#0000a6 0.5px,#0000ab 13.5px,#000096 19.5px,#009 24.5px,#0000a2 28.5px,#000097 30.5px,#0000a5 34.5px,#000097 38.5px,#0000a1 42.5px,#00009a 44.5px,#0000c0 48.5px,#0000b3 51.5px,#000097 54.5px,#0000ba 58.5px,#0000ba 63.5px,#0000c4 66.5px,#00009a 70.5px,#0000a0 74.5px,#0000af 79.5px,#00a 85.5px,#00009f 90.5px,#0000b5 99.5px,#0000cf 104.5px,#0000c5 108.5px,#0000a3 114.5px)"></i><i style="background:linear-gradient(90deg,#0000a1 0.5px,#0000ab 10.5px,#0000a0 16.5px,#000096 19.5px,#009 23.5px,#00009b 25.5px,#0000a5 28.5px,#000095 31.5px,#0000a7 34.5px,#009 39.5px,#0000a2 42.5px,#000098 44.5px,#0000c0 47.5px,#0000bd 50.5px,#000097 54.5px,#0000b5 58.5px,#0000b7 63.5px,#0000c2 66.5px,#0000a5 69.5px,#000096 71.5px,#0000b2 81.5px,#0000a6 87.5px,#0000a7 94.5px,#0000ba 99.5px,#0000ce 103.5px,#0000be 108.5px,#0000a1 114.5px)"></i><i style="background:linear-gradient(90deg,#00009c 0.5px,#0000ac 8.5px,#00009d 17.5px,#00009a 20.5px,#000098 25.5px,#0000a7 29.5px,#000098 32.5px,#0000a7 35.5px,#000096 39.5px,#0000a1 42.5px,#000098 44.5px,#0000c2 47.5px,#0000c7 49.5px,#009 54.5px,#0000b3 59.5px,#0000b5 63.5px,#0000bf 66.5px,#000098 71.5px,#0000a5 76.5px,#0000b8 83.5px,#0000a4 91.5px,#0000ad 96.5px,#00c 102.5px,#0000a2 114.5px)"></i><i style="background:linear-gradient(90deg,#000098 0.5px,#0000ac 8.5px,#00009c 17.5px,#000097 19.5px,#0000a1 23.5px,#00009b 26.5px,#0000a9 29.5px,#00009a 33.5px,#0000a8 36.5px,#000097 40.5px,#00009e 43.5px,#000098 44.5px,#0000c4 47.5px,#0000cb 49.5px,#00009b 54.5px,#0000a0 56.5px,#0000af 59.5px,#0000b1 63.5px,#0000bc 66.5px,#009 71.5px,#00009a 74.5px,#0000bd 82.5px,#0000a5 92.5px,#0000b9 97.5px,#0000ca 101.5px,#0000a5 114.5px)"></i><i style="background:linear-gradient(90deg,#000095 0.5px,#0000ae 10.5px,#000097 19.5px,#0000a6 23.5px,#000096 26.5px,#0000ac 30.5px,#009 33.5px,#0000a9 37.5px,#000098 41.5px,#009 44.5px,#0000cd 48.5px,#0000c3 50.5px,#0000a3 53.5px,#000098 55.5px,#0000ab 59.5px,#0000ad 63.5px,#0000b5 66.5px,#00009a 71.5px,#00009e 75.5px,#0000c6 82.5px,#0000a6 91.5px,#0000b8 96.5px,#0000c9 100.5px,#0000b1 110.5px,#0000a8 114.5px)"></i><i style="background:linear-gradient(90deg,#000096 0.5px,#00009d 4.5px,#0000b0 10.5px,#000096 19.5px,#0000a9 23.5px,#000098 27.5px,#0000ae 30.5px,#00a 32.5px,#000098 34.5px,#0000a8 37.5px,#009 43.5px,#0000a5 45.5px,#0000d0 48.5px,#0000c4 50.5px,#0000a3 53.5px,#009 56.5px,#0000a6 60.5px,#0000a7 63.5px,#0000ad 66.5px,#000097 73.5px,#0000b9 78.5px,#0000cd 82.5px,#0000a8 90.5px,#0000b2 94.5px,#0000c7 99.5px,#0000b3 107.5px,#0000b0 113.5px,#0000ac 114.5px)"></i><i style="background:linear-gradient(90deg,#000095 0.5px,#00009c 5.5px,#0000b2 11.5px,#000096 19.5px,#0000ac 24.5px,#00009a 27.5px,#0000b2 31.5px,#0000a2 34.5px,#000098 35.5px,#0000a8 38.5px,#00009b 44.5px,#0000ce 48.5px,#0000c5 50.5px,#0000a5 53.5px,#000096 56.5px,#0000a4 59.5px,#0000a3 64.5px,#000097 73.5px,#0000d2 80.5px,#0000d1 83.5px,#0000ab 89.5px,#0000b2 93.5px,#0000c6 98.5px,#0000b6 106.5px,#0000b8 112.5px,#0000af 114.5px)"></i><i style="background:linear-gradient(90deg,#009 0.5px,#000098 5.5px,#0000b3 12.5px,#000098 20.5px,#0000ae 24.5px,#0000a0 27.5px,#000097 28.5px,#0000b4 31.5px,#0000b3 33.5px,#000098 36.5px,#0000a5 39.5px,#00009f 44.5px,#0000cd 48.5px,#0000c6 50.5px,#0000a6 53.5px,#00009a 57.5px,#00009e 60.5px,#000098 73.5px,#0000d8 79.5px,#0000da 82.5px,#0000b1 88.5px,#0000b3 92.5px,#0000c5 97.5px,#0000b7 104.5px,#0000c2 110.5px,#0000b1 114.5px)"></i><i style="background:linear-gradient(90deg,#0000a2 0.5px,#000095 4.5px,#0000a7 9.5px,#0000b3 13.5px,#000096 20.5px,#0000ad 25.5px,#00009c 28.5px,#00009d 29.5px,#0000b9 32.5px,#0000b6 34.5px,#00009a 37.5px,#0000a3 42.5px,#0000a8 45.5px,#0000ca 48.5px,#0000c6 50.5px,#0000a7 53.5px,#000097 57.5px,#00009a 60.5px,#00009c 71.5px,#00009c 73.5px,#0000dc 78.5px,#0000e4 81.5px,#0000b6 87.5px,#0000b4 91.5px,#0000c3 96.5px,#0000ba 103.5px,#0000c8 109.5px,#0000b1 114.5px)"></i><i style="background:linear-gradient(90deg,#0000a9 0.5px,#000095 5.5px,#0000a0 9.5px,#0000b2 14.5px,#000096 20.5px,#0000ac 26.5px,#000098 29.5px,#0000ba 32.5px,#0000b9 35.5px,#00009b 38.5px,#00a 45.5px,#0000c9 48.5px,#0000cd 49.5px,#0000a8 53.5px,#000097 59.5px,#00009f 66.5px,#00009e 71.5px,#000098 72.5px,#0000bf 75.5px,#0000e7 78.5px,#0000e9 80.5px,#0000b9 87.5px,#0000b8 91.5px,#0000c0 96.5px,#0000ba 101.5px,#0000ce 108.5px,#0000b5 113.5px,#0000ad 114.5px)"></i><i style="background:linear-gradient(90deg,#0000af 0.5px,#000095 7.5px,#0000af 15.5px,#000097 21.5px,#0000ab 26.5px,#000096 29.5px,#0000be 33.5px,#0000c0 35.5px,#009 40.5px,#0000b3 46.5px,#0000cb 49.5px,#0000a9 53.5px,#00009c 59.5px,#0000a1 65.5px,#009 67.5px,#0000a6 69.5px,#009 72.5px,#0000e8 77.5px,#0000ea 80.5px,#0000c9 84.5px,#0000b8 89.5px,#0000b9 97.5px,#0000be 101.5px,#0000d1 107.5px,#0000b9 112.5px,#0000a9 114.5px)"></i><i style="background:linear-gradient(90deg,#0000b0 0.5px,#000096 8.5px,#0000ab 16.5px,#000096 21.5px,#0000a4 27.5px,#000097 29.5px,#0000c1 34.5px,#0000ba 37.5px,#000097 41.5px,#0000bd 47.5px,#0000c9 49.5px,#00a 53.5px,#0000a4 61.5px,#0000a0 65.5px,#000098 66.5px,#0000ae 69.5px,#00009b 72.5px,#0000e6 76.5px,#0000f4 78.5px,#0000cf 83.5px,#0000ba 90.5px,#0000b5 98.5px,#0000d3 105.5px,#0000ca 109.5px,#0000a4 114.5px)"></i><i style="background:linear-gradient(90deg,#0000af 0.5px,#0000a6 5.5px,#000097 10.5px,#0000a7 17.5px,#000098 22.5px,#00009f 27.5px,#009 29.5px,#0000c0 35.5px,#0000b7 38.5px,#000098 42.5px,#0000c8 49.5px,#0000ab 53.5px,#00009f 64.5px,#00009e 66.5px,#0000b5 68.5px,#0000b2 70.5px,#00009e 72.5px,#0000e0 75.5px,#0000f2 77.5px,#0000d1 82.5px,#0000c6 86.5px,#00a 95.5px,#0000bd 99.5px,#0000d2 103.5px,#0000c8 108.5px,#0000a2 114.5px)"></i><i style="background:linear-gradient(90deg,#0000ab 0.5px,#0000a8 6.5px,#000096 11.5px,#00009b 15.5px,#00009f 19.5px,#000098 23.5px,#00009d 27.5px,#00009b 29.5px,#0000b8 34.5px,#0000b6 39.5px,#00009a 43.5px,#0000c9 49.5px,#00a 53.5px,#0000ab 58.5px,#00009f 63.5px,#00009e 65.5px,#0000c1 68.5px,#0000c2 69.5px,#0000a4 71.5px,#0000a2 72.5px,#0000d5 74.5px,#0000ef 76.5px,#0000f1 77.5px,#0000d0 81.5px,#0000d4 84.5px,#0000a1 93.5px,#0000a9 96.5px,#0000cd 101.5px,#0000ca 106.5px,#00009e 114.5px)"></i><i style="background:linear-gradient(90deg,#0000a7 0.5px,#0000a8 8.5px,#000096 12.5px,#00009a 21.5px,#00009d 29.5px,#0000b1 33.5px,#0000af 41.5px,#00009b 43.5px,#00a 46.5px,#0000cb 49.5px,#0000ac 52.5px,#0000b0 57.5px,#0000a4 62.5px,#00009c 64.5px,#0000cb 68.5px,#0000c9 69.5px,#0000a2 71.5px,#0000a9 72.5px,#00d 74.5px,#0000eb 75.5px,#0000e7 77.5px,#0000d3 79.5px,#0000d8 83.5px,#000097 92.5px,#0000a0 95.5px,#0000c6 99.5px,#0000ca 103.5px,#00009b 114.5px)"></i><i style="background:linear-gradient(90deg,#0000a5 0.5px,#0000a8 10.5px,#000097 14.5px,#00009e 29.5px,#0000af 33.5px,#0000a2 37.5px,#0000b2 41.5px,#00009a 44.5px,#0000a4 46.5px,#0000c1 48.5px,#0000c7 49.5px,#0000a9 53.5px,#0000b4 56.5px,#0000a2 62.5px,#00009a 63.5px,#0000b0 65.5px,#0000cf 67.5px,#0000cb 69.5px,#00009e 71.5px,#0000b0 72.5px,#0000cd 73.5px,#0000e8 75.5px,#00d 77.5px,#0000cd 79.5px,#0000d7 82.5px,#00009a 90.5px,#0000a1 92.5px,#009 94.5px,#0000c2 98.5px,#0000c6 101.5px,#000097 114.5px)"></i><i style="background:linear-gradient(90deg,#0000a1 0.5px,#0000ad 10.5px,#000097 15.5px,#00009c 29.5px,#0000ad 32.5px,#00009a 37.5px,#00009d 39.5px,#0000af 41.5px,#00009c 45.5px,#00009d 46.5px,#0000c5 49.5px,#0000b7 51.5px,#0000a8 53.5px,#0000b3 56.5px,#0000a4 58.5px,#0000a6 61.5px,#009 63.5px,#0000d3 67.5px,#0000d3 68.5px,#0000c9 69.5px,#009 71.5px,#0000d3 73.5px,#0000e1 74.5px,#00d 76.5px,#0000ca 79.5px,#0000cd 82.5px,#00009c 88.5px,#0000a7 91.5px,#00009b 93.5px,#0000ab 95.5px,#0000c4 98.5px,#000096 113.5px,#000097 114.5px)"></i><i style="background:linear-gradient(90deg,#00009c 0.5px,#0000ad 12.5px,#000098 17.5px,#0000a2 30.5px,#0000ab 33.5px,#00009e 36.5px,#0000ac 38.5px,#00009c 40.5px,#0000ac 41.5px,#0000ac 43.5px,#00009f 47.5px,#0000bf 49.5px,#0000c2 50.5px,#0000ab 52.5px,#0000b0 56.5px,#00009e 58.5px,#0000a3 61.5px,#00009d 63.5px,#0000d2 67.5px,#0000d2 68.5px,#0000ab 70.5px,#0000a4 71.5px,#0000c3 72.5px,#0000d5 73.5px,#0000db 75.5px,#0000c7 78.5px,#0000c8 81.5px,#00009a 87.5px,#00a 90.5px,#00009c 93.5px,#0000bc 96.5px,#00b 99.5px,#009 106.5px,#009 114.5px)"></i><i style="background:linear-gradient(90deg,#000098 0.5px,#0000ae 13.5px,#000096 18.5px,#0000ab 33.5px,#00009d 35.5px,#00009f 36.5px,#0000bd 38.5px,#0000b6 39.5px,#0000a5 40.5px,#00009f 41.5px,#0000ac 42.5px,#0000ab 44.5px,#00009e 47.5px,#0000a2 48.5px,#0000b6 49.5px,#0000be 50.5px,#0000a5 53.5px,#0000ac 56.5px,#00009b 58.5px,#0000a1 61.5px,#00009e 63.5px,#0000c9 66.5px,#0000cf 67.5px,#0000ca 68.5px,#00009e 70.5px,#0000c9 72.5px,#0000d6 73.5px,#0000d4 75.5px,#009 86.5px,#0000a8 89.5px,#00009b 92.5px,#0000b8 95.5px,#0000b4 98.5px,#000098 102.5px,#0000a2 106.5px,#00009a 114.5px)"></i><i style="background:linear-gradient(90deg,#0000a2 0.5px,#000098 3.5px,#0000b0 13.5px,#000097 19.5px,#0000a9 31.5px,#0000a8 34.5px,#00009c 36.5px,#0000c1 38.5px,#0000c4 39.5px,#0000b8 40.5px,#00009f 41.5px,#0000af 43.5px,#0000a5 47.5px,#00009b 48.5px,#0000b4 50.5px,#0000a9 52.5px,#0000a1 54.5px,#0000a9 56.5px,#00009a 57.5px,#0000a1 59.5px,#00009a 60.5px,#00009e 63.5px,#0000c5 66.5px,#0000ca 67.5px,#0000c0 68.5px,#00a 69.5px,#0000a2 70.5px,#00b 71.5px,#0000cf 73.5px,#0000c8 76.5px,#00009b 82.5px,#0000a6 88.5px,#00009c 91.5px,#0000b4 94.5px,#0000ac 97.5px,#00009c 99.5px,#00009b 100.5px,#0000b3 104.5px,#000098 114.5px)"></i><i style="background:linear-gradient(90deg,#0000ac 0.5px,#000098 4.5px,#0000b1 13.5px,#00009c 18.5px,#00009b 20.5px,#009 26.5px,#0000b0 32.5px,#0000a4 35.5px,#009 36.5px,#0000cb 39.5px,#0000c7 40.5px,#000098 42.5px,#0000a9 43.5px,#0000a7 48.5px,#000098 49.5px,#0000a9 50.5px,#0000b0 51.5px,#00009d 53.5px,#0000a5 56.5px,#009 57.5px,#0000a8 58.5px,#009 60.5px,#0000a0 61.5px,#00009f 63.5px,#0000c2 66.5px,#0000c1 67.5px,#009 69.5px,#0000be 71.5px,#0000cb 75.5px,#000098 80.5px,#0000a5 82.5px,#00009e 88.5px,#00009b 90.5px,#0000ad 94.5px,#00009a 97.5px,#00a 99.5px,#0000c3 102.5px,#009 113.5px,#009 114.5px)"></i><i style="background:linear-gradient(90deg,#0000af 0.5px,#0000a4 4.5px,#000097 6.5px,#0000b2 12.5px,#0000ac 16.5px,#000097 19.5px,#0000a1 23.5px,#009 28.5px,#0000b9 33.5px,#0000b1 35.5px,#00009c 37.5px,#0000c7 39.5px,#0000d1 40.5px,#0000c6 41.5px,#00a 42.5px,#0000a1 43.5px,#00a 45.5px,#0000b2 48.5px,#009 50.5px,#0000a5 51.5px,#00009c 53.5px,#0000a3 56.5px,#00009b 57.5px,#0000ac 58.5px,#0000ad 59.5px,#00009c 60.5px,#0000a1 63.5px,#0000b5 65.5px,#0000b8 66.5px,#00009e 68.5px,#0000b9 71.5px,#0000c6 75.5px,#0000a9 78.5px,#00009a 79.5px,#0000ad 81.5px,#0000a6 85.5px,#000098 88.5px,#0000a4 93.5px,#000098 95.5px,#0000ce 100.5px,#00c 103.5px,#0000a7 108.5px,#009 114.5px)"></i><i style="background:linear-gradient(90deg,#0000af 0.5px,#00a 5.5px,#000097 8.5px,#0000b2 13.5px,#0000a8 17.5px,#00009c 20.5px,#0000a9 23.5px,#0000a1 29.5px,#009 30.5px,#0000be 33.5px,#0000bf 35.5px,#00009d 38.5px,#0000ca 40.5px,#0000ce 41.5px,#00009e 43.5px,#0000b9 48.5px,#009 51.5px,#0000a4 54.5px,#00009a 55.5px,#0000a6 56.5px,#009 57.5px,#0000af 58.5px,#0000b2 59.5px,#0000a3 60.5px,#0000a1 63.5px,#0000b0 65.5px,#0000ab 66.5px,#00009c 67.5px,#0000b1 69.5px,#0000b3 73.5px,#0000c0 75.5px,#0000a5 78.5px,#0000a3 79.5px,#0000b3 81.5px,#009 86.5px,#00009a 93.5px,#0000b9 96.5px,#0000dc 99.5px,#0000dc 101.5px,#00a 107.5px,#000097 114.5px)"></i><i style="background:linear-gradient(90deg,#0000ac 0.5px,#0000b3 5.5px,#000097 10.5px,#0000b0 14.5px,#0000a6 18.5px,#00009a 20.5px,#0000af 24.5px,#0000ad 30.5px,#0000a1 31.5px,#0000a4 32.5px,#0000c4 34.5px,#0000ca 36.5px,#0000af 38.5px,#00009c 39.5px,#0000ba 40.5px,#0000ca 41.5px,#0000c2 42.5px,#00009a 44.5px,#0000bf 48.5px,#0000af 50.5px,#0000a4 51.5px,#0000a7 54.5px,#00009a 55.5px,#0000a8 56.5px,#00009c 57.5px,#0000b4 58.5px,#0000b7 59.5px,#0000a4 61.5px,#0000a6 65.5px,#00009b 66.5px,#0000b3 68.5px,#009 71.5px,#00009e 72.5px,#00b 74.5px,#00b 76.5px,#00009d 78.5px,#0000b4 80.5px,#0000af 82.5px,#00009a 85.5px,#00009d 91.5px,#0000e1 98.5px,#0000de 100.5px,#0000b0 105.5px,#0000a0 114.5px)"></i><i style="background:linear-gradient(90deg,#0000a5 0.5px,#0000b5 7.5px,#009 12.5px,#0000a6 17.5px,#000097 20.5px,#0000b2 24.5px,#0000ad 28.5px,#0000b5 31.5px,#00009d 33.5px,#0000c9 35.5px,#0000d2 36.5px,#0000c7 38.5px,#0000a1 40.5px,#0000bd 41.5px,#0000c4 42.5px,#00009f 44.5px,#0000ae 46.5px,#0000c3 48.5px,#0000b7 50.5px,#0000ac 51.5px,#00a 54.5px,#00009a 55.5px,#0000a6 56.5px,#00009c 57.5px,#0000bc 58.5px,#0000be 59.5px,#0000af 60.5px,#00009f 63.5px,#0000a4 64.5px,#00009c 65.5px,#0000b8 67.5px,#0000b6 68.5px,#0000a1 69.5px,#00a 70.5px,#00009f 72.5px,#0000bd 75.5px,#00b 76.5px,#00009d 78.5px,#0000af 79.5px,#0000b6 80.5px,#009 84.5px,#00009c 88.5px,#0000b7 92.5px,#0000de 96.5px,#0000df 98.5px,#0000ac 104.5px,#0000b1 112.5px,#0000a9 114.5px)"></i><i style="background:linear-gradient(90deg,#00009e 0.5px,#0000b7 8.5px,#00009f 14.5px,#00009a 19.5px,#0000b0 25.5px,#0000ac 29.5px,#00b 32.5px,#00009f 34.5px,#0000c7 36.5px,#0000d2 37.5px,#0000d1 38.5px,#0000c6 39.5px,#0000ad 40.5px,#0000a3 41.5px,#0000b8 42.5px,#0000b3 43.5px,#0000a2 44.5px,#0000a1 45.5px,#0000c8 48.5px,#0000ca 49.5px,#0000ac 51.5px,#0000ad 54.5px,#00009f 55.5px,#0000a5 57.5px,#0000c8 58.5px,#0000c7 59.5px,#0000b8 60.5px,#0000b8 61.5px,#0000a5 62.5px,#00009b 63.5px,#0000a3 65.5px,#0000b9 66.5px,#0000bc 67.5px,#0000a6 68.5px,#0000bd 70.5px,#0000b5 71.5px,#0000a0 72.5px,#0000a6 73.5px,#0000c2 75.5px,#0000bc 76.5px,#0000a1 77.5px,#0000b5 79.5px,#000098 84.5px,#00009d 87.5px,#0000d4 94.5px,#0000d3 97.5px,#0000a8 102.5px,#0000ab 105.5px,#0000bf 109.5px,#0000b0 114.5px)"></i><i style="background:linear-gradient(90deg,#000096 0.5px,#0000a5 5.5px,#0000b5 11.5px,#0000a3 18.5px,#0000af 26.5px,#0000a1 29.5px,#0000ab 31.5px,#0000bd 33.5px,#0000b9 34.5px,#0000a7 35.5px,#0000a7 36.5px,#0000bf 37.5px,#00c 38.5px,#0000ca 39.5px,#0000a6 41.5px,#00a 43.5px,#00009e 44.5px,#00009c 45.5px,#0000d6 49.5px,#0000ad 51.5px,#0000ab 52.5px,#0000b7 54.5px,#0000a4 56.5px,#0000ad 57.5px,#0000d7 58.5px,#0000d7 59.5px,#0000c3 60.5px,#0000bf 61.5px,#0000a3 62.5px,#00009f 64.5px,#0000bc 66.5px,#0000a9 67.5px,#0000a7 68.5px,#00b 69.5px,#0000c5 70.5px,#0000ba 71.5px,#0000a3 72.5px,#0000a9 73.5px,#0000be 74.5px,#0000c7 75.5px,#0000a3 77.5px,#0000b2 78.5px,#0000b7 79.5px,#009 84.5px,#0000a9 87.5px,#00c 91.5px,#0000ce 94.5px,#0000a2 101.5px,#0000ae 104.5px,#0000c9 108.5px,#0000b1 114.5px)"></i><i style="background:linear-gradient(90deg,#00009b 0.5px,#00009e 6.5px,#0000b3 11.5px,#00a 20.5px,#0000b0 26.5px,#009 29.5px,#0000a2 32.5px,#0000ba 34.5px,#0000b9 35.5px,#0000a2 37.5px,#0000b9 38.5px,#0000c2 39.5px,#00009c 42.5px,#0000a0 43.5px,#009 44.5px,#0000a4 45.5px,#0000a3 46.5px,#0000df 49.5px,#0000d1 50.5px,#0000b4 51.5px,#0000ac 52.5px,#0000bf 54.5px,#0000a1 56.5px,#0000b3 57.5px,#0000d8 58.5px,#00d 59.5px,#0000bd 61.5px,#0000a4 62.5px,#0000a3 64.5px,#0000b3 65.5px,#0000b3 66.5px,#0000a3 67.5px,#0000b8 68.5px,#0000c3 70.5px,#0000b4 71.5px,#00009b 72.5px,#0000bf 74.5px,#0000b7 75.5px,#00009e 76.5px,#0000be 78.5px,#0000b6 80.5px,#00009e 84.5px,#0000ca 88.5px,#0000ce 91.5px,#00009a 99.5px,#0000a7 102.5px,#0000c5 106.5px,#0000bd 110.5px,#0000b2 114.5px)"></i><i style="background:linear-gradient(90deg,#00009f 0.5px,#00009d 6.5px,#000097 7.5px,#0000af 13.5px,#0000a6 20.5px,#0000b5 25.5px,#00009a 30.5px,#0000a0 32.5px,#00009d 33.5px,#0000b3 36.5px,#0000a2 38.5px,#0000b5 39.5px,#00009a 43.5px,#0000a4 45.5px,#0000a1 46.5px,#00a 47.5px,#0000df 49.5px,#0000e0 50.5px,#0000af 52.5px,#0000b6 53.5px,#0000c9 54.5px,#0000be 55.5px,#0000a5 56.5px,#0000b0 57.5px,#0000cf 58.5px,#0000d6 59.5px,#0000ce 60.5px,#0000ae 61.5px,#0000b1 63.5px,#0000a5 64.5px,#00a 65.5px,#0000a1 66.5px,#0000b8 67.5px,#0000cb 69.5px,#0000c7 70.5px,#0000af 71.5px,#0000a5 72.5px,#0000b6 73.5px,#0000b6 74.5px,#0000a0 75.5px,#0000c5 78.5px,#0000b7 80.5px,#0000a7 82.5px,#0000ab 84.5px,#0000c9 86.5px,#0000d3 89.5px,#00009a 96.5px,#00009f 100.5px,#00b 105.5px,#0000af 112.5px,#0000b4 114.5px)"></i><i style="background:linear-gradient(90deg,#0000a2 0.5px,#00009d 7.5px,#009 9.5px,#0000ac 14.5px,#0000a1 22.5px,#0000b2 27.5px,#00009a 31.5px,#0000a3 37.5px,#00009c 38.5px,#0000ab 40.5px,#00009b 41.5px,#0000a6 42.5px,#00009e 44.5px,#0000a6 45.5px,#00009e 47.5px,#0000d7 49.5px,#0000e4 50.5px,#0000dc 51.5px,#0000bf 52.5px,#00b 53.5px,#0000ca 54.5px,#0000cd 55.5px,#0000ab 56.5px,#0000a5 57.5px,#0000ce 59.5px,#0000c8 60.5px,#00009f 61.5px,#0000c5 62.5px,#00009e 65.5px,#00b 66.5px,#0000d4 69.5px,#00c 70.5px,#0000a4 71.5px,#0000af 72.5px,#0000b0 73.5px,#00009f 74.5px,#0000bf 76.5px,#0000d3 77.5px,#0000d1 78.5px,#0000bf 79.5px,#0000af 81.5px,#0000c2 84.5px,#0000d6 85.5px,#0000d9 87.5px,#0000cf 89.5px,#0000a6 93.5px,#000098 96.5px,#0000ab 104.5px,#0000a1 109.5px,#0000b8 114.5px)"></i><i style="background:linear-gradient(90deg,#0000a3 0.5px,#00009e 8.5px,#00009c 10.5px,#0000ac 14.5px,#00009e 19.5px,#00009a 25.5px,#0000a8 28.5px,#009 32.5px,#00009a 35.5px,#0000b0 38.5px,#0000b1 40.5px,#0000a0 42.5px,#0000af 43.5px,#00009f 47.5px,#0000a9 48.5px,#0000df 50.5px,#0000e7 51.5px,#0000ba 53.5px,#0000d0 55.5px,#0000a9 56.5px,#0000a0 57.5px,#0000a5 58.5px,#0000c3 59.5px,#0000b3 60.5px,#0000b6 61.5px,#0000d2 62.5px,#0000a8 64.5px,#0000ae 65.5px,#00c 66.5px,#0000d0 69.5px,#0000b9 70.5px,#0000ae 71.5px,#0000b3 72.5px,#0000a4 73.5px,#0000a5 74.5px,#0000d7 77.5px,#0000bf 79.5px,#0000c6 82.5px,#0000e2 85.5px,#0000d0 88.5px,#0000a4 92.5px,#000097 101.5px,#00009f 107.5px,#00009b 109.5px,#0000bc 114.5px)"></i><i style="background:linear-gradient(90deg,#0000a3 0.5px,#0000a0 9.5px,#009 10.5px,#0000ae 14.5px,#00009f 18.5px,#00009e 22.5px,#0000a9 27.5px,#00009d 29.5px,#0000a2 32.5px,#00009f 35.5px,#0000a6 36.5px,#0000cb 38.5px,#0000c2 40.5px,#0000a4 42.5px,#0000a3 43.5px,#0000ad 44.5px,#0000a0 45.5px,#0000a5 48.5px,#0000e2 51.5px,#0000dc 52.5px,#0000ca 53.5px,#0000d5 55.5px,#0000b2 56.5px,#0000a0 58.5px,#0000c2 59.5px,#0000ac 60.5px,#0000cf 61.5px,#0000ce 62.5px,#0000a6 64.5px,#0000c6 65.5px,#0000d6 66.5px,#0000db 68.5px,#0000c7 69.5px,#00009f 70.5px,#0000b4 71.5px,#0000a0 73.5px,#00a 74.5px,#0000bf 75.5px,#0000d9 80.5px,#0000e9 82.5px,#0000e0 85.5px,#0000a9 91.5px,#00009a 96.5px,#0000af 103.5px,#0000a0 107.5px,#000097 108.5px,#0000b4 112.5px,#0000ba 114.5px)"></i><i style="background:linear-gradient(90deg,#0000a6 0.5px,#0000a6 9.5px,#00009e 12.5px,#0000b5 15.5px,#00a 18.5px,#00009d 20.5px,#0000a7 24.5px,#00a 28.5px,#0000af 33.5px,#0000a0 35.5px,#0000a1 36.5px,#0000d1 39.5px,#0000d5 40.5px,#0000a3 42.5px,#0000a3 44.5px,#0000ac 45.5px,#0000a4 48.5px,#00c 50.5px,#0000d5 52.5px,#0000c0 53.5px,#0000d6 55.5px,#0000c6 56.5px,#0000ab 57.5px,#0000b4 58.5px,#0000a5 59.5px,#0000c2 60.5px,#0000c5 61.5px,#00009b 63.5px,#0000ce 65.5px,#0000f0 67.5px,#0000e6 68.5px,#0000ba 69.5px,#0000ad 70.5px,#0000b3 71.5px,#00009d 73.5px,#0000b8 75.5px,#0000bd 76.5px,#0000f4 79.5px,#0000fc 80.5px,#0000af 90.5px,#009 94.5px,#0000b1 98.5px,#0000af 103.5px,#00009c 107.5px,#0000b3 111.5px,#0000b3 114.5px)"></i><i style="background:linear-gradient(90deg,#0000ab 0.5px,#0000a0 7.5px,#00009e 12.5px,#00009b 13.5px,#0000b8 17.5px,#0000a5 20.5px,#00009a 21.5px,#0000b3 24.5px,#0000ad 27.5px,#00009e 29.5px,#0000a5 33.5px,#0000a9 36.5px,#0000ae 38.5px,#0000c9 40.5px,#0000a6 42.5px,#0000b6 43.5px,#0000a3 44.5px,#0000a5 45.5px,#0000b8 46.5px,#0000b1 48.5px,#0000a2 49.5px,#0000bc 50.5px,#0000bd 52.5px,#0000ad 53.5px,#0000d9 55.5px,#0000d8 56.5px,#0000c0 57.5px,#0000c6 58.5px,#00a 59.5px,#0000cd 60.5px,#0000b2 61.5px,#0000a6 62.5px,#0000ac 63.5px,#0000c7 65.5px,#00f 67.5px,#0000e9 68.5px,#0000b9 69.5px,#0000a8 70.5px,#0000ae 71.5px,#0000a6 73.5px,#0000b6 75.5px,#00f 78.5px,#0000fb 80.5px,#0000d1 83.5px,#00b 88.5px,#00009b 92.5px,#0000a9 93.5px,#0000b4 98.5px,#009 104.5px,#0000ab 109.5px,#00a 114.5px)"></i><i style="background:linear-gradient(90deg,#0000b1 0.5px,#000098 7.5px,#009 13.5px,#0000b8 19.5px,#0000b2 21.5px,#00009b 23.5px,#00b 26.5px,#0000b9 27.5px,#0000a1 29.5px,#0000a4 30.5px,#0000b5 31.5px,#0000b8 33.5px,#00009e 35.5px,#0000b4 38.5px,#0000af 40.5px,#0000a1 41.5px,#0000b6 42.5px,#0000de 43.5px,#00d 44.5px,#0000c0 45.5px,#0000ad 46.5px,#0000b7 47.5px,#0000ae 49.5px,#00009f 50.5px,#0000a8 52.5px,#0000a0 53.5px,#00d 55.5px,#0000e9 56.5px,#0000cf 57.5px,#0000c8 58.5px,#0000b0 59.5px,#0000d0 60.5px,#0000ae 61.5px,#0000a9 62.5px,#0000af 63.5px,#0000c7 65.5px,#0000ef 66.5px,#00e 67.5px,#0000d6 68.5px,#0000af 69.5px,#0000b0 73.5px,#0000f8 77.5px,#0000fa 78.5px,#0000d5 80.5px,#0000da 82.5px,#0000b1 88.5px,#00009a 90.5px,#0000a7 91.5px,#0000b0 96.5px,#0000a4 99.5px,#00009d 100.5px,#0000b0 105.5px,#0000a1 113.5px,#0000a4 114.5px)"></i><i style="background:linear-gradient(90deg,#0000b0 0.5px,#000098 6.5px,#0000a8 10.5px,#0000ab 17.5px,#0000bc 21.5px,#00009c 25.5px,#0000b6 27.5px,#0000b1 29.5px,#00009b 30.5px,#0000cd 32.5px,#0000d9 34.5px,#0000a2 37.5px,#0000b6 38.5px,#0000bc 39.5px,#0000a0 41.5px,#00f 44.5px,#00f 45.5px,#0000d4 46.5px,#0000a6 48.5px,#00009d 51.5px,#0000ad 52.5px,#0000a5 53.5px,#0000b5 54.5px,#0000da 55.5px,#0000e7 56.5px,#0000c6 57.5px,#0000d1 58.5px,#0000ab 59.5px,#0000d7 60.5px,#0000ba 62.5px,#0000b7 64.5px,#0000e0 66.5px,#0000cb 67.5px,#0000cd 68.5px,#0000bd 70.5px,#00b 72.5px,#0000e0 75.5px,#0000e4 76.5px,#0000cd 78.5px,#00c 79.5px,#0000ec 82.5px,#0000a7 86.5px,#00009d 87.5px,#0000af 89.5px,#0000ac 93.5px,#0000a7 96.5px,#00009d 97.5px,#0000bc 100.5px,#0000bf 103.5px,#00009a 111.5px,#00009d 114.5px)"></i><i style="background:linear-gradient(90deg,#0000a7 0.5px,#0000a9 4.5px,#009 7.5px,#0000b3 12.5px,#0000a9 18.5px,#0000b2 23.5px,#00009d 26.5px,#0000b8 29.5px,#0000b3 30.5px,#0000a0 31.5px,#0000a9 32.5px,#0000d9 34.5px,#0000e1 36.5px,#0000d6 37.5px,#0000b5 38.5px,#0000a8 39.5px,#0000c0 41.5px,#0000ae 42.5px,#0000bf 43.5px,#0000ed 44.5px,#0002ff 45.5px,#00f 46.5px,#0000c5 48.5px,#0000ac 49.5px,#0000c0 50.5px,#0000a4 51.5px,#0000c4 53.5px,#0000ae 54.5px,#0000cd 56.5px,#0000b4 57.5px,#0000d5 58.5px,#0000b4 59.5px,#0000f6 60.5px,#0000f1 61.5px,#0000b1 62.5px,#0000a2 63.5px,#0000c4 65.5px,#0000b6 66.5px,#0000d2 67.5px,#0000db 68.5px,#0000bf 69.5px,#0000b1 70.5px,#0000b9 71.5px,#0000ce 72.5px,#0000cd 73.5px,#0000d8 74.5px,#0000d7 75.5px,#0000c3 77.5px,#0000d1 78.5px,#0000f4 79.5px,#0000f8 80.5px,#0000d3 82.5px,#00009e 84.5px,#0000af 86.5px,#0000b2 89.5px,#0000a8 90.5px,#0000a9 94.5px,#00009a 95.5px,#0000cb 99.5px,#0000d1 100.5px,#0000b7 104.5px,#009 108.5px,#00009d 114.5px)"></i><i style="background:linear-gradient(90deg,#00009f 0.5px,#00009e 2.5px,#0000a4 5.5px,#009 8.5px,#0000af 13.5px,#0000b2 15.5px,#0000a5 20.5px,#0000a0 24.5px,#00009b 25.5px,#0000c0 29.5px,#0000ba 32.5px,#0000b3 33.5px,#00009e 34.5px,#0000d7 36.5px,#0000e2 37.5px,#0000b1 40.5px,#0000a9 43.5px,#0000bc 44.5px,#0000fe 46.5px,#0000e3 48.5px,#0000b1 50.5px,#0000c5 51.5px,#0000ba 52.5px,#0000d8 53.5px,#0000ad 54.5px,#0000ab 55.5px,#0000bc 56.5px,#0000c0 57.5px,#0000e5 58.5px,#0000ca 59.5px,#00f 60.5px,#0000e2 61.5px,#0000a3 62.5px,#0000ea 63.5px,#0000c3 64.5px,#0000cf 65.5px,#0000c7 66.5px,#0000d6 67.5px,#0000b5 68.5px,#0000a3 69.5px,#0000a5 70.5px,#00b 71.5px,#00c 74.5px,#0000c7 75.5px,#0000d9 76.5px,#00f 77.5px,#0000fd 79.5px,#009 82.5px,#0000ab 83.5px,#0000ad 86.5px,#0000a4 92.5px,#009 93.5px,#0000cf 96.5px,#0000d5 99.5px,#00009a 106.5px,#0000af 111.5px,#0000ab 114.5px)"></i><i style="background:linear-gradient(90deg,#0000bd 0.5px,#00009d 6.5px,#00009a 9.5px,#0000b3 15.5px,#0000a5 20.5px,#00009d 26.5px,#0000c0 29.5px,#0000d3 32.5px,#0000d8 35.5px,#0000af 37.5px,#0000c9 39.5px,#0000d8 40.5px,#00d 41.5px,#0000b3 42.5px,#0000b2 43.5px,#0000be 44.5px,#0000c9 46.5px,#0000df 47.5px,#0000d4 48.5px,#0000ae 50.5px,#0000c7 51.5px,#0000c1 52.5px,#0000d3 53.5px,#0000ca 54.5px,#0000d7 55.5px,#00f 56.5px,#0000e7 57.5px,#0000df 59.5px,#0000b0 61.5px,#0000a7 62.5px,#0000dc 63.5px,#00f 64.5px,#0000e2 65.5px,#0000d9 66.5px,#0000c5 67.5px,#0000c3 68.5px,#0000b3 69.5px,#0000ae 71.5px,#0000b4 72.5px,#0000d2 74.5px,#0000f0 75.5px,#0005ff 76.5px,#0008ff 77.5px,#0000f0 78.5px,#0000a6 80.5px,#00009b 83.5px,#0000a8 84.5px,#0000a0 88.5px,#0000a5 89.5px,#00009f 91.5px,#0000ca 94.5px,#0000d9 96.5px,#00b 100.5px,#00009a 103.5px,#0000b7 107.5px,#0000c1 112.5px,#00b 114.5px)"></i><i style="background:linear-gradient(90deg,#0000d1 0.5px,#0000b5 5.5px,#0000b0 12.5px,#0000b7 17.5px,#00a 22.5px,#0000a4 24.5px,#0000af 27.5px,#0000a6 28.5px,#0000a8 29.5px,#0000c4 31.5px,#0000c8 32.5px,#0000fc 35.5px,#00f 36.5px,#0000ef 38.5px,#0000d9 39.5px,#0000b6 40.5px,#0000b0 41.5px,#0000ce 42.5px,#0000c3 44.5px,#0000d2 45.5px,#00a 47.5px,#0000b6 48.5px,#0000b6 49.5px,#0000fb 50.5px,#0000d8 51.5px,#0000d0 52.5px,#0000ec 53.5px,#00f 55.5px,#000eff 56.5px,#0000fd 57.5px,#0000b3 60.5px,#0000a7 61.5px,#0000ae 62.5px,#0000ce 63.5px,#00b 64.5px,#0000b8 65.5px,#0000f2 66.5px,#0000c3 67.5px,#0000c6 68.5px,#0000d9 69.5px,#0000c2 70.5px,#0000c3 71.5px,#0000f2 73.5px,#00f 74.5px,#0007ff 75.5px,#00f 76.5px,#0000b0 78.5px,#0000a4 79.5px,#0000ac 81.5px,#0000cd 84.5px,#0000a8 87.5px,#0000b8 92.5px,#0000c7 94.5px,#0000ad 99.5px,#00009e 100.5px,#0000cd 106.5px,#0000ce 111.5px,#0000c0 114.5px)"></i><i style="background:linear-gradient(90deg,#0000d3 0.5px,#0000c5 7.5px,#0000c3 20.5px,#0000a0 23.5px,#00a 26.5px,#0000b1 29.5px,#0000a7 30.5px,#00b 32.5px,#0000f6 35.5px,#00f 37.5px,#00f 39.5px,#0000f6 40.5px,#0000e3 41.5px,#0000b5 42.5px,#0000b9 43.5px,#0000e1 44.5px,#0000cd 46.5px,#0000d2 47.5px,#0000c5 49.5px,#0000e7 50.5px,#0023ff 51.5px,#00f 52.5px,#0013ff 54.5px,#0000e9 55.5px,#0025ff 56.5px,#00f 57.5px,#0000c3 58.5px,#0000da 59.5px,#0000c3 61.5px,#0000d3 62.5px,#0000bf 63.5px,#00f 64.5px,#00f 65.5px,#0000e7 66.5px,#0000b1 67.5px,#0000da 68.5px,#0000dc 69.5px,#0000d4 70.5px,#0000fe 72.5px,#00f 74.5px,#00b 76.5px,#0000b0 77.5px,#0000b2 79.5px,#0000a7 80.5px,#0000c8 84.5px,#0000a6 88.5px,#0000b0 89.5px,#0000b3 94.5px,#00009c 96.5px,#0000be 99.5px,#0000e0 106.5px,#0000c6 112.5px,#0000b8 114.5px)"></i><i style="background:linear-gradient(90deg,#0000e2 0.5px,#0000d4 3.5px,#0000d2 10.5px,#0000d4 13.5px,#00c 16.5px,#00c 19.5px,#0000b4 22.5px,#00009e 23.5px,#0000af 25.5px,#0000ab 28.5px,#0000ba 31.5px,#0000bc 32.5px,#0000e0 34.5px,#00f 37.5px,#0029ff 38.5px,#0035ff 40.5px,#0025ff 41.5px,#00f 42.5px,#0000d9 43.5px,#0000b0 45.5px,#0000f8 47.5px,#00e 48.5px,#0000d7 49.5px,#0000fe 51.5px,#000eff 53.5px,#00f 54.5px,#0000be 55.5px,#0051ff 56.5px,#0025ff 57.5px,#0000ec 58.5px,#0000c0 59.5px,#0000ed 60.5px,#0000f2 61.5px,#0000a3 62.5px,#0000ef 63.5px,#0000d1 64.5px,#0000ea 65.5px,#0000b1 67.5px,#0000c4 68.5px,#0000e4 69.5px,#0000e3 70.5px,#0000f8 71.5px,#0000f6 72.5px,#0000e2 73.5px,#0000c0 74.5px,#0000c6 76.5px,#0000d3 77.5px,#0000cd 78.5px,#0000b6 79.5px,#0000b8 80.5px,#0000a2 82.5px,#00009f 83.5px,#0000ad 84.5px,#0000af 87.5px,#0000c4 89.5px,#0000be 94.5px,#0000c5 97.5px,#0000d7 99.5px,#0000de 106.5px,#0000ab 114.5px)"></i><i style="background:linear-gradient(90deg,#0000ed 0.5px,#0000d9 4.5px,#0000d6 11.5px,#0000cb 13.5px,#0000d7 15.5px,#0000be 18.5px,#0000cb 20.5px,#0000b4 23.5px,#0000c2 26.5px,#0000c0 29.5px,#0000c5 32.5px,#0000e2 34.5px,#0000e3 35.5px,#0000d8 36.5px,#0000eb 38.5px,#000cff 39.5px,#0031ff 40.5px,#0034ff 41.5px,#0028ff 42.5px,#0000fb 44.5px,#0000cf 45.5px,#0000b7 46.5px,#0000e5 47.5px,#0000ba 48.5px,#00e 49.5px,#0000dc 50.5px,#000aff 51.5px,#0038ff 53.5px,#0000f7 54.5px,#0000db 55.5px,#08f 56.5px,#0004ff 57.5px,#0000ec 59.5px,#00f 60.5px,#00f 61.5px,#0000b2 63.5px,#00f 64.5px,#0000eb 65.5px,#0000e4 66.5px,#00b 67.5px,#0000bf 68.5px,#0000d3 69.5px,#00f 70.5px,#0000ea 71.5px,#0000e7 72.5px,#0000c3 74.5px,#0000c0 75.5px,#0000cd 76.5px,#0000e0 80.5px,#0000b5 83.5px,#0000b6 84.5px,#0000c6 86.5px,#0000c1 87.5px,#00c 89.5px,#0000c9 93.5px,#0000e1 98.5px,#0000c5 105.5px,#0000bc 109.5px,#009 112.5px,#0000ae 114.5px)"></i><i style="background:linear-gradient(90deg,#0000eb 0.5px,#0000dc 3.5px,#0000e8 6.5px,#0000cf 10.5px,#0000c4 11.5px,#0000d7 15.5px,#0000ce 17.5px,#0000b5 19.5px,#0000ca 21.5px,#0000d0 22.5px,#0000c9 25.5px,#0000e2 28.5px,#0000cf 31.5px,#0000ba 32.5px,#0000c5 33.5px,#0000ed 35.5px,#0000ef 36.5px,#0000d2 37.5px,#0000af 39.5px,#0000ca 41.5px,#0000fb 42.5px,#0000fe 44.5px,#0000df 45.5px,#0000ab 46.5px,#0000bf 47.5px,#0000eb 48.5px,#0010ff 49.5px,#000fff 51.5px,#0000f2 52.5px,#0078ff 53.5px,#0000fc 54.5px,#0041ff 55.5px,#0071ff 56.5px,#0000ef 57.5px,#07f 58.5px,#003dff 59.5px,#003cff 60.5px,#0000fe 62.5px,#0000b2 63.5px,#0000d0 64.5px,#0000cf 65.5px,#0014ff 66.5px,#0000fe 67.5px,#001bff 68.5px,#00f 69.5px,#0000be 70.5px,#0000d0 71.5px,#0000c2 72.5px,#0000d6 73.5px,#0000d4 74.5px,#0000e9 75.5px,#0000e2 78.5px,#0000d0 82.5px,#0000bc 85.5px,#0000d6 91.5px,#0000d1 94.5px,#0000bc 97.5px,#0000c2 99.5px,#0000b2 103.5px,#0000b8 105.5px,#0000a2 109.5px,#0000a1 110.5px,#0000be 112.5px,#0000d7 113.5px,#0000fd 114.5px)"></i><i style="background:linear-gradient(90deg,#0000ed 0.5px,#0000f3 2.5px,#0000de 4.5px,#0000dc 7.5px,#0000bf 9.5px,#0000ce 12.5px,#0000c3 16.5px,#0000bf 18.5px,#0000b7 19.5px,#0000cd 21.5px,#0000c8 23.5px,#0000b6 24.5px,#0000b4 25.5px,#0000c4 27.5px,#0000da 28.5px,#0000ed 30.5px,#0000e8 31.5px,#0000cf 32.5px,#0000d3 33.5px,#0000c7 34.5px,#0000d1 35.5px,#0000be 37.5px,#0000c4 39.5px,#0000b1 40.5px,#0000fa 42.5px,#00f 43.5px,#000bff 44.5px,#0000df 45.5px,#0000af 46.5px,#0000e7 47.5px,#0021ff 48.5px,#0038ff 49.5px,#0001ff 50.5px,#0048ff 51.5px,#04f 52.5px,#08f 53.5px,#0056ff 54.5px,#0000e6 55.5px,#005eff 56.5px,#0000be 57.5px,#0000ed 58.5px,#0071ff 59.5px,#0006ff 60.5px,#02f 61.5px,#0084ff 62.5px,#002aff 63.5px,#0000f3 64.5px,#0000c4 65.5px,#00f 66.5px,#0021ff 67.5px,#0000b0 68.5px,#0008ff 69.5px,#0000e4 70.5px,#0000f7 71.5px,#0000fd 73.5px,#0000c4 74.5px,#0000c7 76.5px,#00009f 77.5px,#00a 79.5px,#0000d1 81.5px,#0000d5 82.5px,#0000c2 86.5px,#0000c1 87.5px,#0000e2 91.5px,#0000bc 94.5px,#0000a8 95.5px,#0000a6 98.5px,#0000bc 101.5px,#0000ad 105.5px,#0000a4 107.5px,#0000ce 111.5px,#0002ff 113.5px,#004dff 114.5px)"></i><i style="background:linear-gradient(90deg,#0000e7 0.5px,#0000e8 3.5px,#0000da 4.5px,#0000df 6.5px,#0000c4 8.5px,#0000c4 9.5px,#0000d0 11.5px,#0000c1 16.5px,#0000ba 20.5px,#0000c5 21.5px,#00a 24.5px,#0000b9 27.5px,#0000b0 29.5px,#0000c3 31.5px,#0000ec 33.5px,#0000c8 35.5px,#0000a7 36.5px,#0000b5 37.5px,#0000ce 38.5px,#0000ca 40.5px,#0000b5 41.5px,#0000c3 42.5px,#0000a8 43.5px,#0000ce 44.5px,#0002ff 45.5px,#002cff 46.5px,#000eff 47.5px,#0007ff 48.5px,#000bff 49.5px,#03f 50.5px,#0014ff 51.5px,#0000e6 52.5px,#0072ff 53.5px,#00b8ff 54.5px,#003eff 55.5px,#00d2ff 56.5px,#0043ff 57.5px,#00d2ff 58.5px,#00f5fa 59.5px,#0000f3 60.5px,#0024ff 61.5px,#0068ff 62.5px,#0013ff 63.5px,#0059ff 64.5px,#002dff 65.5px,#0049ff 66.5px,#0016ff 67.5px,#001bff 68.5px,#0043ff 69.5px,#0040ff 70.5px,#0032ff 71.5px,#00f 72.5px,#0000f1 73.5px,#0000ca 74.5px,#0000e1 75.5px,#0000df 77.5px,#0000c2 78.5px,#0000af 79.5px,#0000ac 80.5px,#0000c6 81.5px,#0000e0 83.5px,#0000e6 86.5px,#0000ea 88.5px,#0000d7 92.5px,#0000b2 96.5px,#0000b3 99.5px,#0000a5 100.5px,#0000a2 101.5px,#0000b1 104.5px,#0000ad 108.5px,#0000c0 111.5px,#0000d7 112.5px,#00f 113.5px,#0028ff 114.5px)"></i><i style="background:linear-gradient(90deg,#0000e6 0.5px,#0000dc 3.5px,#0000d1 4.5px,#00d 7.5px,#0000b6 12.5px,#0000b4 15.5px,#0000b1 17.5px,#0000c3 22.5px,#0000e6 25.5px,#0000e8 27.5px,#0000cf 29.5px,#00c 30.5px,#0000b9 31.5px,#0000c0 34.5px,#0000a4 36.5px,#0000c3 37.5px,#0000f1 38.5px,#00f 41.5px,#0032ff 43.5px,#00f 44.5px,#000fff 45.5px,#000dff 46.5px,#0021ff 47.5px,#0067ff 48.5px,#00f 49.5px,#0093ff 50.5px,#003dff 51.5px,#00caff 52.5px,#0020ff 53.5px,#23fa75 54.5px,#00beff 55.5px,#00f6ed 56.5px,#00f9b0 57.5px,#006bff 58.5px,#00f0ff 61.5px,#0073ff 62.5px,#007eff 63.5px,#00f 64.5px,#0023ff 65.5px,#0000d7 66.5px,#005dff 67.5px,#0000fd 68.5px,#0020ff 69.5px,#0078ff 70.5px,#0052ff 71.5px,#0016ff 72.5px,#0000e8 73.5px,#0000be 75.5px,#0000c3 76.5px,#0000ea 78.5px,#0000eb 80.5px,#00f 82.5px,#0004ff 84.5px,#000fff 85.5px,#0000fe 87.5px,#00e 88.5px,#0000e0 90.5px,#0000cb 92.5px,#0000d3 94.5px,#0000e0 95.5px,#0000e4 99.5px,#0000af 102.5px,#0000c6 109.5px,#00c 111.5px,#0000c8 112.5px,#0000d6 113.5px,#00f 114.5px)"></i><i style="background:linear-gradient(90deg,#0000d4 0.5px,#0000c5 4.5px,#00b 5.5px,#0000c0 11.5px,#00b 12.5px,#0000c3 15.5px,#0000a2 19.5px,#0000b2 22.5px,#0000c8 25.5px,#0000d5 30.5px,#0000cd 31.5px,#0000b4 32.5px,#0000ad 33.5px,#0000bf 34.5px,#0000be 35.5px,#0000db 38.5px,#0000d6 39.5px,#0000b3 40.5px,#00f 42.5px,#0000f1 44.5px,#00f 45.5px,#001cff 46.5px,#0008ff 47.5px,#0018ff 48.5px,#00f 49.5px,#0089ff 50.5px,#0071ff 51.5px,#009bff 52.5px,#0dfa95 53.5px,#00f9bd 54.5px,#31fa64 55.5px,#00f8cc 56.5px,#b2ff1a 57.5px,#00f9bc 58.5px,#00f3ff 59.5px,#00c5ff 60.5px,#9fff20 61.5px,#00f6e9 62.5px,#00bdff 63.5px,#0046ff 64.5px,#00edff 65.5px,#007aff 66.5px,#0061ff 67.5px,#0018ff 68.5px,#0085ff 69.5px,#0000fc 70.5px,#0000cf 71.5px,#0000f7 72.5px,#0000cb 73.5px,#0000ea 74.5px,#0000e1 76.5px,#0000fb 77.5px,#00f 80.5px,#0000f3 81.5px,#0000d6 82.5px,#0000eb 83.5px,#00f 85.5px,#0000f6 87.5px,#0000e5 88.5px,#0000ea 89.5px,#0000d0 92.5px,#0000d3 94.5px,#0000f5 98.5px,#0000ec 100.5px,#0000ad 103.5px,#0000c4 106.5px,#0000ba 110.5px,#0000d0 112.5px,#00f 113.5px,#0070ff 114.5px)"></i><i style="background:linear-gradient(90deg,#0000fb 0.5px,#0000af 5.5px,#0000af 8.5px,#0000bd 10.5px,#0000ab 15.5px,#0000c4 20.5px,#00b 22.5px,#0000c7 23.5px,#0000c2 26.5px,#0000ac 28.5px,#0000ad 30.5px,#0000ba 31.5px,#0000b2 33.5px,#0000c1 37.5px,#0000e2 38.5px,#0000c7 40.5px,#0000e0 41.5px,#0000c4 42.5px,#0009ff 43.5px,#0000ea 44.5px,#0010ff 45.5px,#0000d9 46.5px,#0000f9 47.5px,#00f 48.5px,#0010ff 49.5px,#00baff 50.5px,#0038ff 51.5px,#008aff 52.5px,#00f7e0 53.5px,#0087ff 54.5px,#007bff 55.5px,#00b4ff 56.5px,#00f6eb 57.5px,#0040ff 58.5px,#0083ff 59.5px,#00f6eb 60.5px,#00cdff 61.5px,#1efa7d 62.5px,#0015ff 63.5px,#0000ef 64.5px,#00f 65.5px,#001eff 66.5px,#00c 67.5px,#00f 68.5px,#0000b2 69.5px,#0015ff 70.5px,#0000bd 71.5px,#0000e9 72.5px,#0019ff 73.5px,#0000fa 74.5px,#0000eb 76.5px,#00c 77.5px,#0000ef 80.5px,#0000e9 82.5px,#0000f0 83.5px,#0000de 84.5px,#0000f5 88.5px,#0000ed 89.5px,#0000db 90.5px,#0000ce 92.5px,#0000d6 94.5px,#0000e3 96.5px,#00e 97.5px,#0000ef 99.5px,#0000e7 100.5px,#0000a3 103.5px,#0000ac 108.5px,#0000bc 110.5px,#0000b6 111.5px,#0000bc 112.5px,#0000e7 113.5px,#0013ff 114.5px)"></i><i style="background:linear-gradient(90deg,#0000f8 0.5px,#0000a5 6.5px,#0000b2 10.5px,#0000ae 11.5px,#0000d1 14.5px,#0000cf 18.5px,#0000c8 21.5px,#0000ce 25.5px,#0000b5 28.5px,#0000be 29.5px,#0000bc 30.5px,#00c 31.5px,#0000d5 33.5px,#0000ba 35.5px,#0000c3 37.5px,#0000bf 39.5px,#0000c6 40.5px,#0000b8 41.5px,#0000b8 43.5px,#00d 44.5px,#0000da 45.5px,#0000e4 46.5px,#0000ce 47.5px,#0008ff 48.5px,#0045ff 49.5px,#008dff 50.5px,#0037ff 51.5px,#003fff 52.5px,#0080ff 53.5px,#0000f6 54.5px,#0000f1 55.5px,#0023ff 56.5px,#0000df 57.5px,#00f 58.5px,#00cfff 59.5px,#00a3ff 60.5px,#0057ff 61.5px,#00c3ff 62.5px,#0af 63.5px,#00f 64.5px,#0018ff 65.5px,#000fff 66.5px,#002dff 67.5px,#0020ff 68.5px,#00f 69.5px,#0043ff 70.5px,#0004ff 71.5px,#0021ff 72.5px,#002eff 73.5px,#0000e4 74.5px,#0000ac 76.5px,#0000b8 77.5px,#0000d1 78.5px,#0000d2 80.5px,#0000f9 83.5px,#0000fd 85.5px,#0000c9 88.5px,#0000e2 93.5px,#0000d4 96.5px,#0000e3 98.5px,#0000d7 101.5px,#0000b5 104.5px,#0000b3 107.5px,#0000c3 111.5px,#0000ae 114.5px)"></i><i style="background:linear-gradient(90deg,#0000b6 0.5px,#0000b3 4.5px,#0000a4 7.5px,#0000cb 12.5px,#0000e1 15.5px,#0000d8 18.5px,#0000ac 23.5px,#0000b6 30.5px,#0000b2 32.5px,#0000df 34.5px,#0000fe 35.5px,#00f 37.5px,#0000b6 40.5px,#0000cd 41.5px,#0000ba 44.5px,#0000d4 45.5px,#0000b9 46.5px,#0000bd 47.5px,#0000fd 48.5px,#0024ff 49.5px,#001bff 50.5px,#0000db 51.5px,#00a8ff 52.5px,#0051ff 53.5px,#001dff 54.5px,#0000e2 55.5px,#000bff 56.5px,#0028ff 57.5px,#0000d5 58.5px,#00b4ff 59.5px,#0000e5 60.5px,#0000f1 61.5px,#00dcff 62.5px,#0008ff 63.5px,#0000db 64.5px,#002eff 65.5px,#01f 66.5px,#001aff 67.5px,#000eff 68.5px,#0000e0 69.5px,#0000ed 70.5px,#01f 71.5px,#0000e2 72.5px,#0000c5 73.5px,#0000b8 78.5px,#0000a2 80.5px,#0000b6 82.5px,#0000e5 84.5px,#0000e1 86.5px,#0000cf 87.5px,#0000cb 88.5px,#0000d8 89.5px,#0000d3 95.5px,#0000e3 97.5px,#00c 101.5px,#0000d0 104.5px,#0000ad 107.5px,#0000a8 114.5px)"></i><i style="background:linear-gradient(90deg,#00c 0.5px,#0000a1 4.5px,#0000a5 6.5px,#0000cd 14.5px,#0000cd 17.5px,#0000a0 22.5px,#0000a0 25.5px,#0000a8 26.5px,#0000a2 28.5px,#0000b5 31.5px,#0000c9 33.5px,#0000ca 34.5px,#0000be 35.5px,#0000a3 36.5px,#0000c9 38.5px,#0000d0 39.5px,#0000a0 41.5px,#0000f9 43.5px,#002aff 44.5px,#00f 45.5px,#0000d8 46.5px,#00f 47.5px,#001cff 48.5px,#00f 49.5px,#00f 50.5px,#0000d1 51.5px,#00f 52.5px,#0035ff 53.5px,#007eff 54.5px,#0000f1 55.5px,#0018ff 56.5px,#0037ff 57.5px,#000bff 58.5px,#004bff 59.5px,#0024ff 60.5px,#0000c9 61.5px,#0015ff 62.5px,#0000e8 63.5px,#00f 65.5px,#04f 66.5px,#0000d7 67.5px,#0000de 68.5px,#0000b5 69.5px,#0001ff 71.5px,#00f 72.5px,#0000c7 74.5px,#0000d8 75.5px,#0000be 78.5px,#0000bd 82.5px,#0000a9 84.5px,#0000a4 85.5px,#0000b8 87.5px,#00c 88.5px,#0000d1 89.5px,#0000c4 90.5px,#0000db 92.5px,#0000db 97.5px,#0000c5 99.5px,#0000c9 102.5px,#0000d6 103.5px,#0000d7 104.5px,#0000ba 107.5px,#0000bf 111.5px,#0000b5 114.5px)"></i><i style="background:linear-gradient(90deg,#0000bd 0.5px,#0000af 4.5px,#0000a0 6.5px,#0000c1 10.5px,#0000ce 13.5px,#0000ce 16.5px,#0000a1 21.5px,#0000a0 26.5px,#00009f 28.5px,#0000ae 30.5px,#0000b3 32.5px,#0000c9 34.5px,#0000c8 35.5px,#0000de 37.5px,#0000a9 40.5px,#0000b3 42.5px,#0000c9 43.5px,#0000cd 44.5px,#0000e9 45.5px,#0036ff 46.5px,#0059ff 47.5px,#00f 48.5px,#0000e0 49.5px,#0000ea 50.5px,#0000c5 51.5px,#0021ff 52.5px,#0000e4 53.5px,#0000d4 54.5px,#001dff 55.5px,#00f 56.5px,#00e 57.5px,#0015ff 58.5px,#0000e7 59.5px,#0000e0 61.5px,#0000a9 62.5px,#0000d5 63.5px,#0000e3 65.5px,#0035ff 66.5px,#0017ff 68.5px,#0000d9 69.5px,#0000e6 70.5px,#00f 71.5px,#0000ec 73.5px,#0000cd 75.5px,#00c 76.5px,#0000ab 77.5px,#0000eb 80.5px,#0000e3 82.5px,#0000a6 87.5px,#0000c4 90.5px,#0000de 91.5px,#0000dc 94.5px,#0000c3 100.5px,#0000c1 102.5px,#0000d0 105.5px,#0000d2 110.5px,#0000d6 114.5px)"></i><i style="background:linear-gradient(90deg,#0000ae 0.5px,#0000ac 5.5px,#0000a9 7.5px,#0000ba 16.5px,#0000af 21.5px,#0000af 23.5px,#00a 24.5px,#0000b1 28.5px,#0000ad 31.5px,#0000bd 33.5px,#0000ce 34.5px,#0000cf 35.5px,#0000c2 36.5px,#0000bf 38.5px,#0000e3 42.5px,#0000f6 43.5px,#001cff 45.5px,#0016ff 46.5px,#0000c6 47.5px,#0000c2 48.5px,#0000e2 49.5px,#0000f6 50.5px,#0000bc 51.5px,#0000e1 52.5px,#0000e6 53.5px,#00f 54.5px,#00f 57.5px,#0026ff 58.5px,#00f 59.5px,#0000d8 60.5px,#03f 61.5px,#0000db 62.5px,#0000d5 63.5px,#0000ed 64.5px,#0000e1 65.5px,#0000f2 66.5px,#0000e8 67.5px,#0005ff 68.5px,#000bff 69.5px,#00f 70.5px,#00f 71.5px,#000eff 72.5px,#00f 73.5px,#00e 74.5px,#00e 75.5px,#0000d1 76.5px,#0000c5 77.5px,#0000d1 79.5px,#0000f3 81.5px,#0000e1 84.5px,#0000ad 87.5px,#0000a3 89.5px,#0000cd 92.5px,#0000cf 98.5px,#0000c8 103.5px,#0000df 110.5px,#0000e2 114.5px)"></i><i style="background:linear-gradient(90deg,#0000a6 0.5px,#0000b2 6.5px,#0000a8 8.5px,#0000b6 12.5px,#0000a6 15.5px,#0000b0 23.5px,#0000a0 30.5px,#0000ca 34.5px,#0000cf 35.5px,#0000af 37.5px,#0000af 38.5px,#0000cf 40.5px,#0000f0 43.5px,#0000f3 44.5px,#0000c5 45.5px,#0000b7 47.5px,#00f 48.5px,#001dff 49.5px,#0000e5 50.5px,#0000c0 51.5px,#0000bc 52.5px,#0000d8 53.5px,#0004ff 54.5px,#0000c7 55.5px,#0000d1 56.5px,#0000ec 57.5px,#0000e7 58.5px,#0000ce 59.5px,#00f 60.5px,#0000cd 61.5px,#0000eb 62.5px,#0000b6 63.5px,#0000b8 64.5px,#0000f3 65.5px,#0000be 66.5px,#0000b4 67.5px,#00c 69.5px,#00f 71.5px,#0016ff 72.5px,#0000f6 74.5px,#0000ce 76.5px,#0000e7 78.5px,#0000d1 80.5px,#0000e8 82.5px,#0000d8 86.5px,#00b 89.5px,#0000a7 90.5px,#0000a1 91.5px,#0000c9 94.5px,#00d 99.5px,#0000d9 106.5px,#0000e3 114.5px)"></i><i style="background:linear-gradient(90deg,#0000a7 0.5px,#0000a9 4.5px,#0000a8 12.5px,#00009c 14.5px,#0000a8 17.5px,#0000a7 24.5px,#0000b0 26.5px,#00009f 29.5px,#0000b5 31.5px,#00b 33.5px,#0000a2 35.5px,#0000c1 37.5px,#0000ad 38.5px,#0000a3 40.5px,#0000af 42.5px,#00a 43.5px,#00b 44.5px,#0000c6 46.5px,#00f 47.5px,#000bff 48.5px,#00f 49.5px,#0000ca 50.5px,#0000bd 51.5px,#0000d5 52.5px,#0000dc 54.5px,#0000a7 55.5px,#0000c9 56.5px,#0000e4 59.5px,#00f 60.5px,#0000c9 61.5px,#0000ca 63.5px,#00d 64.5px,#0000bd 65.5px,#0000f5 66.5px,#0000c2 67.5px,#0000d3 68.5px,#0000ca 70.5px,#0000b8 71.5px,#0000c9 72.5px,#0000f0 73.5px,#0000f9 74.5px,#0000e2 75.5px,#0000ba 76.5px,#0000a6 77.5px,#00b 78.5px,#0000c5 79.5px,#0000c2 80.5px,#0000e6 82.5px,#0000e3 87.5px,#0000d3 90.5px,#0000a7 92.5px,#0000a3 93.5px,#0000d0 96.5px,#0000e1 101.5px,#0000cf 109.5px,#0000d8 114.5px)"></i><i style="background:linear-gradient(90deg,#0000ac 0.5px,#0000a2 6.5px,#0000a6 12.5px,#00009e 16.5px,#0000ba 22.5px,#0000b5 26.5px,#00009f 28.5px,#0000b4 30.5px,#0000a1 33.5px,#0000c9 35.5px,#0000d3 37.5px,#0000c8 38.5px,#0000d8 39.5px,#0000ca 40.5px,#0000c9 41.5px,#0000eb 43.5px,#0000d7 44.5px,#0000d1 45.5px,#00f 46.5px,#0000fb 47.5px,#0000df 49.5px,#0000a2 50.5px,#0000d1 52.5px,#0000e2 53.5px,#00b 55.5px,#0004ff 56.5px,#0000de 58.5px,#0000ea 59.5px,#0000dc 60.5px,#0000ad 61.5px,#00009b 62.5px,#0000af 63.5px,#0000b9 64.5px,#0000b6 65.5px,#0000d2 66.5px,#0000c5 68.5px,#0000cf 69.5px,#00a 71.5px,#00a 73.5px,#0000c5 74.5px,#0000c9 75.5px,#0000c0 76.5px,#0000ac 77.5px,#0000a3 78.5px,#0000b0 79.5px,#0000a9 80.5px,#0000cd 86.5px,#0000c6 91.5px,#00009d 94.5px,#0000d4 101.5px,#0000b8 111.5px,#0000be 114.5px)"></i><i style="background:linear-gradient(90deg,#0000a7 0.5px,#00009b 5.5px,#0000a4 15.5px,#0000bc 20.5px,#0000b4 24.5px,#00009b 27.5px,#00a 30.5px,#00009d 31.5px,#0000a2 32.5px,#0000b3 33.5px,#0000d3 37.5px,#0000cf 39.5px,#0000e1 40.5px,#00f 41.5px,#0006ff 42.5px,#0000e1 43.5px,#0000ad 44.5px,#0000d5 45.5px,#0000db 46.5px,#0000c5 47.5px,#0000dc 48.5px,#0000cd 49.5px,#0000a9 50.5px,#0000c4 51.5px,#0000fe 52.5px,#00f 53.5px,#00d 54.5px,#0000af 55.5px,#00f 56.5px,#0002ff 57.5px,#0000e3 58.5px,#0000ed 59.5px,#0000da 60.5px,#0000a4 61.5px,#0000af 62.5px,#0000db 63.5px,#0000d9 64.5px,#0000a2 65.5px,#0000b2 67.5px,#0000c0 70.5px,#0000a4 72.5px,#0000ab 73.5px,#0000a8 74.5px,#0000c4 76.5px,#0000b2 78.5px,#0000bf 81.5px,#0000a5 84.5px,#0000b9 87.5px,#0000b1 89.5px,#0000b2 92.5px,#0000a3 97.5px,#00009d 100.5px,#0000b0 103.5px,#0000ad 107.5px,#0000a3 113.5px,#0000a3 114.5px)"></i><i style="background:linear-gradient(90deg,#0000a2 0.5px,#0000a2 9.5px,#00009d 12.5px,#00009c 14.5px,#0000b1 19.5px,#0000ac 23.5px,#00009d 25.5px,#0000ae 28.5px,#00009d 31.5px,#0000a3 34.5px,#0000cf 38.5px,#0000ed 39.5px,#0005ff 40.5px,#000fff 41.5px,#00e 42.5px,#0000a5 43.5px,#0000b9 45.5px,#0000ac 46.5px,#0000c4 47.5px,#0000f6 48.5px,#0000eb 49.5px,#0000a3 50.5px,#0000f4 52.5px,#00f 53.5px,#0000ae 55.5px,#0000de 56.5px,#0000f9 57.5px,#0000da 58.5px,#0000fe 60.5px,#0000bf 61.5px,#0000ac 62.5px,#0000c7 63.5px,#0000f1 64.5px,#0000bd 65.5px,#0000ab 66.5px,#0000c7 67.5px,#0000ed 68.5px,#0000e7 69.5px,#0000ae 71.5px,#00009a 72.5px,#0000a9 73.5px,#0000ac 74.5px,#0000a0 75.5px,#0000a5 76.5px,#0000bf 77.5px,#0000cb 78.5px,#0000ba 80.5px,#0000c6 81.5px,#0000c4 82.5px,#0000a6 85.5px,#0000b2 87.5px,#0000a4 90.5px,#0000b0 94.5px,#0000b7 97.5px,#0000c6 99.5px,#0000a3 108.5px,#00009a 114.5px)"></i><i style="background:linear-gradient(90deg,#00009e 0.5px,#0000b7 8.5px,#0000ad 11.5px,#009 14.5px,#0000a4 20.5px,#00009f 23.5px,#0000b4 26.5px,#0000a8 29.5px,#00009f 31.5px,#0000b5 33.5px,#0000ae 34.5px,#00009c 35.5px,#00f 39.5px,#00f 40.5px,#0000a6 42.5px,#0000c2 43.5px,#0000a5 45.5px,#00a 46.5px,#0000e1 47.5px,#00f 48.5px,#0000e9 49.5px,#0000b3 50.5px,#0000b6 51.5px,#0000e7 52.5px,#0000e7 53.5px,#0000db 54.5px,#0000c3 55.5px,#0000cd 56.5px,#0000c7 57.5px,#0000f2 59.5px,#0006ff 60.5px,#0000eb 61.5px,#0000a9 62.5px,#0000b2 63.5px,#0000e1 65.5px,#0000ab 66.5px,#0000ae 67.5px,#0000e1 68.5px,#00f 69.5px,#0000f5 70.5px,#0000bd 71.5px,#00009a 72.5px,#0000bc 74.5px,#0000c6 75.5px,#0000bf 76.5px,#0000a4 77.5px,#0000c7 79.5px,#0000c0 81.5px,#0000b7 82.5px,#0000b6 84.5px,#0000af 87.5px,#0000a1 89.5px,#0000a8 94.5px,#0000d7 101.5px,#0000d5 104.5px,#0000b2 112.5px,#0000ab 114.5px)"></i><i style="background:linear-gradient(90deg,#00009f 0.5px,#0000c0 6.5px,#0000b4 10.5px,#00009f 14.5px,#0000a9 23.5px,#0000b4 26.5px,#0000a0 29.5px,#0000c1 32.5px,#0000c5 33.5px,#0000ad 34.5px,#0000a5 35.5px,#0000cb 36.5px,#0000e1 37.5px,#0000e6 38.5px,#0000d4 39.5px,#0000a3 40.5px,#0000ca 41.5px,#0000e3 42.5px,#0000ab 44.5px,#0000b3 45.5px,#0000e0 46.5px,#0000fe 47.5px,#0000f2 48.5px,#0000ad 50.5px,#0000b4 51.5px,#0000d7 52.5px,#00c 54.5px,#0000ae 55.5px,#0000cf 56.5px,#0000be 57.5px,#0000ef 58.5px,#00f 60.5px,#00f 61.5px,#0000af 62.5px,#0000bf 63.5px,#0000b5 64.5px,#0000e0 65.5px,#0000dc 66.5px,#0000ba 67.5px,#0000ac 68.5px,#0000da 69.5px,#0000f7 70.5px,#0000e2 71.5px,#0000b4 72.5px,#0000a4 73.5px,#0000c4 74.5px,#0000d0 76.5px,#00c 77.5px,#0000be 78.5px,#00009e 79.5px,#00b 81.5px,#0000be 87.5px,#00009d 90.5px,#0000a0 94.5px,#0000bc 99.5px,#0000e1 103.5px,#00d 107.5px,#0000b8 114.5px)"></i><i style="background:linear-gradient(90deg,#0000a7 0.5px,#0000c3 5.5px,#0000b3 9.5px,#0000a6 13.5px,#0000b2 24.5px,#00009e 28.5px,#0000b6 30.5px,#0000bd 32.5px,#0000a8 33.5px,#0000a3 34.5px,#0000c7 35.5px,#0000d8 36.5px,#0000d1 37.5px,#0000b5 38.5px,#0000b6 39.5px,#0000e4 40.5px,#0000f6 41.5px,#0000e3 42.5px,#0000bf 43.5px,#0000b8 44.5px,#0000f8 46.5px,#0000f0 47.5px,#0000c4 49.5px,#0000a2 50.5px,#0000c5 53.5px,#0000ae 54.5px,#0000b9 55.5px,#0000d0 56.5px,#0000cf 57.5px,#0000fd 58.5px,#0000ed 60.5px,#0000f5 61.5px,#0000ae 63.5px,#0000b1 64.5px,#0000c0 65.5px,#0000e6 66.5px,#0000e3 67.5px,#0000a5 69.5px,#0000c8 71.5px,#00c 72.5px,#0000c4 73.5px,#0000a7 74.5px,#0000d1 76.5px,#0000d8 78.5px,#0000a6 81.5px,#0000c0 85.5px,#0000cb 87.5px,#0000a1 92.5px,#0000a6 98.5px,#0000ca 102.5px,#0000e8 106.5px,#0000c7 114.5px)"></i><i style="background:linear-gradient(90deg,#0000ae 0.5px,#0000bc 4.5px,#0000a9 11.5px,#0000b9 18.5px,#0000b0 23.5px,#009 27.5px,#0000ad 31.5px,#0000a0 32.5px,#0000c7 34.5px,#0000d1 35.5px,#0000c2 36.5px,#00009c 37.5px,#0000f3 39.5px,#00f 40.5px,#0000f2 41.5px,#0000d6 42.5px,#0000ca 43.5px,#0000cd 44.5px,#0000ed 45.5px,#0000ef 46.5px,#0000d6 47.5px,#0000cb 48.5px,#0000a8 49.5px,#0000b0 50.5px,#0000ab 51.5px,#0000b8 52.5px,#0000ab 54.5px,#0000c6 55.5px,#0000cf 57.5px,#0000f3 58.5px,#0000fe 59.5px,#0000e4 60.5px,#0000dc 61.5px,#0000e0 62.5px,#0000b0 63.5px,#0000ab 65.5px,#00e 67.5px,#0000e8 68.5px,#0000be 69.5px,#0000a3 70.5px,#0000a3 71.5px,#0000d4 73.5px,#0000ce 74.5px,#0000a7 75.5px,#0000d6 77.5px,#0000e0 78.5px,#0000a0 84.5px,#0000c4 88.5px,#0000c2 90.5px,#0000ac 94.5px,#0000ab 98.5px,#0000b5 101.5px,#0000ea 107.5px,#0000e7 110.5px,#0000d4 114.5px)"></i><i style="background:linear-gradient(90deg,#0000b3 0.5px,#0000ae 5.5px,#0000a7 10.5px,#0000b4 20.5px,#000098 25.5px,#0000a3 28.5px,#0000a2 30.5px,#0000cb 33.5px,#0000c8 34.5px,#0000b1 35.5px,#0000a7 36.5px,#0000f1 38.5px,#0000fe 39.5px,#0000f6 40.5px,#0000c6 42.5px,#0000c5 43.5px,#0000e7 45.5px,#0000b6 48.5px,#00009e 49.5px,#0000a1 50.5px,#0000b1 51.5px,#0000b3 52.5px,#0000a1 53.5px,#0000be 54.5px,#0000cb 55.5px,#0000c8 57.5px,#0000d7 58.5px,#0000f5 59.5px,#0000f0 60.5px,#0000dc 61.5px,#0000ea 62.5px,#00c 63.5px,#0000a0 64.5px,#0000ad 66.5px,#0000cf 67.5px,#0000e5 68.5px,#0000b6 70.5px,#0000ae 71.5px,#00009c 72.5px,#0000d4 74.5px,#0000d5 75.5px,#0000b9 76.5px,#0000ae 77.5px,#0000d6 78.5px,#0000e0 79.5px,#00009c 86.5px,#0000c1 90.5px,#0000b8 97.5px,#0000c2 103.5px,#0000ed 109.5px,#00d 114.5px)"></i><i style="background:linear-gradient(90deg,#0000b2 0.5px,#0000a2 10.5px,#0000b1 19.5px,#00009d 24.5px,#0000b3 27.5px,#0000b7 30.5px,#0000c1 31.5px,#0000b2 33.5px,#00009f 34.5px,#0000e1 37.5px,#00e 38.5px,#0000ed 39.5px,#0000ba 42.5px,#0000cf 45.5px,#0000bf 46.5px,#0000ba 47.5px,#0000a0 49.5px,#0000b3 50.5px,#00009f 52.5px,#0000bf 54.5px,#0000c9 56.5px,#0000bd 57.5px,#0000c0 58.5px,#0000f3 60.5px,#0000fc 61.5px,#0000f9 62.5px,#0000de 63.5px,#0000b6 64.5px,#00009c 65.5px,#0000ac 66.5px,#0000a2 67.5px,#0000c7 68.5px,#0000d5 69.5px,#0000be 70.5px,#0000b6 72.5px,#0000a1 73.5px,#0000d5 75.5px,#0000da 76.5px,#0000a7 78.5px,#0000ce 79.5px,#0000e0 80.5px,#0000b6 84.5px,#00009d 88.5px,#00b 92.5px,#0000c3 98.5px,#0000d4 106.5px,#0000e8 110.5px,#0000e2 114.5px)"></i><i style="background:linear-gradient(90deg,#0000b0 0.5px,#000097 10.5px,#0000a4 19.5px,#009 22.5px,#0000bc 26.5px,#0000ba 29.5px,#0000b0 31.5px,#00009d 32.5px,#0000da 37.5px,#0000e0 38.5px,#0000bc 41.5px,#0000b7 42.5px,#0000c3 44.5px,#0000b5 46.5px,#0000b7 47.5px,#0000a7 49.5px,#00a 50.5px,#00009c 51.5px,#0000a5 52.5px,#0000b9 53.5px,#0000c0 56.5px,#0000ae 57.5px,#0000ac 58.5px,#0000ca 59.5px,#0000f5 60.5px,#0004ff 62.5px,#0000f1 63.5px,#0000c1 64.5px,#0000a2 65.5px,#0000b1 67.5px,#0000a0 68.5px,#0000c1 69.5px,#0000be 71.5px,#0000c4 72.5px,#0000c0 73.5px,#0000a4 74.5px,#0000b1 75.5px,#0000ca 76.5px,#0000cd 77.5px,#0000b2 78.5px,#0000a8 79.5px,#0000cd 80.5px,#0000d9 81.5px,#0000b8 85.5px,#0000ab 89.5px,#00009f 90.5px,#0000b8 95.5px,#0000c5 100.5px,#0000d6 108.5px,#0000e1 112.5px,#0000de 114.5px)"></i><i style="background:linear-gradient(90deg,#0000af 0.5px,#009 6.5px,#0000a2 10.5px,#00009b 17.5px,#00009c 21.5px,#0000c1 25.5px,#0000b9 27.5px,#00009b 30.5px,#0000ac 32.5px,#00b 35.5px,#0000d0 37.5px,#0000b9 41.5px,#0000ae 42.5px,#0000b9 45.5px,#0000ad 48.5px,#00009c 50.5px,#0000ab 51.5px,#0000a4 52.5px,#0000b0 53.5px,#0000ab 56.5px,#00009f 57.5px,#00a 58.5px,#00e 60.5px,#0003ff 61.5px,#000aff 62.5px,#00f 63.5px,#0000ca 64.5px,#0000a7 65.5px,#0000a4 66.5px,#0000b9 67.5px,#0000b4 68.5px,#00009b 69.5px,#0000b9 70.5px,#0000d2 73.5px,#0000c8 74.5px,#0000a8 75.5px,#0000b0 76.5px,#0000c3 77.5px,#0000be 78.5px,#0000a8 79.5px,#0000ab 80.5px,#0000c6 81.5px,#0000d0 82.5px,#0000b3 88.5px,#0000a6 91.5px,#00009b 92.5px,#0000b0 95.5px,#0000b9 100.5px,#0000d4 113.5px,#0000d3 114.5px)"></i><i style="background:linear-gradient(90deg,#0000ac 0.5px,#009 4.5px,#0000a9 10.5px,#00009b 17.5px,#0000ac 21.5px,#0000bf 24.5px,#00009a 28.5px,#0000ae 34.5px,#0000c1 37.5px,#0000b0 42.5px,#00b 44.5px,#0000a0 49.5px,#0000b3 51.5px,#0000a5 52.5px,#0000a8 54.5px,#00009f 57.5px,#0000a6 58.5px,#00f 61.5px,#00f 63.5px,#0000d8 64.5px,#0000a4 65.5px,#000098 66.5px,#0000bf 68.5px,#00009d 70.5px,#0000b6 71.5px,#0000d0 74.5px,#0000c0 75.5px,#0000a3 76.5px,#0000b8 78.5px,#0000b3 79.5px,#00009e 80.5px,#0000bf 82.5px,#0000c7 83.5px,#0000a6 92.5px,#00009d 93.5px,#0000ae 97.5px,#0000b1 102.5px,#0000c3 114.5px)"></i><i style="background:linear-gradient(90deg,#0000a4 0.5px,#009 3.5px,#0000ab 9.5px,#0000a3 16.5px,#0000b9 22.5px,#0000a6 25.5px,#00009a 26.5px,#0000a0 29.5px,#0000a6 32.5px,#0000b3 36.5px,#00b 40.5px,#0000b4 41.5px,#0000c2 43.5px,#0000bc 44.5px,#00009d 46.5px,#0000ab 49.5px,#0000b7 50.5px,#0000b7 51.5px,#0000a5 52.5px,#0000a9 53.5px,#00009f 54.5px,#0000ad 55.5px,#0000ae 56.5px,#0000a2 58.5px,#0000d4 60.5px,#0000f3 61.5px,#00f 62.5px,#0000fc 63.5px,#0000d6 64.5px,#0000a3 65.5px,#00009c 67.5px,#0000b9 68.5px,#0000c1 69.5px,#00009f 71.5px,#0000bc 73.5px,#0000c2 74.5px,#0000be 75.5px,#00009b 77.5px,#0000ad 78.5px,#0000af 80.5px,#00009e 81.5px,#0000bf 84.5px,#0000bf 87.5px,#00009b 95.5px,#0000a9 98.5px,#0000a5 103.5px,#0000b0 114.5px)"></i><i style="background:linear-gradient(90deg,#00009c 0.5px,#000097 1.5px,#00a 6.5px,#0000ab 15.5px,#0000b8 20.5px,#0000a8 23.5px,#00009b 25.5px,#00009d 30.5px,#0000b2 33.5px,#0000a8 36.5px,#0000b4 39.5px,#0000b2 40.5px,#0000c8 42.5px,#0000c8 43.5px,#00009f 45.5px,#0000a1 47.5px,#0000bd 50.5px,#0000b6 51.5px,#00009e 52.5px,#0000a7 53.5px,#00009c 54.5px,#0000b8 55.5px,#0000b8 56.5px,#0000a1 57.5px,#0000a3 58.5px,#0000c6 60.5px,#0000e0 61.5px,#0000ec 62.5px,#0000ec 63.5px,#0000cf 64.5px,#0000a3 65.5px,#0000b5 66.5px,#0000a5 68.5px,#0000c0 69.5px,#0000bf 70.5px,#00009d 72.5px,#0000b4 74.5px,#0000b5 75.5px,#00009b 77.5px,#0000b2 80.5px,#0000a0 83.5px,#0000bc 85.5px,#0000bf 88.5px,#00009a 96.5px,#0000a2 99.5px,#00009a 104.5px,#0000a3 114.5px)"></i><i style="background:linear-gradient(90deg,#000098 0.5px,#00a 7.5px,#0000af 13.5px,#0000bd 18.5px,#0000a6 22.5px,#00009b 23.5px,#0000a1 26.5px,#00009d 28.5px,#0000b2 31.5px,#0000ad 33.5px,#00009b 35.5px,#0000b3 40.5px,#0000ca 42.5px,#00009b 45.5px,#00009f 47.5px,#00b 50.5px,#0000b1 51.5px,#009 52.5px,#0000a5 53.5px,#0000a1 54.5px,#0000bf 55.5px,#0000bd 56.5px,#0000a6 57.5px,#0000ab 59.5px,#00d 62.5px,#0000de 63.5px,#0000cd 64.5px,#0000a4 65.5px,#0000b7 66.5px,#0000be 67.5px,#0000a8 68.5px,#0000bc 70.5px,#0000b9 71.5px,#000098 73.5px,#0000a4 75.5px,#00009b 77.5px,#0000af 82.5px,#00009c 84.5px,#0000bf 87.5px,#00b 90.5px,#000098 97.5px,#0000a0 100.5px,#000097 102.5px,#00009e 106.5px,#00009d 110.5px,#00009e 114.5px)"></i><i style="background:linear-gradient(90deg,#009 0.5px,#0000ab 8.5px,#0000ba 13.5px,#0000c0 17.5px,#0000a2 21.5px,#009 22.5px,#0000a7 25.5px,#0000ac 28.5px,#0000b9 30.5px,#00009b 34.5px,#0000a5 36.5px,#00009b 38.5px,#00009f 39.5px,#0000c2 41.5px,#0000c3 42.5px,#0000a2 44.5px,#00009c 47.5px,#0000b5 49.5px,#0000b6 50.5px,#0000a1 52.5px,#0000a9 53.5px,#0000a4 54.5px,#0000c2 55.5px,#0000bd 56.5px,#0000a0 57.5px,#0000b4 60.5px,#0000d1 62.5px,#0000d2 63.5px,#0000c5 64.5px,#0000a2 65.5px,#0000c4 67.5px,#00009f 69.5px,#0000b4 70.5px,#0000bd 71.5px,#0000a9 73.5px,#00009c 74.5px,#0000a5 78.5px,#0000a5 81.5px,#0000b0 84.5px,#000098 86.5px,#0000b9 88.5px,#0000c2 90.5px,#0000a1 95.5px,#000097 102.5px,#0000a7 106.5px,#00009a 112.5px,#00009c 114.5px)"></i><i style="background:linear-gradient(90deg,#00009c 0.5px,#0000ad 7.5px,#0000c6 15.5px,#0000ac 19.5px,#000098 21.5px,#0000b6 27.5px,#0000b4 30.5px,#00009b 33.5px,#0000b3 35.5px,#0000b1 37.5px,#000098 39.5px,#0000b9 41.5px,#0000a0 44.5px,#0000a5 46.5px,#00009c 47.5px,#0000b2 49.5px,#0000b1 50.5px,#0000a2 51.5px,#0000a5 54.5px,#0000c2 55.5px,#0000bc 56.5px,#00009a 57.5px,#0000b1 59.5px,#0000c8 63.5px,#00b 64.5px,#0000a0 65.5px,#0000c8 67.5px,#0000b9 68.5px,#000098 69.5px,#0000b3 70.5px,#0000be 71.5px,#0000b6 73.5px,#0000a1 75.5px,#0000ae 78.5px,#0000a0 81.5px,#0000b9 84.5px,#0000b1 86.5px,#0000a3 87.5px,#0000a2 88.5px,#0000be 90.5px,#0000bd 92.5px,#00009f 97.5px,#00009d 103.5px,#0000ae 108.5px,#000096 113.5px,#00009a 114.5px)"></i><i style="background:linear-gradient(90deg,#00009e 0.5px,#00b 10.5px,#0000c7 13.5px,#0000bd 16.5px,#000098 20.5px,#0000c0 26.5px,#0000b0 30.5px,#009 32.5px,#0000c2 35.5px,#0000ba 37.5px,#009 39.5px,#0000a8 40.5px,#0000a6 42.5px,#0000a6 44.5px,#0000a7 46.5px,#00009c 47.5px,#0000b3 49.5px,#0000b1 50.5px,#00009f 51.5px,#0000a5 53.5px,#0000a4 54.5px,#0000bd 55.5px,#0000b6 56.5px,#00009c 57.5px,#0000b3 58.5px,#00b 63.5px,#0000b4 64.5px,#00009f 65.5px,#0000c5 67.5px,#0000b7 68.5px,#00009a 69.5px,#0000bf 71.5px,#0000bd 73.5px,#0000a6 76.5px,#0000ac 79.5px,#00009c 82.5px,#00b 85.5px,#0000b8 87.5px,#00009b 89.5px,#00b 91.5px,#0000b7 94.5px,#0000a2 97.5px,#0000a6 105.5px,#0000b1 109.5px,#00009b 114.5px)"></i><i style="background:linear-gradient(90deg,#0000a3 0.5px,#0000bd 10.5px,#0000be 14.5px,#009 19.5px,#0000c2 25.5px,#0000b0 29.5px,#00009a 31.5px,#0000c5 34.5px,#0000c4 36.5px,#00009c 39.5px,#00009c 43.5px,#00a 45.5px,#009 47.5px,#0000af 49.5px,#0000ad 50.5px,#00009d 51.5px,#0000a5 53.5px,#0000a2 54.5px,#0000ba 55.5px,#0000a3 57.5px,#0000bd 58.5px,#00b 60.5px,#0000a9 64.5px,#00009a 65.5px,#0000b4 66.5px,#0000c2 67.5px,#0000b9 68.5px,#00009c 69.5px,#0000c1 71.5px,#0000bf 73.5px,#0000a4 77.5px,#0000a2 80.5px,#000098 82.5px,#0000c0 87.5px,#0000bc 88.5px,#000098 90.5px,#0000b6 92.5px,#0000bc 94.5px,#0000a3 99.5px,#00a 106.5px,#0000b3 110.5px,#0000a4 114.5px)"></i><i style="background:linear-gradient(90deg,#0000a7 0.5px,#00b 12.5px,#009 17.5px,#0000be 23.5px,#0000bd 26.5px,#00009f 30.5px,#0000a1 31.5px,#0000c1 33.5px,#0000c5 35.5px,#00009a 40.5px,#00009f 46.5px,#00009a 47.5px,#0000ad 49.5px,#0000a9 50.5px,#009 51.5px,#0000a8 52.5px,#00009f 54.5px,#0000b5 55.5px,#0000a9 56.5px,#00a 57.5px,#0000c4 58.5px,#0000cb 59.5px,#0000a6 63.5px,#00009d 65.5px,#0000c1 67.5px,#0000bc 68.5px,#0000a2 69.5px,#0000bf 71.5px,#0000b6 74.5px,#0000a0 78.5px,#00009a 83.5px,#0000a6 85.5px,#0000be 87.5px,#0000bc 89.5px,#00009a 91.5px,#00b 94.5px,#0000a7 101.5px,#0000af 113.5px,#0000ad 114.5px)"></i><i style="background:linear-gradient(90deg,#0000a9 0.5px,#0000ae 12.5px,#009 15.5px,#0000bf 22.5px,#0000ae 28.5px,#009 30.5px,#0000be 33.5px,#0000ab 37.5px,#0000a3 41.5px,#009 44.5px,#000098 46.5px,#0000ae 48.5px,#0000b0 49.5px,#00009a 51.5px,#0000ab 52.5px,#00a 53.5px,#00009c 54.5px,#0000ac 55.5px,#00009d 56.5px,#0000cd 58.5px,#0000d3 59.5px,#0000ca 60.5px,#0000a6 62.5px,#00009b 64.5px,#00009e 65.5px,#0000bf 67.5px,#0000c0 68.5px,#0000a1 70.5px,#0000b7 71.5px,#0000bf 72.5px,#00009c 78.5px,#00009c 85.5px,#0000bc 88.5px,#00b 90.5px,#00009b 92.5px,#0000bd 95.5px,#00a 103.5px,#0000b0 114.5px)"></i><i style="background:linear-gradient(90deg,#0000a6 0.5px,#0000a0 11.5px,#000098 13.5px,#0000bc 20.5px,#0000b0 27.5px,#00009d 29.5px,#00009f 30.5px,#0000b3 32.5px,#0000a8 40.5px,#0000a6 43.5px,#0000a5 46.5px,#0000b1 48.5px,#00009f 51.5px,#0000ad 52.5px,#0000ab 53.5px,#000098 54.5px,#0000a1 55.5px,#00009c 56.5px,#0000d1 58.5px,#0000d7 59.5px,#0000b7 61.5px,#00009c 63.5px,#00009c 65.5px,#0000bd 67.5px,#0000c5 68.5px,#0000ba 69.5px,#0000a2 70.5px,#0000b8 72.5px,#0000ab 75.5px,#009 78.5px,#00009e 85.5px,#00009b 86.5px,#00b 89.5px,#0000ba 91.5px,#00009a 93.5px,#00b 96.5px,#0000b9 100.5px,#0000a9 110.5px,#0000ad 114.5px)"></i><i style="background:linear-gradient(90deg,#00009e 0.5px,#000097 9.5px,#00b 18.5px,#0000ac 27.5px,#009 29.5px,#0000ac 32.5px,#0000a5 37.5px,#0000b1 42.5px,#00a 45.5px,#0000b2 48.5px,#00009d 50.5px,#0000b0 52.5px,#0000ac 53.5px,#000098 55.5px,#0000d4 58.5px,#0000da 59.5px,#00b 61.5px,#0000a8 62.5px,#00009a 65.5px,#0000c3 68.5px,#0000c2 69.5px,#00009d 71.5px,#0000b0 73.5px,#000098 78.5px,#0000a7 84.5px,#00009b 87.5px,#0000bc 90.5px,#0000b9 92.5px,#00009a 94.5px,#0000c0 98.5px,#0000bf 102.5px,#0000a6 112.5px,#0000a8 114.5px)"></i><i style="background:linear-gradient(90deg,#000096 0.5px,#0000af 11.5px,#0000bd 17.5px,#0000ab 26.5px,#009 28.5px,#0000a5 31.5px,#000098 35.5px,#0000b8 41.5px,#0000b3 45.5px,#0000b7 47.5px,#009 50.5px,#0000b3 52.5px,#0000a4 55.5px,#0000d3 58.5px,#0000d8 59.5px,#0000d1 60.5px,#0000ae 62.5px,#00009b 66.5px,#0000c0 68.5px,#0000c7 69.5px,#0000b1 71.5px,#00009c 72.5px,#0000a5 75.5px,#00009a 79.5px,#0000ae 84.5px,#00009c 88.5px,#0000bc 91.5px,#0000b8 93.5px,#00009d 95.5px,#0000c6 100.5px,#0000c6 103.5px,#0000a3 112.5px,#0000a2 114.5px)"></i><i style="background:linear-gradient(90deg,#0000a1 0.5px,#0000bf 14.5px,#00a 25.5px,#00009b 27.5px,#0000a2 30.5px,#000097 32.5px,#0000a0 34.5px,#000098 36.5px,#00b 41.5px,#0000b4 44.5px,#0000b4 47.5px,#00009f 49.5px,#00009f 50.5px,#0000b7 52.5px,#0000b0 55.5px,#0000d4 58.5px,#0000d0 60.5px,#0000b1 63.5px,#0000ab 65.5px,#00009e 66.5px,#0000ca 69.5px,#0000cd 70.5px,#00009e 73.5px,#00009c 78.5px,#00009d 80.5px,#0000b4 85.5px,#00009e 88.5px,#00009e 89.5px,#0000bc 92.5px,#0000b6 94.5px,#00009d 96.5px,#00009e 97.5px,#0000c3 100.5px,#0000ce 103.5px,#0000a0 113.5px,#00009f 114.5px)"></i><i style="background:linear-gradient(90deg,#00a 0.5px,#0000c1 12.5px,#0000a0 25.5px,#00009d 27.5px,#00009c 30.5px,#009 31.5px,#0000a6 34.5px,#00009c 37.5px,#0000b8 40.5px,#0000b4 46.5px,#009 49.5px,#0000bc 52.5px,#0000ba 55.5px,#0000d2 58.5px,#0000c7 61.5px,#0000b5 65.5px,#00009e 67.5px,#0000c7 69.5px,#0000cf 70.5px,#0000c1 72.5px,#00009e 74.5px,#00009a 75.5px,#00009f 78.5px,#000097 80.5px,#0000b6 85.5px,#0000a7 88.5px,#00009a 89.5px,#0000ba 93.5px,#00a 96.5px,#00009d 97.5px,#00009d 98.5px,#0000ca 102.5px,#0000d0 105.5px,#00009e 114.5px)"></i><i style="background:linear-gradient(90deg,#0000b0 0.5px,#0000c1 9.5px,#00009d 24.5px,#000097 25.5px,#0000a3 28.5px,#00009a 30.5px,#0000b0 33.5px,#00009a 37.5px,#0000b5 40.5px,#0000ab 46.5px,#00009b 49.5px,#0000c0 52.5px,#0000c9 56.5px,#0000d0 60.5px,#0000bf 65.5px,#0000b2 66.5px,#00009a 67.5px,#0000cf 70.5px,#0000d3 71.5px,#0000bd 73.5px,#00009e 75.5px,#0000a2 79.5px,#000097 81.5px,#0000b9 86.5px,#0000a3 89.5px,#000097 90.5px,#0000b5 93.5px,#0000b2 96.5px,#00009d 98.5px,#00009d 99.5px,#0000cb 103.5px,#0000d3 106.5px,#0000a1 114.5px)"></i><i style="background:linear-gradient(90deg,#0000b5 0.5px,#0000c0 8.5px,#00009c 22.5px,#00009a 24.5px,#0000a4 27.5px,#000097 29.5px,#0000b6 32.5px,#0000ad 35.5px,#00009b 37.5px,#0000b0 39.5px,#00009c 47.5px,#00009e 49.5px,#0000c6 53.5px,#0000d1 60.5px,#0000c5 65.5px,#0000a1 67.5px,#0000a6 68.5px,#0000ce 70.5px,#0000d5 71.5px,#0000c8 73.5px,#009 76.5px,#0000a7 79.5px,#00009a 83.5px,#0000b8 87.5px,#00009b 91.5px,#0000b4 94.5px,#0000af 97.5px,#00009c 99.5px,#00009c 100.5px,#0000ca 104.5px,#0000d3 107.5px,#00b 111.5px,#0000a5 114.5px)"></i><i style="background:linear-gradient(90deg,#0000b8 0.5px,#0000bd 6.5px,#0000a3 17.5px,#000096 21.5px,#0000a6 26.5px,#009 28.5px,#0000be 32.5px,#0000b9 34.5px,#0000a0 36.5px,#00009d 37.5px,#0000ab 39.5px,#00009a 47.5px,#0000a8 50.5px,#0000c8 53.5px,#0000d6 59.5px,#0000c6 65.5px,#0000a5 67.5px,#0000a1 68.5px,#0000ca 70.5px,#0000d6 72.5px,#0000c4 74.5px,#0000a0 76.5px,#00009d 77.5px,#0000ab 80.5px,#000097 84.5px,#0000b2 87.5px,#0000b0 89.5px,#00009b 91.5px,#0000b4 96.5px,#0000a4 99.5px,#009 100.5px,#0000cd 106.5px,#0000cf 109.5px,#0000ad 114.5px)"></i><i style="background:linear-gradient(90deg,#0000b9 0.5px,#0000b5 6.5px,#0000a4 15.5px,#000098 19.5px,#0000a7 25.5px,#00009d 28.5px,#0000c1 31.5px,#0000c3 33.5px,#00009e 36.5px,#0000a6 39.5px,#000098 43.5px,#0000a0 47.5px,#00009e 49.5px,#0000ce 54.5px,#0000db 59.5px,#0000ca 63.5px,#0000c7 65.5px,#00009d 68.5px,#0000c5 70.5px,#0000d7 72.5px,#0000c9 74.5px,#000097 77.5px,#0000ae 79.5px,#0000a1 84.5px,#009 85.5px,#0000b0 89.5px,#000098 92.5px,#0000b2 96.5px,#0000a9 99.5px,#000096 101.5px,#0000cb 107.5px,#0000cd 110.5px,#0000b4 114.5px)"></i><i style="background:linear-gradient(90deg,#0000b8 0.5px,#0000a9 11.5px,#000097 17.5px,#0000a8 24.5px,#00009a 27.5px,#0000c8 31.5px,#0000c6 33.5px,#009 36.5px,#0000a1 39.5px,#009 41.5px,#0000a9 46.5px,#00009e 49.5px,#0000ae 51.5px,#0000d8 55.5px,#0000e0 59.5px,#0000ca 63.5px,#0000c6 65.5px,#00009a 68.5px,#0000cf 71.5px,#0000d4 73.5px,#0000c0 75.5px,#00009c 77.5px,#0000b1 80.5px,#0000a4 85.5px,#00009b 87.5px,#0000ad 89.5px,#0000ab 91.5px,#000096 93.5px,#0000b0 97.5px,#0000a5 100.5px,#000098 102.5px,#0000c5 107.5px,#0000ca 111.5px,#00b 114.5px)"></i><i style="background:linear-gradient(90deg,#0000b4 0.5px,#0000a3 8.5px,#0000a0 13.5px,#009 16.5px,#00a 22.5px,#00009f 25.5px,#000096 26.5px,#0000c7 30.5px,#0000c9 32.5px,#000097 36.5px,#00009e 38.5px,#009 40.5px,#0000b1 44.5px,#00009c 49.5px,#0000a9 51.5px,#0000da 55.5px,#0000e6 58.5px,#0000c8 63.5px,#00b 66.5px,#000098 68.5px,#0000ca 71.5px,#0000d3 73.5px,#0000b1 76.5px,#0000a0 77.5px,#00009d 78.5px,#0000b3 80.5px,#0000af 85.5px,#00009a 88.5px,#0000ac 90.5px,#0000a9 92.5px,#000096 94.5px,#0000af 98.5px,#0000a3 101.5px,#00009a 103.5px,#0000c4 108.5px,#0000c8 112.5px,#0000c0 114.5px)"></i><i style="background:linear-gradient(90deg,#0000ae 0.5px,#00009f 6.5px,#00009e 12.5px,#000095 14.5px,#00a 21.5px,#009 25.5px,#00c 30.5px,#0000c6 32.5px,#00009d 35.5px,#000098 39.5px,#0000b5 43.5px,#0000b3 45.5px,#000098 49.5px,#0000a3 51.5px,#0000dc 55.5px,#0000e9 58.5px,#0000c6 64.5px,#0000ba 66.5px,#009 68.5px,#0000cd 72.5px,#0000cb 74.5px,#0000a2 77.5px,#00009c 78.5px,#0000b3 80.5px,#0000b3 85.5px,#009 89.5px,#0000ab 91.5px,#00009f 94.5px,#000096 95.5px,#0000af 99.5px,#0000a0 102.5px,#000097 103.5px,#0000c3 109.5px,#0000c2 114.5px)"></i><i style="background:linear-gradient(90deg,#0000a7 0.5px,#00009c 6.5px,#00009d 11.5px,#000095 13.5px,#0000a8 19.5px,#0000a0 23.5px,#00009b 25.5px,#0000c7 29.5px,#0000c9 31.5px,#000098 35.5px,#00009b 39.5px,#0000ba 43.5px,#0000ab 46.5px,#000098 48.5px,#000096 50.5px,#0000ad 52.5px,#00d 55.5px,#0000eb 58.5px,#0000c9 63.5px,#0000b9 66.5px,#00009b 68.5px,#0000c9 72.5px,#0000bf 75.5px,#0000a1 77.5px,#00009b 78.5px,#0000b8 81.5px,#0000af 87.5px,#00009a 90.5px,#0000a9 93.5px,#000096 96.5px,#0000af 100.5px,#00009f 103.5px,#000095 104.5px,#0000c0 109.5px,#0000c4 114.5px)"></i><i style="background:linear-gradient(90deg,#0000a1 0.5px,#00009c 6.5px,#009 13.5px,#0000a7 19.5px,#000098 24.5px,#0000c6 29.5px,#0000c1 31.5px,#00009c 34.5px,#00009d 37.5px,#000097 38.5px,#00b 42.5px,#0000b9 44.5px,#00009c 47.5px,#00009a 51.5px,#0000de 55.5px,#0000ed 58.5px,#0000ca 63.5px,#0000ba 66.5px,#00009e 68.5px,#00009e 69.5px,#0000c1 72.5px,#0000c4 74.5px,#00009b 78.5px,#0000b8 81.5px,#0000b3 87.5px,#00009a 90.5px,#0000a8 94.5px,#000096 97.5px,#0000ae 101.5px,#000097 105.5px,#0000c0 110.5px,#0000c4 114.5px)"></i><i style="background:linear-gradient(90deg,#00009d 0.5px,#000098 12.5px,#0000a4 19.5px,#000096 23.5px,#0000c2 28.5px,#0000b8 31.5px,#000096 34.5px,#00009f 36.5px,#009 38.5px,#0000bd 42.5px,#0000b7 44.5px,#000096 47.5px,#0000a3 49.5px,#000097 51.5px,#00d 55.5px,#0000ec 58.5px,#0000c6 64.5px,#0000af 67.5px,#009 69.5px,#00b 72.5px,#0000bf 74.5px,#00009f 77.5px,#00009c 78.5px,#0000b9 81.5px,#00a 89.5px,#000097 91.5px,#0000a8 95.5px,#000095 98.5px,#0000ad 102.5px,#000098 106.5px,#00b 110.5px,#0000c3 114.5px)"></i><i style="background:linear-gradient(90deg,#00009b 0.5px,#000097 11.5px,#0000a3 18.5px,#000096 22.5px,#0000be 28.5px,#0000b8 30.5px,#000098 33.5px,#0000a0 36.5px,#00009c 38.5px,#00b 41.5px,#0000b2 44.5px,#009 46.5px,#0000a8 49.5px,#000098 51.5px,#00b 53.5px,#00d 55.5px,#0000eb 58.5px,#0000c7 64.5px,#0000b2 67.5px,#000096 69.5px,#00b 73.5px,#00a 76.5px,#00009c 77.5px,#00009d 78.5px,#0000b8 81.5px,#0000af 88.5px,#000095 92.5px,#0000a6 95.5px,#00009d 98.5px,#000095 99.5px,#0000ab 103.5px,#00009a 107.5px,#00b 111.5px,#0000c1 114.5px)"></i><i style="background:linear-gradient(90deg,#00009b 0.5px,#009 11.5px,#00009f 19.5px,#000097 22.5px,#0000ba 27.5px,#0000b0 30.5px,#00009b 32.5px,#009 33.5px,#0000a1 35.5px,#000096 37.5px,#00b 41.5px,#0000b5 43.5px,#00009d 45.5px,#00009b 46.5px,#0000ac 49.5px,#00009a 51.5px,#0000a4 52.5px,#00d 55.5px,#0000e9 58.5px,#0000c9 64.5px,#0000b4 67.5px,#00009a 69.5px,#0000b5 73.5px,#0000b1 75.5px,#00009c 77.5px,#00009c 78.5px,#0000b7 81.5px,#0000b4 85.5px,#000097 93.5px,#0000a7 97.5px,#000095 100.5px,#0000a9 104.5px,#000097 107.5px,#0000bd 113.5px,#0000c0 114.5px)"></i><i style="background:linear-gradient(90deg,#00009b 0.5px,#000098 9.5px,#00009f 18.5px,#000095 21.5px,#0000b6 27.5px,#0000a9 30.5px,#000095 32.5px,#0000a2 35.5px,#000097 37.5px,#0000b8 40.5px,#0000b9 42.5px,#000098 45.5px,#0000b1 48.5px,#0000ac 50.5px,#00009b 51.5px,#0000a4 52.5px,#0000dc 55.5px,#0000e8 58.5px,#0000ca 64.5px,#0000b7 67.5px,#00009d 69.5px,#00009a 70.5px,#0000b1 73.5px,#0000a5 76.5px,#00009b 77.5px,#00009c 78.5px,#0000b9 82.5px,#00009d 92.5px,#000098 94.5px,#0000a6 98.5px,#000095 101.5px,#0000a5 105.5px,#000095 108.5px,#00b 114.5px)"></i><i style="background:linear-gradient(90deg,#00009b 0.5px,#000096 6.5px,#00009d 18.5px,#000097 21.5px,#0000b4 27.5px,#000098 31.5px,#00009f 35.5px,#000097 36.5px,#0000ba 40.5px,#0000b3 42.5px,#000098 44.5px,#0000b7 48.5px,#0000ad 50.5px,#00009c 51.5px,#0000a4 52.5px,#0000dc 55.5px,#0000e8 58.5px,#0000b9 67.5px,#000097 70.5px,#0000ae 73.5px,#0000a4 76.5px,#009 78.5px,#0000b6 82.5px,#0000af 86.5px,#000098 95.5px,#0000a4 99.5px,#000096 102.5px,#0000a2 106.5px,#000095 109.5px,#0000b6 114.5px)"></i><i style="background:linear-gradient(90deg,#009 0.5px,#00009a 6.5px,#00009c 18.5px,#000098 21.5px,#0000b0 26.5px,#0000a6 29.5px,#000095 31.5px,#0000a0 34.5px,#000097 36.5px,#0000b5 39.5px,#0000b7 41.5px,#00009f 43.5px,#00009c 44.5px,#0000ba 47.5px,#0000b8 49.5px,#00009c 51.5px,#0000a4 52.5px,#0000dc 55.5px,#0000e8 57.5px,#00b 67.5px,#000097 70.5px,#0000ae 74.5px,#000096 78.5px,#0000b5 83.5px,#000096 95.5px,#0000a3 100.5px,#000097 104.5px,#00009b 108.5px,#000097 110.5px,#0000b0 114.5px)"></i><i style="background:linear-gradient(90deg,#000096 0.5px,#00009f 16.5px,#000095 20.5px,#0000af 26.5px,#000096 31.5px,#00009b 34.5px,#000095 35.5px,#0000b8 39.5px,#0000b3 41.5px,#000096 43.5px,#0000bc 46.5px,#0000c0 48.5px,#0000ae 50.5px,#00009c 51.5px,#0000a5 52.5px,#0000dc 55.5px,#0000e9 57.5px,#0000bd 67.5px,#00009a 70.5px,#0000ad 74.5px,#000097 78.5px,#0000b2 84.5px,#00009a 92.5px,#000097 97.5px,#0000a0 102.5px,#000094 105.5px,#000097 109.5px,#000098 111.5px,#0000a9 114.5px)"></i><i style="background:linear-gradient(90deg,#000094 0.5px,#0000a0 9.5px,#00009b 18.5px,#000095 20.5px,#0000ac 26.5px,#000097 31.5px,#000095 34.5px,#0000b9 39.5px,#0000ad 41.5px,#00009e 42.5px,#00009c 43.5px,#0000c1 46.5px,#00b 49.5px,#00009c 51.5px,#0000a5 52.5px,#0000dc 55.5px,#0000ea 57.5px,#00c 65.5px,#0000a9 69.5px,#009 71.5px,#0000ad 74.5px,#000096 79.5px,#0000ad 85.5px,#000098 92.5px,#00009a 99.5px,#0000a0 103.5px,#000096 108.5px,#00009a 112.5px,#0000a4 114.5px)"></i><i style="background:linear-gradient(90deg,#000098 0.5px,#0000a1 9.5px,#00009b 18.5px,#000095 20.5px,#0000ab 25.5px,#000095 32.5px,#0000a2 35.5px,#0000b8 38.5px,#0000b3 40.5px,#000098 42.5px,#0000c3 46.5px,#0000bc 49.5px,#00009b 51.5px,#0000a5 52.5px,#00d 55.5px,#0000eb 57.5px,#0000db 62.5px,#0000c1 67.5px,#000097 71.5px,#0000ae 74.5px,#00009b 79.5px,#009 81.5px,#0000a8 86.5px,#000095 92.5px,#000098 100.5px,#0000a0 104.5px,#000095 111.5px,#0000a0 114.5px)"></i><i style="background:linear-gradient(90deg,#00009b 0.5px,#0000a2 13.5px,#000096 20.5px,#0000a9 25.5px,#000097 32.5px,#0000ba 38.5px,#0000af 40.5px,#000098 42.5px,#0000bf 45.5px,#0000c6 47.5px,#0000bc 49.5px,#00009a 51.5px,#0000ba 53.5px,#0000e8 56.5px,#0000ec 59.5px,#0000c2 67.5px,#000095 71.5px,#0000b0 74.5px,#0000a5 78.5px,#000097 82.5px,#0000a3 87.5px,#000094 93.5px,#000098 99.5px,#00009b 102.5px,#00009b 107.5px,#00009a 113.5px,#00009c 114.5px)"></i><i style="background:linear-gradient(90deg,#00009d 0.5px,#00009e 16.5px,#000097 20.5px,#0000a9 25.5px,#00009b 31.5px,#0000b8 37.5px,#0000b2 39.5px,#00009b 41.5px,#00009d 42.5px,#0000c1 45.5px,#0000c7 47.5px,#0000ba 49.5px,#009 51.5px,#0000e8 56.5px,#00e 59.5px,#0000c3 67.5px,#000097 71.5px,#0000b3 75.5px,#000095 83.5px,#00009f 87.5px,#000095 91.5px,#009 100.5px,#00009a 103.5px,#00009d 108.5px,#00009b 114.5px)"></i><i style="background:linear-gradient(90deg,#00009f 0.5px,#00009e 16.5px,#000094 19.5px,#0000a9 25.5px,#00009e 31.5px,#0000ba 37.5px,#0000a3 40.5px,#000095 41.5px,#0000bf 45.5px,#0000bf 48.5px,#0000a9 50.5px,#000098 51.5px,#0000e7 56.5px,#0000ef 59.5px,#0000c3 67.5px,#00009a 71.5px,#0000b5 75.5px,#0000ac 79.5px,#000097 85.5px,#000098 96.5px,#00009a 101.5px,#009 104.5px,#00009d 110.5px,#00009c 114.5px)"></i><i style="background:linear-gradient(90deg,#00009d 0.5px,#00009c 16.5px,#000096 19.5px,#0000a8 24.5px,#0000a0 30.5px,#0000b9 36.5px,#0000b2 38.5px,#000098 41.5px,#0000b6 44.5px,#0000bf 47.5px,#0000a8 50.5px,#000098 51.5px,#0000e4 56.5px,#00e 59.5px,#0000d2 65.5px,#00009c 71.5px,#00009a 72.5px,#0000b7 75.5px,#0000b5 78.5px,#000094 86.5px,#00009a 97.5px,#00009e 101.5px,#000093 104.5px,#00009f 110.5px,#00009c 114.5px)"></i><i style="background:linear-gradient(90deg,#00009b 0.5px,#00009c 15.5px,#000094 18.5px,#0000a8 24.5px,#0000a3 30.5px,#0000b9 36.5px,#0000a5 39.5px,#009 40.5px,#0000a5 42.5px,#0000bc 46.5px,#0000b2 49.5px,#000097 51.5px,#0000e1 56.5px,#0000ed 59.5px,#0000d9 64.5px,#000097 72.5px,#0000b8 75.5px,#0000b9 78.5px,#000094 88.5px,#00009b 94.5px,#000097 97.5px,#00009f 102.5px,#000093 105.5px,#0000a0 111.5px,#00009d 114.5px)"></i></div>
<div class="c" style="height:115.1px;transform:translate(514px,164px)"></div>
<div class="k" style="left:528.7px;top:274.9px">0</div>
<div class="k" style="left:528.7px;top:257.498px">0.05</div>
<b class="m" style="transform:translate(514.5px,261.198px)"></b><b class="m" style="transform:translate(523.5px,261.198px)"></b>
<div class="k" style="left:528.7px;top:240.095px">0.1</div>
<b class="m" style="transform:translate(514.5px,243.795px)"></b><b class="m" style="transform:translate(523.5px,243.795px)"></b>
<div class="k" style="left:528.7px;top:222.693px">0.15</div>
<b class="m" style="transform:translate(514.5px,226.393px)"></b><b class="m" style="transform:translate(523.5px,226.393px)"></b>
<div class="k" style="left:528.7px;top:205.29px">0.2</div>
<b class="m" style="transform:translate(514.5px,208.99px)"></b><b class="m" style="transform:translate(523.5px,208.99px)"></b>
<div class="k" style="left:528.7px;top:187.888px">0.25</div>
<b class="m" style="transform:translate(514.5px,191.588px)"></b><b class="m" style="transform:translate(523.5px,191.588px)"></b>
<div class="k" style="left:528.7px;top:170.485px">0.3</div>
<b class="m" style="transform:translate(514.5px,174.185px)"></b><b class="m" style="transform:translate(523.5px,174.185px)"></b></div></body></html>
